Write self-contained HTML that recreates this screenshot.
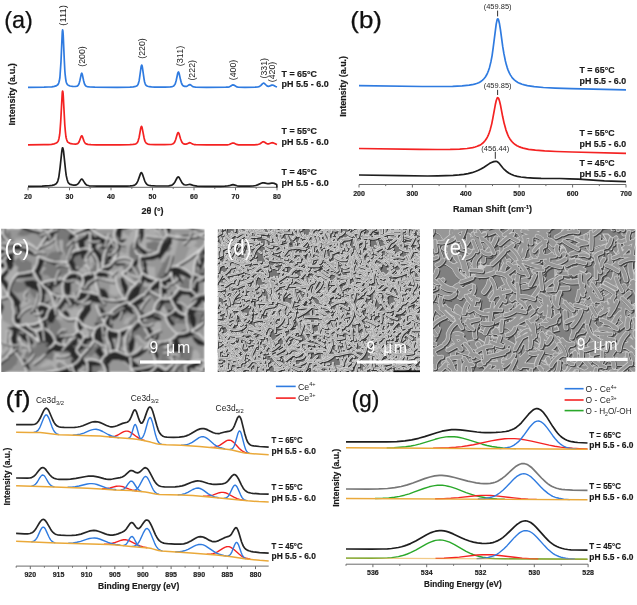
<!DOCTYPE html>
<html><head><meta charset="utf-8"><title>Figure</title>
<style>html,body{margin:0;padding:0;background:#fff;width:637px;height:605px;overflow:hidden}svg{display:block}</style>
</head><body>
<svg width="637" height="605" viewBox="0 0 637 605">
<rect width="637" height="605" fill="#fff"/>
<g stroke="#6a6a6a" stroke-width="1" fill="none">
<path d="M28,187.3H277"/>
<path d="M28,187.3v3M69.5,187.3v3M111,187.3v3M152.5,187.3v3M194,187.3v3M235.5,187.3v3M277,187.3v3M48.8,187.3v1.6M90.2,187.3v1.6M131.8,187.3v1.6M173.2,187.3v1.6M214.8,187.3v1.6M256.2,187.3v1.6"/></g>
<g fill="none" stroke-width="1.7" stroke-linejoin="round">
<path stroke="#2f7be0" d="M28,87.3 44.1,87.2 48.5,87 51.8,86.8 54.3,86.4 56,85.9 57.4,85.1 58.2,84.1 58.7,83.1 59.3,81.1 59.9,77.5 60.1,74.8 61,61.5 62.1,36.1 62.3,31.7 62.6,29.9 62.9,31 63.2,34.9 64.3,60.2 64.8,70.3 65.1,74 65.7,79.1 66.2,82 66.5,82.8 67.1,84 67.6,84.7 68.2,85.1 69,85.6 70.1,86 72.6,86.4 75.4,86.5 77,86.1 77.6,85.9 78.1,85.4 78.7,84.5 79.2,83.1 79.8,81 81.2,74.3 81.5,73.5 81.7,73.2 82,73.5 82.3,74.3 83.7,81 84.5,83.9 85.1,85.1 85.6,85.8 86.4,86.3 87.3,86.6 90,87 94.8,87.2 117.2,87.3 129.9,87.1 133.3,86.8 135.5,86.4 136.6,86 137.4,85.3 138,84.5 138.5,83.1 139.1,80.9 139.6,77.7 141,67.5 141.3,66 141.6,65.2 141.8,65.1 142.1,65.9 142.4,67.3 144.1,79.3 144.6,82 145.2,83.8 145.7,84.9 146.5,85.8 147.7,86.3 149.3,86.7 151.5,86.9 154.9,87.1 164.8,87.1 170.4,86.9 172,86.6 173.1,86.2 173.7,85.9 174.2,85.4 174.8,84.5 175.4,83.3 176.2,80.5 177.8,73 178.1,72.3 178.4,72 178.7,72.2 179.2,73.7 180.6,80.1 181.2,82.2 181.7,83.8 182.3,84.8 182.8,85.5 183.7,86.1 184.8,86.4 185.9,86.4 186.7,86.3 187.5,85.9 189.2,84.8 189.8,84.6 190.6,84.9 192.2,86.2 193.1,86.6 194.2,86.9 195.6,87.1 206.6,87.3 225.8,87.2 228,87.1 229.4,86.8 230.5,86.3 232.1,85.1 233,84.9 233.8,85.1 236.3,86.6 237.1,86.9 238.2,87.1 244.9,87.3 255.4,87.2 257.9,86.9 258.7,86.7 259.6,86.4 260.7,85.6 262.6,83.6 263.4,83.1 263.7,83.1 264.3,83.4 266.5,85.5 267.3,86.1 267.9,86.3 268.4,86.3 269.2,86.2 271.7,85.1 272.6,85 273.4,85.3 275.6,86.5 277,87"/>
<path stroke="#f42222" d="M28,144.9 43.8,144.7 48.2,144.6 51.5,144.3 54,143.9 55.7,143.3 57.1,142.5 57.9,141.5 58.5,140.3 59,138.4 59.6,135 59.9,132.6 60.7,121.6 62.1,95.6 62.3,92.3 62.6,91 62.9,91.8 63.2,94.7 64.8,125 65.4,131.9 65.9,136.5 66.2,138 66.8,140.1 67.6,141.8 68.2,142.4 69,142.9 70.9,143.7 73.1,144 75.4,144.1 76.7,143.9 77.9,143.4 78.7,142.5 79.2,141.5 80.9,137 81.5,135.9 81.7,135.8 82,135.9 82.3,136.3 83.9,140.9 84.5,142.1 85.1,143 85.6,143.6 86.2,143.9 87.8,144.4 90.9,144.7 96.4,144.8 119.7,144.9 129.9,144.7 133,144.4 134.9,144.1 136,143.7 136.9,143.1 137.7,142 138.2,140.6 139.1,137.5 140.7,128.3 141.3,126.5 141.6,126.4 141.8,126.8 142.1,127.6 144.1,138 144.6,140.1 145.2,141.6 146,142.9 146.8,143.6 147.9,144.1 149.6,144.4 155.1,144.7 164.5,144.7 169.8,144.5 171.5,144.3 172.6,144 173.7,143.3 174.2,142.7 174.8,141.7 175.6,139.7 177.3,134.1 177.8,132.8 178.1,132.5 178.4,132.6 179,133.5 180.6,139 181.7,141.8 182.3,142.7 183.1,143.5 183.9,143.9 184.8,144.1 185.9,144.1 186.7,143.9 188.9,142.9 189.8,142.7 190.6,142.9 192.2,143.9 193.4,144.3 194.5,144.6 195.8,144.7 206.6,144.9 225.2,144.9 227.4,144.8 229.1,144.5 230.2,144.1 232.1,143.2 233,143 233.8,143.1 236.6,144.4 238.5,144.8 244.3,144.9 254.3,144.8 257.1,144.7 258.7,144.3 260.1,143.7 262.6,141.9 263.4,141.7 264.3,142 266.5,143.5 267.6,143.9 269,143.8 271.7,142.8 272.6,142.7 273.4,142.9 275.9,144.1 277,144.5"/>
<path stroke="#1e1e1e" d="M28,186.3 42.1,186.1 49.6,185.7 52.1,185.3 54,184.9 55.4,184.3 56.5,183.3 57.4,182 57.9,180.6 58.5,178.6 59,175.8 60.1,167.4 61.8,151.4 62.3,148.3 62.6,147.8 62.9,148.1 63.5,150.9 65.7,171.5 66.2,175.4 67.1,179.4 67.9,181.8 68.4,182.8 69,183.4 69.5,183.9 70.4,184.4 72.3,184.9 73.7,185.1 75.1,185.1 76.2,184.9 77,184.5 77.9,183.9 78.7,183 80.9,179.6 81.5,179.1 81.7,179.1 82,179.1 82.6,179.6 84.8,183.1 85.9,184.4 86.4,184.9 87.3,185.3 89.2,185.8 92.3,186 97,186.2 115,186.2 126.9,186.1 130.2,185.9 132.7,185.6 133.8,185.4 134.9,184.9 135.7,184.3 136.6,183.4 137.4,181.9 138,180.6 140.5,173.6 141,172.7 141.3,172.6 141.6,172.7 141.8,173 142.4,174.1 144.6,180.6 145.2,181.8 146,183.3 146.8,184.3 147.9,185 149.3,185.5 151,185.7 156.2,186 163.7,186 168.7,185.8 171.2,185.4 172.6,184.7 173.4,184 174,183.4 175.1,181.7 177,178 177.6,177.2 178.1,176.9 178.7,177 179.2,177.6 181.7,182.2 182.8,183.7 183.9,184.6 184.5,184.8 185.3,185 186.4,185 188.9,184.5 189.8,184.4 190.9,184.6 194.2,185.7 197.2,186.1 205.3,186.3 220.5,186.3 224.9,186.2 227.4,186 229.1,185.7 231.9,184.9 233,184.7 234.1,184.9 237.1,185.8 239.1,186.1 242.7,186.2 249,186.1 252.9,186 255.7,185.5 257.6,184.9 261.2,183.3 262.6,182.9 264,182.9 266.5,183.4 267.9,183.6 269,183.6 271.5,183.1 272.6,183 274.2,183.4 276.7,184.5 277,187.6"/>
</g>
<g style="font-family:'Liberation Sans',Arial,sans-serif">
<text x="28" y="198.6" font-size="7" font-weight="bold" text-anchor="middle" fill="#222" stroke="#222" stroke-width="0.18">20</text>
<text x="69.5" y="198.6" font-size="7" font-weight="bold" text-anchor="middle" fill="#222" stroke="#222" stroke-width="0.18">30</text>
<text x="111" y="198.6" font-size="7" font-weight="bold" text-anchor="middle" fill="#222" stroke="#222" stroke-width="0.18">40</text>
<text x="152.5" y="198.6" font-size="7" font-weight="bold" text-anchor="middle" fill="#222" stroke="#222" stroke-width="0.18">50</text>
<text x="194" y="198.6" font-size="7" font-weight="bold" text-anchor="middle" fill="#222" stroke="#222" stroke-width="0.18">60</text>
<text x="235.5" y="198.6" font-size="7" font-weight="bold" text-anchor="middle" fill="#222" stroke="#222" stroke-width="0.18">70</text>
<text x="277" y="198.6" font-size="7" font-weight="bold" text-anchor="middle" fill="#222" stroke="#222" stroke-width="0.18">80</text>
<text x="152.6" y="214" font-size="9" font-weight="bold" text-anchor="middle" fill="#1a1a1a" stroke="#1a1a1a" stroke-width="0.18">2θ (°)</text>
<text x="15" y="94.3" font-size="9" font-weight="bold" text-anchor="middle" fill="#1a1a1a" transform="rotate(-90 15 94.3)" textLength="62.5" lengthAdjust="spacingAndGlyphs" stroke="#1a1a1a" stroke-width="0.18">Intensity (a.u.)</text>
<text x="66.5" y="15.4" font-size="8.9" text-anchor="middle" fill="#262626" transform="rotate(-90 66.5 15.4)" textLength="20.5" lengthAdjust="spacingAndGlyphs">(111)</text>
<text x="84.6" y="56.5" font-size="8.9" text-anchor="middle" fill="#262626" transform="rotate(-90 84.6 56.5)" textLength="20.5" lengthAdjust="spacingAndGlyphs">(200)</text>
<text x="144.7" y="48.5" font-size="8.9" text-anchor="middle" fill="#262626" transform="rotate(-90 144.7 48.5)" textLength="20.5" lengthAdjust="spacingAndGlyphs">(220)</text>
<text x="182.6" y="56" font-size="8.9" text-anchor="middle" fill="#262626" transform="rotate(-90 182.6 56)" textLength="20.5" lengthAdjust="spacingAndGlyphs">(311)</text>
<text x="195.1" y="70.3" font-size="8.9" text-anchor="middle" fill="#262626" transform="rotate(-90 195.1 70.3)" textLength="20.5" lengthAdjust="spacingAndGlyphs">(222)</text>
<text x="236.1" y="70" font-size="8.9" text-anchor="middle" fill="#262626" transform="rotate(-90 236.1 70)" textLength="20.5" lengthAdjust="spacingAndGlyphs">(400)</text>
<text x="266.7" y="68.2" font-size="8.9" text-anchor="middle" fill="#262626" transform="rotate(-90 266.7 68.2)" textLength="20.5" lengthAdjust="spacingAndGlyphs">(331)</text>
<text x="274.6" y="72" font-size="8.9" text-anchor="middle" fill="#262626" transform="rotate(-90 274.6 72)" textLength="20.5" lengthAdjust="spacingAndGlyphs">(420)</text>
<text x="281.5" y="76.6" font-size="8.8" font-weight="bold" fill="#1a1a1a" textLength="35.4" lengthAdjust="spacingAndGlyphs" stroke="#1a1a1a" stroke-width="0.18">T = 65°C</text>
<text x="281.5" y="87" font-size="8.8" font-weight="bold" fill="#1a1a1a" textLength="47.2" lengthAdjust="spacingAndGlyphs" stroke="#1a1a1a" stroke-width="0.18">pH 5.5 - 6.0</text>
<text x="281.5" y="133.8" font-size="8.8" font-weight="bold" fill="#1a1a1a" textLength="35.4" lengthAdjust="spacingAndGlyphs" stroke="#1a1a1a" stroke-width="0.18">T = 55°C</text>
<text x="281.5" y="145.2" font-size="8.8" font-weight="bold" fill="#1a1a1a" textLength="47.2" lengthAdjust="spacingAndGlyphs" stroke="#1a1a1a" stroke-width="0.18">pH 5.5 - 6.0</text>
<text x="281.5" y="174.8" font-size="8.8" font-weight="bold" fill="#1a1a1a" textLength="35.4" lengthAdjust="spacingAndGlyphs" stroke="#1a1a1a" stroke-width="0.18">T = 45°C</text>
<text x="281.5" y="186" font-size="8.8" font-weight="bold" fill="#1a1a1a" textLength="47.2" lengthAdjust="spacingAndGlyphs" stroke="#1a1a1a" stroke-width="0.18">pH 5.5 - 6.0</text>
<text x="4.2" y="27.8" font-size="23.4" fill="#111" textLength="28.6" lengthAdjust="spacingAndGlyphs" stroke="#111" stroke-width="0.25">(a)</text>
</g>
<g stroke="#6a6a6a" stroke-width="1" fill="none">
<path d="M359,184.5H626"/>
<path d="M359,184.5v3M412.4,184.5v3M465.8,184.5v3M519.2,184.5v3M572.6,184.5v3M626,184.5v3M385.7,184.5v1.6M439.1,184.5v1.6M492.5,184.5v1.6M545.9,184.5v1.6M599.3,184.5v1.6"/></g>
<g fill="none" stroke-width="1.7" stroke-linejoin="round">
<path stroke="#2f7be0" d="M359,85.7 422.3,86.5 440.1,86.5 452.6,86.3 462.1,85.9 469.2,85.2 472.2,84.7 474.5,84.1 476.6,83.5 478.7,82.7 480.5,81.7 482.3,80.4 483.7,79 485.2,77.2 486.4,75.3 487.6,72.8 488.5,70.6 489.4,67.9 490.9,61.9 492.1,55.6 493.2,47.6 496.2,24.1 497.1,19.8 497.4,19.1 497.7,18.8 498,18.9 498.3,19.3 498.6,20 499.5,23.8 500.4,29.4 502.7,46.4 503.9,53.7 505.4,61 506.3,64.6 507.2,67.6 508.1,70.1 509.3,72.9 510.5,75.1 511.7,76.9 512.8,78.4 514.3,79.9 516.1,81.3 517.9,82.4 520,83.4 522.1,84.2 524.4,84.9 527.4,85.6 534.2,86.6 543.4,87.5 555.3,88.1 571.4,88.7 626,89.8"/>
<path stroke="#f42222" d="M359,148.5 419.9,149.4 437.4,149.5 450.2,149.4 459.7,149.1 467.1,148.5 472.7,147.6 475.1,147 477.2,146.3 479.3,145.4 481.1,144.4 482.6,143.3 484,141.9 485.2,140.5 486.4,138.8 487.6,136.6 488.5,134.6 489.4,132.2 490.3,129.4 491.8,123.6 492.9,117.9 495.3,104.8 496.2,100.8 497.1,98.2 497.4,97.8 497.7,97.6 498,97.7 498.6,98.4 499.5,101 500.4,104.7 502.7,116.8 504.2,123.6 506,130.1 507.8,134.9 508.7,136.8 509.9,138.9 511.1,140.6 512.3,142 513.7,143.4 515.2,144.6 517,145.7 518.8,146.6 520.9,147.4 523.2,148.1 528.6,149.3 535.4,150.1 544.6,150.9 556.5,151.5 572.2,152 626,153.3"/>
<path stroke="#1e1e1e" d="M359,175 400.9,175.7 427.6,176 437.7,175.9 446,175.7 453.1,175.4 459.1,174.9 463.8,174.3 468,173.6 471.9,172.7 475.4,171.5 478.4,170.3 481.4,168.8 484,167.2 489.4,163.6 491.5,162.5 493.8,161.6 495.9,161.3 497.1,161.6 498.3,162.5 499.5,163.7 502.7,167.7 504.5,169.7 506.6,171.5 508.7,173 511.1,174.3 514,175.5 517.3,176.3 520.9,177 526.5,177.7 533.6,178.1 541.1,178.4 559.8,178.5 569.6,178.8 578.5,179.2 604.3,180.8 626,181.6"/>
</g>
<path stroke="#333" stroke-width="1" d="M497.6,10.6V16.4M497.6,89.8V95M495.3,151.8V158.8"/>
<g style="font-family:'Liberation Sans',Arial,sans-serif">
<text x="359" y="196.1" font-size="7" font-weight="bold" text-anchor="middle" fill="#222" stroke="#222" stroke-width="0.18">200</text>
<text x="412.4" y="196.1" font-size="7" font-weight="bold" text-anchor="middle" fill="#222" stroke="#222" stroke-width="0.18">300</text>
<text x="465.8" y="196.1" font-size="7" font-weight="bold" text-anchor="middle" fill="#222" stroke="#222" stroke-width="0.18">400</text>
<text x="519.2" y="196.1" font-size="7" font-weight="bold" text-anchor="middle" fill="#222" stroke="#222" stroke-width="0.18">500</text>
<text x="572.6" y="196.1" font-size="7" font-weight="bold" text-anchor="middle" fill="#222" stroke="#222" stroke-width="0.18">600</text>
<text x="626" y="196.1" font-size="7" font-weight="bold" text-anchor="middle" fill="#222" stroke="#222" stroke-width="0.18">700</text>
<text x="492.5" y="211.8" font-size="9" font-weight="bold" text-anchor="middle" fill="#1a1a1a" stroke="#1a1a1a" stroke-width="0.18">Raman Shift (cm<tspan dy="-3" font-size="5.5">-1</tspan><tspan dy="3">)</tspan></text>
<text x="346.5" y="86.3" font-size="9" font-weight="bold" text-anchor="middle" fill="#1a1a1a" transform="rotate(-90 346.5 86.3)" textLength="60.8" lengthAdjust="spacingAndGlyphs" stroke="#1a1a1a" stroke-width="0.18">Intensity (a.u.)</text>
<text x="497.6" y="9" font-size="7.5" text-anchor="middle" fill="#262626" textLength="27.9" lengthAdjust="spacingAndGlyphs">(459.85)</text>
<text x="497.6" y="88.3" font-size="7.5" text-anchor="middle" fill="#262626" textLength="27.9" lengthAdjust="spacingAndGlyphs">(459.85)</text>
<text x="495.3" y="150.6" font-size="7.5" text-anchor="middle" fill="#262626" textLength="27.9" lengthAdjust="spacingAndGlyphs">(456.44)</text>
<text x="579.5" y="73" font-size="8.6" font-weight="bold" fill="#1a1a1a" textLength="35" lengthAdjust="spacingAndGlyphs" stroke="#1a1a1a" stroke-width="0.18">T = 65°C</text>
<text x="579.5" y="84.4" font-size="8.6" font-weight="bold" fill="#1a1a1a" textLength="46.6" lengthAdjust="spacingAndGlyphs" stroke="#1a1a1a" stroke-width="0.18">pH 5.5 - 6.0</text>
<text x="579.5" y="135.8" font-size="8.6" font-weight="bold" fill="#1a1a1a" textLength="35" lengthAdjust="spacingAndGlyphs" stroke="#1a1a1a" stroke-width="0.18">T = 55°C</text>
<text x="579.5" y="147.2" font-size="8.6" font-weight="bold" fill="#1a1a1a" textLength="46.6" lengthAdjust="spacingAndGlyphs" stroke="#1a1a1a" stroke-width="0.18">pH 5.5 - 6.0</text>
<text x="579.5" y="165.6" font-size="8.6" font-weight="bold" fill="#1a1a1a" textLength="35" lengthAdjust="spacingAndGlyphs" stroke="#1a1a1a" stroke-width="0.18">T = 45°C</text>
<text x="579.5" y="177" font-size="8.6" font-weight="bold" fill="#1a1a1a" textLength="46.6" lengthAdjust="spacingAndGlyphs" stroke="#1a1a1a" stroke-width="0.18">pH 5.5 - 6.0</text>
<text x="350.3" y="27.8" font-size="23.4" fill="#111" textLength="31.6" lengthAdjust="spacingAndGlyphs" stroke="#111" stroke-width="0.25">(b)</text>
</g>
<filter id="sb" x="0" y="0" width="100%" height="100%"><feGaussianBlur stdDeviation="0.6"/></filter>
<filter id="sb2" x="0" y="0" width="100%" height="100%"><feGaussianBlur stdDeviation="0.8"/></filter>
<clipPath id="cc"><rect x="1.3" y="228.7" width="203.3" height="143.4"/></clipPath>
<g clip-path="url(#cc)"><g filter="url(#sb2)"><rect x="1.3" y="228.7" width="203.3" height="143.4" fill="#969696"/>
<path d="M132,365l-3,2 -10,-8 2,-8 5,-6 9,3 3,9zM208,260l-3,2 -4,0 -7,-3 4,-2 3,-1 5,2zM169,260l-2,-3 1,-9 0,-4 4,-1 1,6 -1,11zM74,377l-3,-1 4,-11 5,-8 6,2 -2,8 -7,14zM198,364l-5,1 -3,-2 -6,-8 7,-4 6,-1 3,5zM159,237l-5,2 -4,0 -3,-5 4,-10 4,3 6,0zM3,344l-4,1 -5,-8 4,-7 7,-5 8,8 -2,5zM56,382l-2,-13 -1,-8 2,-8 4,-3 1,15 0,9zM147,345l-5,-2 -7,-8 -6,-14 7,1 8,6 2,7zM129,324l-6,0 2,-4 1,-2 5,-1 3,1 -1,4zM45,313l-3,0 -5,-1 -1,-4 -1,-3 6,1 4,4zM9,281l-4,-2 1,-7 6,-1 2,3 5,6 -5,4zM161,347l1,-3 5,-4 10,-2 -2,4 -3,5 -8,1zM136,354l-3,-3 -3,-5 5,-4 2,0 3,6 -1,4zM182,279l-3,-5 5,-13 3,-2 2,3 1,2 -5,12zM27,273l2,-6 14,-6 8,0 -3,5 -7,7 -11,1zM158,295l-6,2 -5,-1 -8,-2 0,-6 8,0 8,1zM166,362l-1,-5 5,0 3,1 -1,5 -1,2 -5,-1zM142,295l1,-1 5,-3 5,-1 0,2 -1,3 -8,2zM107,283l-3,-10 -1,-11 4,0 4,-3 3,6 -3,16zM16,279l-11,5 -2,-6 1,-6 5,-7 5,3 6,5zM125,287l-16,-7 4,-7 7,-6 7,-2 9,11 -7,7zM151,262l-7,0 -14,0 -4,-3 -3,-6 14,2 9,2zM136,312l-6,0 -3,-2 -4,-5 3,-3 5,3 3,3zM115,296l-6,-2 1,-9 2,-9 5,-3 6,11 -2,9zM146,331l-5,5 -11,-4 -2,-10 3,-2 7,-3 6,7zM142,249l-8,-2 0,-11 5,-6 6,-3 6,11 -5,6zM148,352l-4,-7 -2,-6 9,1 4,3 2,6 -4,2zM97,343l-9,4 -5,-2 -4,-8 3,-5 7,1 6,4zM133,252l-1,0 -6,0 2,-5 2,-4 3,1 3,4zM162,263l-3,-6 7,-10 10,-14 4,1 -6,23 -11,10zM132,342l-1,-10 2,-6 6,-10 3,2 -1,6 -5,13zM179,274l0,-4 14,-12 5,3 8,2 -13,10 -12,7zM19,307l2,-4 5,-5 4,1 1,2 -4,4 -4,2zM140,289l1,-4 1,-2 4,-4 1,2 -2,3 -2,4zM42,346l-7,-2 -2,-12 12,-5 6,-2 3,11 0,6zM16,283l-4,-6 -4,-8 4,-11 4,-4 7,5 1,15zM165,314l-3,-2 -1,-7 1,-4 4,0 1,6 2,6zM185,244l-1,-2 3,-4 5,-1 3,6 -4,4 -1,1zM204,341l-1,0 -6,-6 1,-1 1,-3 3,4 3,4zM75,317l-4,2 -3,-4 3,-4 3,-3 6,1 1,5zM26,331l-2,-6 10,-2 0,4 4,5 -4,6 -8,-2zM140,334l2,-13 7,-10 9,8 3,5 0,11 -13,1zM98,286l-2,6 -7,-2 -2,-5 -1,-5 6,-2 4,2zM153,338l-7,2 -4,3 -5,-5 0,-3 5,-1 7,-1zM79,318l-12,2 -13,-1 -9,-3 2,-4 7,-1 16,-2zM92,263l-6,2 -6,0 3,-6 5,-7 7,-6 3,8zM66,255l-1,-7 -4,-10 8,-6 4,2 3,8 -3,12zM157,294l0,-2 3,-5 3,2 4,5 -1,6 -4,-1zM66,368l-6,1 -2,1 -6,-4 0,-8 6,-4 7,5zM117,264l-7,-6 4,-5 5,-3 5,4 5,10 -7,3zM135,273l-7,-9 3,-12 1,-20 4,4 4,16 -1,10zM8,272l-4,-9 5,-5 8,0 3,4 3,9 -3,1zM39,251l-2,6 -12,-6 -11,-6 1,-6 10,-1 11,9zM145,289l-2,-12 -2,-4 2,-8 9,2 3,0 0,13zM65,255l-6,-2 1,-15 6,-10 5,7 4,5 -6,16zM83,295l-6,-5 5,-9 5,-5 10,4 -3,9 -4,12zM125,246l-5,-5 -4,-4 5,-6 8,5 6,5 -3,3zM73,342l-7,4 -7,-4 -7,-2 -2,-5 9,1 10,3zM9,362l-1,-2 14,-10 4,-3 5,1 -2,7 -13,8zM115,340l-7,8 -7,-4 -3,-3 -1,-9 8,-4 9,5zM108,357l-10,-7 -6,-2 -6,-14 6,3 6,5 7,6zM100,252l-7,0 -3,-7 3,-3 7,-2 5,3 -1,8zM187,246l-4,-7 5,-2 4,-1 3,2 2,5 -5,4zM173,357l-5,-8 6,-5 4,0 3,4 3,8 -5,-2zM-4,367l1,-7 4,-8 6,-7 3,7 -2,7 -7,3zM184,261l3,-7 2,-5 5,-3 6,3 -3,9 -3,2zM86,341l-6,-3 -5,-5 -2,-8 7,-1 5,2 2,10zM128,375l2,-6 3,-6 3,-5 4,1 -2,6 -5,6zM131,252l-4,-4 3,-15 7,-6 3,8 3,4 -5,7zM142,291l-4,-4 2,-6 1,-5 5,2 1,3 -2,6zM134,362l-7,-5 -1,-4 7,-2 8,1 -1,5 0,5zM105,276l-12,0 -12,-4 -7,-6 3,-7 15,6 8,6zM12,334l-4,1 -6,-5 -7,-6 3,-6 11,6 5,5zM125,263l-1,-7 6,-6 11,-5 6,1 -5,10 -11,10zM201,266l-3,1 -3,-7 3,-5 5,-1 9,2 -4,5zM38,368l4,-4 5,-4 7,-2 0,3 -2,4 -7,2zM15,367l-4,3 -4,1 -6,-7 2,-4 7,0 5,0zM44,243l1,-5 5,2 3,1 1,4 -3,4 -5,0zM152,249l-5,-1 -3,-3 -1,-3 3,-5 6,4 1,4z" fill="#acacac"/>
<path d="M-12,251l5,-7 13,0 12,1 -4,4 -8,6 -13,-2zM21,265l-3,2 -3,-2 -1,-4 1,-1 4,-3 4,5zM60,240l-1,-7 2,-10 7,-3 5,9 0,4 -3,7zM85,377l1,-5 7,-12 6,-2 6,1 0,5 -11,12zM123,315l1,-3 4,-6 5,-3 2,1 0,4 -8,6zM36,348l0,-5 4,-5 5,-2 1,4 2,3 -8,8zM172,248l-3,4 -13,-1 -9,-2 -1,-6 9,-2 10,4zM193,318l-2,-3 0,-4 0,-8 5,4 2,3 -1,4zM15,365l-7,2 -7,-10 7,-7 7,-1 8,4 -4,6zM69,272l-10,5 -5,4 -11,-10 5,-4 8,-4 6,-1zM103,311l-4,-8 -2,-7 1,-7 7,-1 3,6 0,8zM107,342l-5,-7 -7,-9 4,-15 2,-2 5,11 6,18zM9,289l3,-4 9,-3 14,-3 -2,4 -10,9 -6,1zM65,353l3,-7 7,-3 10,0 -1,7 0,6 -8,1zM52,243l-10,-4 -2,-1 -7,-8 2,-3 5,3 9,9zM42,274l2,-4 7,-2 7,-2 -2,3 -5,5 -5,1zM184,383l-9,-6 -6,-6 -10,-13 5,-4 11,10 3,6zM87,355l3,-7 5,-2 9,-7 2,4 -7,6 -8,8zM100,256l-2,-7 6,-6 10,-5 3,4 -4,8 -3,3zM67,258l-4,-9 0,-10 4,-6 5,5 6,4 -6,10zM39,343l3,-8 13,-6 11,3 -2,6 -8,7 -9,-2zM157,303l-2,-1 -5,-7 3,-9 10,-1 3,5 -4,11zM143,323l6,-5 2,-3 10,-1 -2,5 -2,3 -11,4zM190,362l-7,-2 -4,-6 2,-8 7,-1 5,2 -1,10zM160,280l-3,-4 4,-8 5,-9 2,-2 1,9 -3,11zM88,260l-6,8 -7,-2 -2,-5 -1,-8 7,-3 9,3zM8,365l-1,-4 1,-7 4,-5 3,-3 -2,11 -2,5zM209,277l-6,2 -2,0 -5,-9 7,-1 5,-3 3,5zM12,251l-5,-2 -8,-9 -4,-8 6,-5 5,6 8,8zM32,271l-7,1 -4,4 -4,-6 3,-6 6,-5 6,4zM143,273l0,3 -17,-3 -3,-5 -1,-3 12,-1 10,6zM98,243l0,-3 5,-5 3,-1 1,2 -1,2 -5,6zM146,342l-3,-2 -4,-5 4,-3 5,-2 5,5 1,5zM68,309l0,-10 7,-6 15,-11 0,9 -8,8 -8,7zM122,347l-4,-3 -3,-6 -3,-8 3,1 4,1 5,12zM24,357l2,-5 6,-4 11,-3 -2,6 -3,3 -10,4zM67,345l-2,-3 0,-5 4,-4 2,2 0,4 -3,4zM182,379l-1,-6 -4,-5 4,-6 6,2 4,3 -2,7zM128,330l0,-6 11,2 7,0 -3,7 -4,2 -12,1zM24,286l-6,2 -7,-2 -2,-3 2,-2 0,-2 11,4zM51,234l-6,-8 3,-2 8,0 6,2 -2,9 -3,5zM66,375l-4,-1 -2,-3 -4,-6 2,-1 6,3 2,4zM172,268l-3,4 -5,-3 -2,-4 1,-3 7,1 2,3zM141,252l-2,7 -9,2 -1,-9 1,-6 3,-4 5,4zM34,358l-2,-4 4,-3 4,-1 1,3 1,3 -4,1zM17,235l4,-5 6,-3 7,1 2,3 -8,4 -5,1zM91,274l-1,-1 3,-7 6,-4 0,4 -1,3 -3,4zM165,355l-5,1 -2,-2 -1,-6 1,-3 5,2 6,4zM39,300l-6,-3 -4,-6 3,-6 5,-2 10,6 -4,6zM174,326l-5,-11 -5,-9 0,-7 6,3 4,0 3,16zM57,240l-9,0 -2,-9 8,-9 8,0 3,10 -2,7zM88,287l-4,0 -3,-7 1,-5 7,-4 6,6 -4,5zM-6,372l1,-8 5,-5 11,-1 7,4 -6,7 -15,8zM0,255l-2,1 6,-20 6,-5 1,5 -2,8 -4,9zM170,265l-2,-4 -1,-4 3,-2 4,0 0,3 0,3zM53,361l-8,-3 -6,-7 0,-7 5,-1 6,3 4,8zM82,359l-1,-7 1,-7 3,-8 6,-4 0,10 -2,12zM175,323l7,-7 15,-3 10,0 -7,7 0,4 -13,0zM43,267l3,-5 4,-4 11,-2 -2,7 -2,5 -10,0zM48,236l-4,-3 -3,-4 2,-3 4,-2 4,4 2,3zM71,245l-2,2 -4,-7 0,-3 -1,-4 5,4 4,6zM46,258l3,-4 3,-2 8,-1 4,2 -8,6 -5,1zM129,334l-1,-6 1,-6 8,-8 5,4 -2,6 -6,12zM120,292l11,-4 8,-4 11,5 -1,7 -8,0 -14,1zM191,294l-4,0 -10,-4 4,-6 5,-7 7,8 0,3zM50,336l-1,-4 0,-8 3,-3 2,0 0,5 -1,7zM97,335l-1,-6 6,-1 2,2 1,2 -2,4 -4,2zM169,249l-4,-2 0,-5 0,-5 2,1 2,2 1,4zM57,270l-3,-3 -1,-6 0,-4 4,2 2,1 0,6zM61,331l-9,-1 -12,-11 -9,-13 6,-5 14,10 10,14z" fill="#787878"/>
<path d="M175,212Q189,228 210,231M175,212Q172,222 161,224M161,224Q166,228 167,235M167,235Q189,242 209,231M154,216Q159,219 161,224M11,334Q9,337 10,341M116,228Q123,221 133,221M154,216Q145,217 139,223M139,223Q135,223 133,221M49,232Q43,241 37,250M49,232Q34,231 20,224M37,250Q30,242 19,243M126,300Q127,290 136,284M126,300Q126,299 124,299M116,277Q117,289 124,299M122,273Q127,281 136,284M210,259Q211,265 212,272M209,231Q210,238 206,244M206,244Q206,252 210,259M194,274Q193,259 203,247M193,276Q186,268 176,266M203,247Q191,258 176,266M206,244Q204,245 203,247M210,277Q212,275 212,272M210,277Q202,278 194,274M158,252Q160,242 167,235M171,267Q174,266 176,266M210,277Q208,286 208,296M214,300Q212,297 208,296M187,385Q193,381 199,378M215,374Q209,370 205,365M205,365Q200,370 199,378M214,300Q210,322 191,331M207,343Q201,334 191,331M205,365Q205,362 203,360M187,385Q186,384 185,383M185,383Q187,374 185,366M203,360Q193,360 185,366M40,321Q39,313 35,307M40,321Q34,326 26,324M26,324Q21,327 15,324M15,324Q13,321 13,317M13,317Q14,314 14,311M114,260Q124,255 133,260M114,260Q120,250 115,240M135,249Q136,254 140,256M116,228Q113,233 115,239M139,223Q136,236 135,249M158,252Q150,256 140,256M122,273Q131,269 133,260M142,273Q140,276 140,280M142,273Q138,265 140,256M136,284Q137,281 140,280M77,298Q78,295 80,291M80,291Q90,292 100,295M101,298Q100,297 100,295M64,296Q61,288 64,279M64,296Q71,296 77,298M82,276Q77,271 70,273M82,276Q85,284 80,291M64,279Q66,275 70,273M95,273Q95,285 100,295M95,273Q88,272 82,276M127,302Q111,307 104,322M104,322Q99,314 96,305M124,299Q112,302 101,298M79,250Q74,250 71,253M79,250Q75,243 77,236M77,236Q75,235 73,233M73,233Q65,226 55,223M90,250Q90,241 90,232M90,250Q85,247 79,250M90,232Q83,233 77,236M49,232Q52,229 55,224M38,256Q51,263 66,262M66,262Q71,259 71,253M91,224Q91,226 91,229M91,224Q83,230 73,233M17,206Q20,215 20,224M-15,368Q5,382 28,375M-15,368Q-17,368 -18,369M37,385Q30,382 28,375M35,402Q24,400 17,392M12,349Q3,365 -15,368M13,350Q23,361 28,375M10,341Q12,345 12,349M38,256Q38,264 33,271M66,262Q70,267 70,273M64,279Q52,279 41,283M41,283Q40,282 39,282M33,271Q36,276 39,282M35,307Q38,306 39,304M14,311Q12,308 13,304M39,304Q43,293 38,283M-8,279Q-6,279 -5,278M-8,279Q-18,284 -18,296M-5,278Q3,285 8,296M-18,296Q-13,294 -9,297M-9,297Q0,300 8,296M6,268Q1,274 -5,278M17,274Q8,283 8,296M-6,316Q-3,306 -9,297M13,304Q12,299 8,296M17,274Q25,273 33,271M63,297Q53,296 47,289M63,297Q60,302 57,307M47,289Q54,297 54,307M41,283Q43,287 47,289M39,304Q45,303 50,308M50,308Q52,307 54,307M91,251Q100,259 98,271M98,271Q99,270 100,271M112,240Q102,252 103,267M103,267Q101,268 100,271M91,229Q100,237 112,240M95,273Q97,273 98,271M116,277Q109,271 100,271M115,240Q113,240 112,240M114,260Q111,266 103,267M14,244Q6,241 3,234M7,251Q4,247 -1,248M-1,248Q-4,238 -13,231M3,234Q-2,231 -8,232M-8,232Q-11,232 -13,231M19,243Q17,245 14,244M17,206Q15,209 13,212M13,212Q2,220 3,234M6,268Q6,264 4,261M4,261Q7,256 7,251M13,212Q5,224 -8,232M131,326Q121,340 127,355M131,326Q125,329 119,331M127,355Q122,353 117,351M117,351Q120,341 119,331M83,308Q79,312 77,318M67,319Q72,320 77,318M67,319Q59,315 57,307M142,273Q149,278 157,280M157,280Q153,283 149,288M171,272Q169,279 161,280M157,280Q159,279 161,280M185,383Q174,386 162,389M173,364Q169,366 166,370M15,325Q28,332 39,342M26,324Q30,329 36,331M36,331Q38,337 39,342M42,379Q43,375 46,372M-23,267Q-9,268 3,261M104,322Q105,323 104,325M77,318Q84,328 95,329M104,325Q99,324 95,329M117,351Q114,350 110,352M110,352Q111,345 107,339M119,331Q113,332 108,328M108,328Q105,333 107,339M110,352Q108,352 107,354M107,354Q104,345 95,341M76,350Q78,354 81,356M76,350Q81,344 84,337M81,356Q88,349 94,341M84,337Q88,337 93,335M93,335Q93,338 94,341M68,345Q70,336 78,331M78,331Q82,332 84,337M78,331Q75,325 77,318M95,329Q94,332 93,335M104,325Q106,326 108,328M126,376Q115,379 106,375M161,280Q160,289 161,297M149,288Q150,289 150,291M150,291Q155,294 161,297M127,302Q129,302 129,304M150,291Q139,296 129,304M139,320Q137,326 131,326M139,320Q139,319 139,317M139,317Q138,308 129,304M179,288Q176,292 172,297M179,288Q185,291 191,290M191,290Q194,293 197,296M197,296Q196,303 190,306M193,276Q190,282 191,290M171,272Q171,282 179,288M139,320Q146,329 151,340M151,340Q149,343 148,347M127,355Q129,356 130,357M148,347Q138,350 130,357M55,340Q52,331 43,328M43,328Q40,325 40,321M40,321Q43,319 46,318M68,345Q61,346 55,342M55,342Q55,341 55,340M50,308Q47,312 46,318M55,342Q53,346 49,348M36,331Q40,330 43,328M-10,253Q-18,259 -26,266M-1,248Q-5,249 -10,250M3,261Q-6,261 -10,253M-23,267Q-25,267 -26,266M42,379Q56,382 70,379M91,398Q85,394 86,388M70,379Q77,385 86,388M81,356Q78,363 72,365M86,360Q90,371 84,381M84,381Q78,378 74,372M72,365Q72,369 74,372M107,354Q102,357 101,362M101,362Q94,358 86,360M46,372Q59,371 72,365M101,362Q106,368 106,375M172,297Q171,298 170,298M170,298Q166,300 161,298M139,317Q147,316 154,311M161,298Q154,303 154,311M157,365Q152,373 143,376M156,364Q144,369 131,369M143,376Q135,376 131,369M166,370Q161,367 157,365M159,395Q155,382 143,376M151,340Q160,344 170,340M170,340Q172,352 173,364M148,347Q155,354 156,364M130,357Q131,363 131,369M186,315Q180,314 176,309M186,315Q186,323 189,331M176,309Q171,314 165,316M165,316Q168,327 177,334M177,334Q183,334 189,331M190,306Q186,310 186,315M170,298Q173,304 176,309M154,311Q160,312 165,316M170,340Q174,338 177,334" fill="none" stroke="#383838" stroke-width="2.0" transform="translate(1.1,1.5)"/>
<path d="M196,227l-2,3 -15,-6 -1,-3 -2,-5 8,1 12,8zM161,230l2,-9 8,-7 7,-5 0,6 -3,6 -6,7zM170,232l-1,2 -3,-4 -1,-5 2,-1 2,1 2,5zM194,237l1,2 -9,2 -9,-2 3,-2 4,-2 10,0zM159,227l-1,3 -7,-6 -6,-9 1,-2 10,7 3,4zM14,352l-2,-6 0,-9 4,-8 2,-2 -1,11 -1,12zM134,223l-2,4 -6,2 -4,1 -4,-2 6,-5 6,-1zM136,229l3,-7 8,-3 5,0 5,0 -9,8 -6,1zM128,224l0,-2 10,4 3,2 2,2 -8,-2 -7,-2zM20,228l7,-1 9,2 7,3 -1,2 -9,-1 -6,-2zM17,248l5,0 6,1 10,7 -4,0 -5,-2 -7,-3zM141,286l-2,9 -3,4 -5,4 -3,0 1,-7 7,-10zM115,299l5,1 4,2 5,5 -3,0 -4,-2 -5,-3zM128,300l-3,-5 -4,-10 -1,-7 3,-1 5,9 0,6zM215,276l-3,-3 -4,-15 3,0 2,-5 3,8 2,7zM208,246l0,-6 2,-6 1,-4 2,2 -1,6 -2,6zM213,257l-3,-2 -1,-6 0,-4 1,-4 5,9 1,7zM204,256l1,3 -1,4 -3,7 -3,-3 -1,-3 4,-6zM170,267l11,3 7,3 6,4 -2,3 -6,-3 -10,-4zM200,258l4,-7 3,-4 4,-4 6,-3 -9,10 -2,4zM217,271l0,4 -2,4 -3,3 -2,1 2,-8 2,-1zM191,278l6,-3 6,-2 10,6 -5,2 -5,1 -8,0zM172,236l0,7 -4,6 -8,11 -2,-3 5,-13 6,-6zM181,269l1,4 -10,4 -8,-2 3,-4 6,-4 5,-1zM213,292l-1,-4 0,-7 1,-4 2,0 1,9 0,5zM203,297l4,-1 5,4 5,3 -4,2 -6,-2 -7,-4zM200,380l-1,4 -8,4 -3,0 -2,0 7,-6 3,-1zM202,366l5,2 6,4 3,6 -3,3 -4,-2 -6,-9zM205,378l-1,-2 -1,-5 4,-2 4,0 -2,5 -2,5zM200,324l1,-5 2,-6 4,0 2,1 -1,4 -2,4zM192,336l3,1 9,5 1,3 -1,1 -6,-1 -4,-4zM177,381l5,0 9,7 4,3 0,4 -11,-4 -5,-6zM188,360l2,6 0,10 0,5 -2,2 -3,-6 0,-14zM189,367l1,-2 6,-2 5,-1 -1,3 -3,2 -4,2zM37,304l5,4 2,4 2,9 -4,-1 -4,-6 -2,-8zM23,329l5,-3 10,-4 9,1 2,0 -11,4 -5,1zM7,328l9,-2 10,-1 3,2 6,2 -12,2 -8,1zM16,314l2,0 3,6 -1,4 -4,1 -2,-3 -2,-6zM127,264l-3,1 -7,1 -2,-1 -1,-2 4,0 5,0zM119,243l1,1 1,3 -2,5 -3,1 0,-6 0,-3zM146,256l-2,0 -4,-5 -5,-8 1,-2 8,8 5,7zM119,240l-2,-4 -1,-5 3,-4 2,1 1,2 -1,8zM140,244l0,-5 0,-7 1,-5 3,1 0,7 -1,4zM131,263l10,-6 9,-1 12,-3 1,3 -10,4 -10,1zM137,261l2,2 -7,7 -7,5 0,0 1,-5 7,-7zM138,292l2,-8 3,-11 2,-7 2,3 1,6 -5,9zM144,255l1,5 2,4 0,5 -2,1 -2,-4 0,-5zM84,287l4,6 -4,5 -6,8 -2,0 2,-9 2,-8zM104,302l-6,1 -10,-2 -8,-3 -3,-4 10,0 11,1zM100,288l5,2 3,4 1,6 -5,0 -3,-1 -1,-7zM66,280l5,1 0,9 -2,8 -2,0 -2,-7 0,-5zM77,303l-4,2 -4,-1 -5,-2 -1,-3 6,0 4,1zM66,274l6,0 5,1 0,2 2,2 -4,0 -8,-2zM84,288l-2,1 1,-8 2,-4 1,0 1,6 -1,3zM81,267l-5,6 -6,10 -5,2 -2,0 4,-6 7,-8zM78,280l-1,-3 15,-3 6,-1 0,4 -7,3 -6,2zM112,320l-2,-2 8,-6 8,-5 4,-1 -5,7 -12,8zM99,306l4,3 4,5 0,6 -1,1 -2,-3 -3,-6zM107,301l5,-1 4,0 8,1 -2,2 -4,0 -7,-1zM67,259l1,-4 10,-5 11,-2 -3,2 -7,5 -5,2zM81,236l2,-1 2,9 -1,15 -2,0 -4,-13 1,-4zM70,234l3,1 2,1 6,6 -3,0 -4,1 -6,-4zM93,235l4,4 0,5 -2,7 -4,-2 -1,-5 -1,-9zM80,253l-2,-3 8,1 5,2 1,2 -6,0 -3,0zM78,241l-2,-6 7,-1 7,1 0,3 -1,3 -8,0zM62,221l1,2 -6,9 -9,9 -4,-1 6,-8 12,-15zM67,266l-7,0 -6,-1 -6,-3 0,-2 7,0 5,2zM75,253l0,3 -2,5 -2,2 -3,-1 2,-4 2,-3zM70,239l3,-4 11,-7 13,-5 0,4 -10,9 -7,1zM24,225l-3,-6 0,-6 -1,-8 3,-2 1,8 2,9zM23,379l-7,1 -6,-1 -4,-2 -1,-2 6,0 7,1zM-23,375l4,-3 5,-3 4,-1 2,1 -6,4 -5,2zM19,373l8,5 7,6 1,4 0,5 -8,-6 -4,-7zM13,395l5,0 8,5 6,4 -1,3 -6,-3 -6,-3zM31,371l-4,-3 -2,-3 -2,-6 1,-1 4,5 1,3zM17,352l-4,1 -2,-9 1,-7 1,-9 4,12 1,10zM35,275l-2,-2 2,-8 5,-10 4,4 0,4 -6,14zM76,276l-4,-7 -4,-7 1,-3 0,-5 6,9 1,6zM49,285l2,-2 6,-1 7,-1 -4,3 -4,3 -8,0zM24,281l8,-1 10,2 13,7 -5,1 -13,1 -11,-5zM42,282l-5,-5 -2,-2 -1,-6 1,-3 3,5 4,6zM51,300l-5,6 -4,5 -9,3 -3,0 5,-7 7,-3zM16,299l2,-1 2,10 1,9 -2,-1 -2,-4 -1,-9zM42,279l2,11 1,6 -2,14 -2,3 -3,-16 1,-8zM6,280l-6,7 -10,-2 -6,-2 -3,-3 9,-4 11,1zM-14,295l-1,-4 4,-6 3,-1 1,2 1,3 -3,5zM10,289l-1,3 -6,-6 -1,-5 0,-3 5,3 2,5zM-3,303l-4,1 -9,-1 -2,-2 0,-1 5,0 8,1zM-5,285l0,-4 5,-5 8,-6 1,2 -5,7 -5,4zM-4,299l4,0 4,8 -3,8 -4,-4 -5,-5 2,-5zM4,286l6,3 11,13 -1,3 -2,3 -5,-4 -8,-12zM33,275l0,2 -12,1 -6,1 1,-2 3,-1 12,-2zM48,292l6,1 5,1 2,4 -2,1 -3,1 -4,-4zM61,308l-1,-1 3,-6 2,-2 2,-1 -2,6 -2,3zM54,301l-2,-2 -2,-5 -2,-7 3,0 2,6 4,8zM47,294l-2,0 -7,-6 0,-1 -1,-4 5,3 2,3zM55,312l-2,5 -10,-3 -8,-5 2,-3 6,-1 10,3zM62,308l-3,5 -9,3 -8,1 -3,-4 13,-7 4,0zM98,264l-2,-1 -4,-8 -3,-6 6,-2 7,8 0,6zM108,275l-1,1 -7,1 -14,1 7,-3 7,-3 5,1zM107,264l-1,-4 2,-5 2,-4 2,0 0,8 -3,2zM100,276l1,-3 4,-3 4,-3 2,1 -2,3 -4,3zM111,244l-5,1 -7,-2 -4,-5 3,-3 6,2 4,3zM110,263l-1,4 -7,10 -16,12 3,-7 8,-10 9,-10zM99,273l4,0 5,1 0,2 1,2 -5,-1 -2,-1zM99,248l8,-3 11,-5 9,-1 -3,3 -5,3 -13,5zM103,271l1,-5 4,-3 6,-2 0,3 -2,5 -3,1zM-5,235l5,2 7,5 1,3 1,2 -6,-4 -5,-5zM-3,250l3,0 6,0 2,2 0,3 -2,0 -7,-3zM-9,228l0,-2 7,10 4,7 -5,-2 -7,-2 -1,-7zM-13,235l3,-1 9,1 3,2 -2,1 -2,1 -7,-3zM-20,234l1,-3 14,1 9,3 -8,2 -4,1 -12,0zM13,248l0,-2 4,-2 3,1 2,1 -3,4 -5,0zM12,220l-1,-3 4,-7 6,-7 4,0 -5,10 -4,5zM11,228l-1,-3 2,-4 3,-5 2,-1 -1,8 -2,4zM4,252l2,1 8,12 -2,4 -2,2 -4,-6 -2,-4zM11,253l3,2 0,7 -4,5 -7,-2 2,-6 3,-5zM-2,231l-2,-2 11,-10 3,-2 3,3 -4,3 -5,5zM130,355l-2,-6 0,-5 3,-5 3,-4 1,7 -1,7zM116,337l1,-2 12,-6 7,-1 1,2 -8,4 -11,4zM115,353l4,-3 8,3 2,4 1,5 -8,-1 -9,-3zM78,321l-3,-2 7,-10 5,-4 4,-1 0,6 -9,13zM64,311l2,-1 3,3 1,4 -3,0 -3,-2 -2,-4zM158,283l-6,0 -5,0 -3,-5 0,-3 5,2 5,2zM149,291l-2,-2 7,-8 11,-5 2,1 -4,7 -10,7zM164,283l-1,-4 6,-5 5,-2 2,2 -4,8 -5,3zM167,285l-3,3 -9,1 -4,-5 0,-3 6,-2 6,3zM172,392l0,-5 7,-2 5,1 2,4 -6,2 -7,1zM165,375l1,-4 7,-4 5,-3 0,2 -2,5 -6,3zM34,343l-3,2 -9,-6 -5,-7 6,2 2,-1 8,8zM37,337l-5,-3 -6,-3 -7,-6 4,2 2,-1 7,5zM43,343l-3,-3 -2,-5 0,-3 4,-2 3,5 1,7zM51,372l0,5 -2,5 -3,2 -2,-3 -1,-5 3,-5zM-2,267l-4,3 -7,2 -3,-1 0,-2 3,-2 6,0zM108,333l-2,-6 0,-4 1,-6 3,-2 0,9 1,6zM94,333l1,-2 7,-5 7,-1 2,1 -8,6 -4,1zM99,358l8,-3 11,-2 10,0 0,3 -14,4 -8,0zM108,333l4,4 3,13 0,6 -2,-1 -5,-6 0,-7zM107,332l4,0 3,0 7,2 -4,2 -2,3 -7,-3zM110,346l-1,-9 0,-3 2,-9 2,-2 -1,10 -1,12zM105,362l0,-4 7,-5 5,-1 3,1 -7,7 -4,1zM97,348l4,-1 1,3 4,7 -2,2 -5,-2 -4,-5zM87,366l-9,-2 -6,-6 -7,-15 5,2 9,5 3,6zM87,339l2,1 -4,7 -3,3 -3,0 3,-8 2,-1zM96,340l-4,1 -6,1 -5,0 0,-2 7,-2 2,0zM100,348l-3,-6 -3,-8 0,-6 3,2 4,2 2,9zM78,337l1,2 -3,7 -2,0 -4,1 2,-5 3,-4zM84,342l-2,-1 -6,-5 -3,-3 4,-2 4,3 3,4zM80,315l3,1 1,10 -1,2 -4,5 -1,-5 1,-12zM94,342l-1,-4 2,-5 3,-5 3,-3 -2,9 -3,5zM111,336l-5,1 -4,-5 -8,-9 5,0 8,3 6,4zM105,377l5,-1 8,-1 6,3 -1,2 -9,3 -5,-2zM163,294l-2,-2 0,-4 2,-3 2,-2 2,3 0,8zM135,314l-4,0 -9,-8 -8,-9 6,3 4,2 7,6zM132,306l-1,-2 4,-4 8,-1 2,2 -6,4 -3,0zM132,331l-2,-2 8,-6 3,0 5,-1 -6,5 -8,6zM143,312l1,0 -1,10 -1,3 -2,1 1,-5 0,-9zM131,301l4,2 4,4 2,5 -2,2 -4,-4 -4,-5zM174,301l1,-4 5,-6 4,-3 -1,3 -1,4 -5,5zM197,295l-7,0 -7,0 -1,-1 -2,-4 7,0 6,1zM198,302l-5,-2 -2,-2 -4,-5 1,-1 6,3 1,1zM189,312l2,-6 3,-5 8,-8 0,6 0,3 -8,9zM194,297l-1,-6 -1,-9 4,-8 3,1 0,7 0,9zM183,284l-4,-3 -3,-5 -4,-9 3,2 4,5 3,6zM154,339l-5,-3 -2,-4 -1,-5 1,-3 5,6 1,3zM149,354l0,-6 4,-6 4,-7 3,-1 -4,10 -3,6zM138,369l-3,1 -14,-12 -7,-7 2,-1 11,6 12,9zM130,360l2,-2 6,-4 7,-4 2,1 -8,6 -3,1zM41,331l5,0 5,4 7,11 -2,3 -9,-6 -5,-7zM41,314l2,2 4,8 1,7 -2,-2 -3,-4 -3,-8zM45,345l6,-1 9,0 12,5 -3,2 -12,1 -5,-2zM59,331l2,6 1,7 -2,5 -3,1 -1,-7 1,-7zM49,323l-3,-7 5,-8 3,-3 4,1 -1,8 -4,9zM47,355l-1,-2 11,-13 7,-6 1,3 -8,11 -3,2zM48,328l-2,5 -5,2 -9,4 1,-3 4,-4 7,-3zM-16,262l-1,-3 1,-2 7,-2 0,4 -2,3 -3,0zM-14,256l3,-4 6,-4 7,1 3,4 -9,4 -4,1zM-11,258l4,-4 11,5 3,6 -2,3 -9,-1 -7,-6zM-40,265l8,2 13,2 6,5 0,3 -14,-4 -8,-4zM64,383l-7,3 -4,1 -9,0 1,-6 5,-1 9,-1zM87,383l5,1 5,8 1,5 -4,2 -5,-3 -3,-8zM72,370l-3,-1 7,-8 6,-2 2,2 -2,6 -7,5zM89,382l-2,-5 -1,-8 2,-7 3,0 1,3 0,12zM69,375l5,1 3,2 1,3 -1,3 -3,-2 -4,-3zM77,373l-3,-1 -2,-4 -1,-9 4,2 3,4 0,6zM103,367l2,-5 2,-4 5,-5 3,0 -2,6 -4,5zM81,362l6,-1 9,1 7,2 -4,2 -7,0 -3,0zM74,369l-1,5 -19,5 -8,-1 4,-4 5,-4 13,-2zM110,378l-3,-6 -4,-9 1,-1 1,-1 4,5 0,5zM169,303l-2,-1 5,-4 4,-2 2,1 -4,4 -3,2zM159,301l2,-1 6,-2 6,2 -1,2 -5,1 -10,0zM155,314l-3,4 -4,1 -2,0 -3,-2 3,-2 7,-2zM156,316l1,-6 3,-6 2,-3 4,0 -4,6 -3,5zM139,385l3,-6 10,-10 6,-3 1,3 -1,2 -14,12zM134,372l3,-5 16,-3 5,2 4,3 -9,3 -14,0zM130,373l3,-1 7,0 8,8 -4,1 -8,-2 -2,-1zM151,366l5,1 5,2 5,4 -2,2 -6,-3 -3,-2zM142,379l4,1 7,4 1,7 -1,6 -5,-4 -6,-8zM172,342l-6,3 -6,1 -4,-2 -7,-2 13,-1 6,0zM176,356l-3,-1 -2,-10 2,-2 4,-5 5,9 0,8zM158,359l-5,-2 -3,-7 -2,-3 4,-3 3,3 4,9zM167,310l8,0 4,4 7,3 -4,3 -5,-2 -7,-3zM194,329l-3,-4 -2,-7 0,-7 4,0 3,8 0,6zM174,326l-3,-1 -4,-6 0,-2 0,-4 4,6 4,5zM198,330l-4,5 -7,3 -12,1 2,-4 7,-5 6,1zM190,316l-4,-3 4,-5 2,-4 4,0 2,5 -6,8zM182,313l-4,-4 -6,-9 -1,-8 1,0 5,6 6,10zM162,320l-3,1 -5,-2 -2,-2 2,-1 2,0 5,2zM179,338l0,2 -2,3 -5,1 -2,0 3,-4 4,-4z" fill="#2a2a2a"/>
<path d="M175,212Q189,228 210,231M175,212Q172,222 161,224M161,224Q166,228 167,235M167,235Q189,242 209,231M154,216Q159,219 161,224M11,334Q9,337 10,341M116,228Q123,221 133,221M154,216Q145,217 139,223M139,223Q135,223 133,221M49,232Q43,241 37,250M49,232Q34,231 20,224M37,250Q30,242 19,243M126,300Q127,290 136,284M126,300Q126,299 124,299M116,277Q117,289 124,299M122,273Q127,281 136,284M210,259Q211,265 212,272M209,231Q210,238 206,244M206,244Q206,252 210,259M194,274Q193,259 203,247M193,276Q186,268 176,266M203,247Q191,258 176,266M206,244Q204,245 203,247M210,277Q212,275 212,272M210,277Q202,278 194,274M158,252Q160,242 167,235M171,267Q174,266 176,266M210,277Q208,286 208,296M214,300Q212,297 208,296M187,385Q193,381 199,378M215,374Q209,370 205,365M205,365Q200,370 199,378M214,300Q210,322 191,331M207,343Q201,334 191,331M205,365Q205,362 203,360M187,385Q186,384 185,383M185,383Q187,374 185,366M203,360Q193,360 185,366M40,321Q39,313 35,307M40,321Q34,326 26,324M26,324Q21,327 15,324M15,324Q13,321 13,317M13,317Q14,314 14,311M114,260Q124,255 133,260M114,260Q120,250 115,240M135,249Q136,254 140,256M116,228Q113,233 115,239M139,223Q136,236 135,249M158,252Q150,256 140,256M122,273Q131,269 133,260M142,273Q140,276 140,280M142,273Q138,265 140,256M136,284Q137,281 140,280M77,298Q78,295 80,291M80,291Q90,292 100,295M101,298Q100,297 100,295M64,296Q61,288 64,279M64,296Q71,296 77,298M82,276Q77,271 70,273M82,276Q85,284 80,291M64,279Q66,275 70,273M95,273Q95,285 100,295M95,273Q88,272 82,276M127,302Q111,307 104,322M104,322Q99,314 96,305M124,299Q112,302 101,298M79,250Q74,250 71,253M79,250Q75,243 77,236M77,236Q75,235 73,233M73,233Q65,226 55,223M90,250Q90,241 90,232M90,250Q85,247 79,250M90,232Q83,233 77,236M49,232Q52,229 55,224M38,256Q51,263 66,262M66,262Q71,259 71,253M91,224Q91,226 91,229M91,224Q83,230 73,233M17,206Q20,215 20,224M-15,368Q5,382 28,375M-15,368Q-17,368 -18,369M37,385Q30,382 28,375M35,402Q24,400 17,392M12,349Q3,365 -15,368M13,350Q23,361 28,375M10,341Q12,345 12,349M38,256Q38,264 33,271M66,262Q70,267 70,273M64,279Q52,279 41,283M41,283Q40,282 39,282M33,271Q36,276 39,282M35,307Q38,306 39,304M14,311Q12,308 13,304M39,304Q43,293 38,283M-8,279Q-6,279 -5,278M-8,279Q-18,284 -18,296M-5,278Q3,285 8,296M-18,296Q-13,294 -9,297M-9,297Q0,300 8,296M6,268Q1,274 -5,278M17,274Q8,283 8,296M-6,316Q-3,306 -9,297M13,304Q12,299 8,296M17,274Q25,273 33,271M63,297Q53,296 47,289M63,297Q60,302 57,307M47,289Q54,297 54,307M41,283Q43,287 47,289M39,304Q45,303 50,308M50,308Q52,307 54,307M91,251Q100,259 98,271M98,271Q99,270 100,271M112,240Q102,252 103,267M103,267Q101,268 100,271M91,229Q100,237 112,240M95,273Q97,273 98,271M116,277Q109,271 100,271M115,240Q113,240 112,240M114,260Q111,266 103,267M14,244Q6,241 3,234M7,251Q4,247 -1,248M-1,248Q-4,238 -13,231M3,234Q-2,231 -8,232M-8,232Q-11,232 -13,231M19,243Q17,245 14,244M17,206Q15,209 13,212M13,212Q2,220 3,234M6,268Q6,264 4,261M4,261Q7,256 7,251M13,212Q5,224 -8,232M131,326Q121,340 127,355M131,326Q125,329 119,331M127,355Q122,353 117,351M117,351Q120,341 119,331M83,308Q79,312 77,318M67,319Q72,320 77,318M67,319Q59,315 57,307M142,273Q149,278 157,280M157,280Q153,283 149,288M171,272Q169,279 161,280M157,280Q159,279 161,280M185,383Q174,386 162,389M173,364Q169,366 166,370M15,325Q28,332 39,342M26,324Q30,329 36,331M36,331Q38,337 39,342M42,379Q43,375 46,372M-23,267Q-9,268 3,261M104,322Q105,323 104,325M77,318Q84,328 95,329M104,325Q99,324 95,329M117,351Q114,350 110,352M110,352Q111,345 107,339M119,331Q113,332 108,328M108,328Q105,333 107,339M110,352Q108,352 107,354M107,354Q104,345 95,341M76,350Q78,354 81,356M76,350Q81,344 84,337M81,356Q88,349 94,341M84,337Q88,337 93,335M93,335Q93,338 94,341M68,345Q70,336 78,331M78,331Q82,332 84,337M78,331Q75,325 77,318M95,329Q94,332 93,335M104,325Q106,326 108,328M126,376Q115,379 106,375M161,280Q160,289 161,297M149,288Q150,289 150,291M150,291Q155,294 161,297M127,302Q129,302 129,304M150,291Q139,296 129,304M139,320Q137,326 131,326M139,320Q139,319 139,317M139,317Q138,308 129,304M179,288Q176,292 172,297M179,288Q185,291 191,290M191,290Q194,293 197,296M197,296Q196,303 190,306M193,276Q190,282 191,290M171,272Q171,282 179,288M139,320Q146,329 151,340M151,340Q149,343 148,347M127,355Q129,356 130,357M148,347Q138,350 130,357M55,340Q52,331 43,328M43,328Q40,325 40,321M40,321Q43,319 46,318M68,345Q61,346 55,342M55,342Q55,341 55,340M50,308Q47,312 46,318M55,342Q53,346 49,348M36,331Q40,330 43,328M-10,253Q-18,259 -26,266M-1,248Q-5,249 -10,250M3,261Q-6,261 -10,253M-23,267Q-25,267 -26,266M42,379Q56,382 70,379M91,398Q85,394 86,388M70,379Q77,385 86,388M81,356Q78,363 72,365M86,360Q90,371 84,381M84,381Q78,378 74,372M72,365Q72,369 74,372M107,354Q102,357 101,362M101,362Q94,358 86,360M46,372Q59,371 72,365M101,362Q106,368 106,375M172,297Q171,298 170,298M170,298Q166,300 161,298M139,317Q147,316 154,311M161,298Q154,303 154,311M157,365Q152,373 143,376M156,364Q144,369 131,369M143,376Q135,376 131,369M166,370Q161,367 157,365M159,395Q155,382 143,376M151,340Q160,344 170,340M170,340Q172,352 173,364M148,347Q155,354 156,364M130,357Q131,363 131,369M186,315Q180,314 176,309M186,315Q186,323 189,331M176,309Q171,314 165,316M165,316Q168,327 177,334M177,334Q183,334 189,331M190,306Q186,310 186,315M170,298Q173,304 176,309M154,311Q160,312 165,316M170,340Q174,338 177,334" fill="none" stroke="#dcdcdc" stroke-width="1.7"/>
<path d="M33,306q-11,3 -15,12M117,247q-2,7 -9,8M132,266q6,8 9,17M58,296q-4,9 -2,19M109,233q-3,7 -4,14M56,266q6,-3 12,1M65,295q-6,8 -11,15M149,289q-4,2 -5,7M142,346q-5,8 -15,9M207,306q0,8 -5,14M70,354q-7,4 -15,2M122,311q-1,4 -3,8M93,249q-7,4 -8,13M178,361q-4,9 -12,16M107,235q4,6 8,12M145,236q9,1 18,2M41,229q8,2 9,10M172,255q-2,10 -6,18M17,348q-4,3 -7,6M87,240q6,3 13,1M139,244q5,6 12,7M45,253q-6,-3 -11,1M78,339q3,7 10,7M-1,340q8,6 19,5M155,230q5,4 9,10M76,282q4,2 5,6M137,321q-7,6 -7,15M117,270q-3,3 -6,6M38,293q-1,10 -6,18M161,284q3,5 8,2M19,337q3,4 2,8M76,237q-5,4 -9,9M27,335q3,9 3,18M-1,237q4,7 12,4M126,270q4,7 13,8M103,324q-2,5 1,10M86,234q-6,4 -12,7M191,308q9,2 18,2M96,277q9,3 18,5M57,361q9,2 14,10M15,251q-10,1 -18,7M89,294q-3,8 -12,8M43,311q-4,5 -10,2M198,254q0,5 2,10M209,294q-10,-1 -18,6M73,293q3,3 3,8M21,346q7,-1 10,5M7,330q0,7 -1,14M201,277q-7,3 -8,11M181,354q-6,-2 -10,2M75,337q-8,5 -13,14M163,353q9,-1 17,4M27,291q-5,4 -1,9M194,231q6,7 15,7M2,243q6,2 12,0M42,322q1,10 2,19M210,266q-2,10 -12,15M66,330q-6,-2 -8,4M162,341q-6,5 -13,9M81,324q6,4 8,11M97,278q-9,3 -13,11M178,278q-4,6 -11,6M149,297q-6,6 -9,13M58,229q-9,3 -18,6M138,235q-4,6 -4,13M55,238q-7,7 -17,9M173,342q-3,4 -8,6M72,245q-3,7 -5,14M18,338q3,5 8,9M45,354q-5,6 -12,10M87,259q-1,6 3,11M101,345q7,1 6,7M191,232q-1,8 -8,12M196,367q4,4 10,5M114,314q-8,-2 -15,2M72,335q-7,1 -13,1M8,357q-5,2 -10,6M161,330q-9,3 -16,9M65,295q3,5 6,10M84,265q6,3 7,10M115,239q4,5 9,6M56,234q-1,9 3,18M59,277q6,6 14,3M34,354q-4,8 -12,11M177,302q7,1 11,7M181,363q-6,4 -8,10M98,291q1,8 7,13M91,301q-5,5 -10,1M153,323q-6,5 -12,1M59,270q-4,7 -4,15" fill="none" stroke="#3a3a3a" stroke-width="1.5" transform="translate(1.1,1.5)"/>
<path d="M33,306q-11,3 -15,12M117,247q-2,7 -9,8M132,266q6,8 9,17M58,296q-4,9 -2,19M109,233q-3,7 -4,14M56,266q6,-3 12,1M65,295q-6,8 -11,15M149,289q-4,2 -5,7M142,346q-5,8 -15,9M207,306q0,8 -5,14M70,354q-7,4 -15,2M122,311q-1,4 -3,8M93,249q-7,4 -8,13M178,361q-4,9 -12,16M107,235q4,6 8,12M145,236q9,1 18,2M41,229q8,2 9,10M172,255q-2,10 -6,18M17,348q-4,3 -7,6M87,240q6,3 13,1M139,244q5,6 12,7M45,253q-6,-3 -11,1M78,339q3,7 10,7M-1,340q8,6 19,5M155,230q5,4 9,10M76,282q4,2 5,6M137,321q-7,6 -7,15M117,270q-3,3 -6,6M38,293q-1,10 -6,18M161,284q3,5 8,2M19,337q3,4 2,8M76,237q-5,4 -9,9M27,335q3,9 3,18M-1,237q4,7 12,4M126,270q4,7 13,8M103,324q-2,5 1,10M86,234q-6,4 -12,7M191,308q9,2 18,2M96,277q9,3 18,5M57,361q9,2 14,10M15,251q-10,1 -18,7M89,294q-3,8 -12,8M43,311q-4,5 -10,2M198,254q0,5 2,10M209,294q-10,-1 -18,6M73,293q3,3 3,8M21,346q7,-1 10,5M7,330q0,7 -1,14M201,277q-7,3 -8,11M181,354q-6,-2 -10,2M75,337q-8,5 -13,14M163,353q9,-1 17,4M27,291q-5,4 -1,9M194,231q6,7 15,7M2,243q6,2 12,0M42,322q1,10 2,19M210,266q-2,10 -12,15M66,330q-6,-2 -8,4M162,341q-6,5 -13,9M81,324q6,4 8,11M97,278q-9,3 -13,11M178,278q-4,6 -11,6M149,297q-6,6 -9,13M58,229q-9,3 -18,6M138,235q-4,6 -4,13M55,238q-7,7 -17,9M173,342q-3,4 -8,6M72,245q-3,7 -5,14M18,338q3,5 8,9M45,354q-5,6 -12,10M87,259q-1,6 3,11M101,345q7,1 6,7M191,232q-1,8 -8,12M196,367q4,4 10,5M114,314q-8,-2 -15,2M72,335q-7,1 -13,1M8,357q-5,2 -10,6M161,330q-9,3 -16,9M65,295q3,5 6,10M84,265q6,3 7,10M115,239q4,5 9,6M56,234q-1,9 3,18M59,277q6,6 14,3M34,354q-4,8 -12,11M177,302q7,1 11,7M181,363q-6,4 -8,10M98,291q1,8 7,13M91,301q-5,5 -10,1M153,323q-6,5 -12,1M59,270q-4,7 -4,15" fill="none" stroke="#c8c8c8" stroke-width="1.5"/>
</g></g>
<clipPath id="cd"><rect x="217.7" y="228.9" width="202.3" height="143.2"/></clipPath>
<g clip-path="url(#cd)"><g filter="url(#sb)"><rect x="217.7" y="228.9" width="202.3" height="143.2" fill="#747474"/>
<defs><path id="s1" d="M396,219q1,5 3,10M323,274q2,2 3,5M281,276q1,6 6,10M293,289q-5,1 -9,3M415,218q4,6 11,8M222,353q-2,5 -6,9M296,243q0,4 -3,7M213,246q3,2 6,4M403,312q5,3 11,4M400,374q-5,5 -4,11M242,343q-3,5 -8,9M224,239q1,6 6,9M233,347q4,3 6,8M284,277q1,5 6,5M299,315q1,6 6,10M272,249q4,1 4,5M350,312q-3,-1 -6,1M325,369q3,4 9,5M414,227q2,5 8,7M232,346q-3,3 -3,7M371,227q5,0 9,4M246,238q0,7 -3,13M317,226q-3,3 -3,7M350,374q-6,4 -12,7M370,256q3,7 9,9M217,345q-4,3 -8,5M397,333q-5,3 -11,2M415,299q-2,5 -6,10M329,374q-4,4 -10,3M331,329q4,3 9,2M377,280q-4,0 -6,3M393,348q-1,4 -3,7M301,286q-6,0 -11,0M288,316q1,6 3,11M355,337q-1,3 -3,7M407,316q-4,5 -10,7M230,341q-3,-1 -6,1M304,324q-4,2 -3,6M208,366q-1,5 3,8M377,281q7,2 14,1M319,360q2,3 3,5M232,322q-5,4 -12,4M322,375q-1,3 -4,5M402,317q6,2 13,2M305,235q-4,3 -6,7M338,260q-2,5 2,10M398,287q3,4 6,8M234,375q5,-1 9,0M421,270q-5,-1 -9,1M287,243q0,5 4,8M334,365q-6,3 -13,6M300,305q-6,1 -10,5M281,335q-2,5 -7,6M392,329q3,2 5,5M324,359q0,7 -4,13M425,371q-3,2 -3,6M352,334q3,2 3,5M348,234q5,0 7,4M309,250q3,4 8,6M229,341q5,2 10,5M287,293q6,-2 11,1M360,230q5,5 5,12M384,258q-7,-1 -14,3M402,230q1,3 2,6M304,312q-6,2 -10,8M354,360q3,0 7,1M399,281q4,0 6,3M405,273q-7,0 -13,2M409,259q5,1 5,5M409,249q3,4 7,9M302,333q4,2 5,6M274,353q7,2 14,1M373,232q-3,3 -7,3M408,300q2,7 0,14M345,290q-4,0 -6,4M416,320q3,5 9,6M375,325q-5,4 -10,6M232,376q2,2 4,5M221,264q-3,6 -5,12M212,286q2,3 2,7M302,265q-2,6 1,12M289,242q-4,3 -8,3M386,329q5,0 7,5M312,331q-4,3 -8,1M375,246q6,5 13,4M295,265q3,1 5,4M415,372q2,4 -1,7M237,317q-6,-1 -10,3M249,318q-5,4 -9,8M322,307q-3,4 -2,9M290,289q-4,3 -9,4M310,339q-4,2 -8,4M231,276q1,3 1,7M289,348q-6,3 -9,9M408,366q-3,3 -7,2M273,346q-4,-2 -7,1M211,316q-1,7 -2,13M341,304q-5,3 -6,9M225,258q3,-1 6,1M404,267q1,6 6,9M248,281q5,1 7,6M298,252q-3,2 -6,2M215,315q-2,5 -6,8M245,321q-4,3 -9,3M255,248q3,3 6,5M295,375q-4,2 -7,1M321,373q-6,1 -12,2M273,328q6,-2 11,1M411,332q4,6 10,7M273,239q4,3 4,8M395,356q-3,3 -1,7M292,298q2,4 1,8M393,245q-2,3 -6,2M334,333q-4,2 -8,2M248,227q4,6 10,8M312,368q-4,-1 -6,3M371,238q-5,5 -11,8M418,234q3,1 7,0M302,233q-4,4 -9,4M347,243q4,4 5,9M215,309q-1,5 -5,8M426,221q0,4 -3,7M272,298q-5,3 -11,5M357,219q-5,4 -7,11M250,299q6,3 12,1M367,344q-3,2 -6,5M240,236q3,6 4,12M287,328q3,3 6,3M401,323q5,5 9,11M294,276q-2,4 -6,5M297,290q3,7 7,12M277,348q5,0 9,1M279,263q4,1 8,0M327,317q2,5 4,10M310,365q5,0 8,4M287,308q-4,3 -7,8M224,281q4,2 8,3M374,226q4,3 10,4M328,228q5,2 7,7M362,284q-7,0 -13,3M302,363q-2,3 -5,4M394,224q5,0 10,2M333,237q1,6 0,12M329,289q-3,2 -4,5M410,367q-3,4 -4,8M220,332q0,4 2,8M314,264q6,2 12,4M254,363q-6,4 -8,11M383,323q-5,3 -12,3M367,245q2,5 5,8M343,363q7,-1 12,3M224,334q-4,2 -9,1M421,336q-4,5 -4,11M263,353q-3,6 -4,12M257,295q5,3 6,9M417,345q-1,4 -1,9M424,306q-3,5 -10,7M343,367q-6,3 -12,3M385,261q-5,5 -10,8M337,289q1,7 -2,13M326,220q0,4 0,7M222,272q3,3 5,7M220,223q-5,1 -5,6M380,230q-6,2 -11,7M368,258q4,4 2,10M331,257q-5,5 -7,12M216,328q2,6 1,12M313,304q2,5 5,8M398,263q6,2 13,2M281,303q5,-1 9,2M426,280q-3,7 -1,14M303,375q5,2 7,7M223,233q0,6 5,10M250,367q3,2 5,6M261,286q6,0 12,3M221,341q-2,3 0,7M283,239q-4,3 -8,2M401,238q-3,2 -6,5M283,331q-4,1 -7,3M421,314q-5,2 -10,5M230,315q-4,3 -4,8M338,353q5,-3 9,0M212,252q1,4 4,7M379,341q-6,1 -11,5M307,287q3,2 7,0M238,358q4,3 9,2M371,379q-5,1 -10,2M272,283q-6,0 -11,4M413,302q-3,5 -1,10M292,226q-4,3 -4,8M421,327q-6,2 -10,7M334,371q7,-2 13,0M430,326q-3,3 -7,2M324,280q5,1 6,6M289,232q2,6 6,9M419,358q-3,6 -9,8M425,308q-1,5 -5,9M312,234q2,7 0,13M426,310q-6,3 -10,7M308,263q1,4 -2,6M296,359q-5,5 -11,7M420,238q-7,3 -9,9M429,303q-4,2 -8,2M282,308q3,3 1,7M315,364q-7,0 -13,2M367,286q7,1 12,5M237,283q0,4 -4,5M364,306q-5,4 -7,9M314,308q2,4 0,8M415,369q3,-1 7,0M326,293q-1,4 -3,8M293,225q5,3 10,3M319,275q-5,4 -11,4M295,370q3,6 4,12M389,231q-1,3 -2,7M332,337q3,6 4,12M399,255q-6,4 -8,10M349,232q2,6 0,12M229,261q2,3 6,3M418,374q2,6 -2,10M237,338q-3,5 -2,10M388,331q-2,3 -1,6M389,367q2,5 -1,10M328,308q-5,5 -12,5M235,279q4,4 11,6M338,356q4,3 3,8M323,339q-3,5 -1,10M381,266q-3,6 -9,10M257,324q1,5 -3,10M374,354q0,5 5,8M421,236q2,5 2,10M320,324q1,5 5,7M352,266q-1,4 3,7M386,254q5,3 11,0M413,252q4,2 5,7M357,279q2,3 5,4M365,219q-3,4 -4,9M356,343q-4,2 -8,4M225,321q-1,4 -4,8M315,305q3,5 7,9M257,346q4,-2 8,2M337,268q3,4 6,9M403,367q-3,0 -6,1M370,365q-1,4 3,7M329,364q-6,-1 -13,0M221,363q4,1 7,4M260,242q-5,3 -11,3M291,319q-2,4 0,8M238,304q-2,4 -6,5M384,279q3,6 6,12M237,263q-5,1 -9,3M385,354q0,4 4,6M375,306q3,5 0,9M235,275q1,4 5,5M382,336q-5,3 -10,3M342,282q5,5 6,12M382,346q-3,5 -9,7M340,300q4,6 4,13M281,297q-5,5 -8,11M311,277q3,6 2,13M382,249q-3,4 -3,9M213,321q-2,3 -3,6M328,288q-5,2 -10,1M308,244q4,3 9,1M287,367q-2,3 -3,6M356,345q0,4 -5,5M281,355q-6,-1 -10,2M298,265q4,2 8,1M390,226q-5,2 -9,5M298,368q3,4 5,8M281,282q5,2 10,2M333,334q4,2 8,1M288,312q3,3 4,7M315,321q2,3 4,7M362,276q0,3 0,6M429,310q1,4 -3,6M286,224q3,5 9,6M252,368q0,7 -1,13M293,337q4,2 3,7M302,245q3,6 2,13M266,249q3,2 7,1M239,353q-6,4 -13,4M379,311q4,6 8,11M348,247q-5,3 -7,8M393,220q2,6 6,10M245,277q-3,3 -5,8M390,219q-2,4 -6,6M388,269q5,3 11,2M232,283q2,4 5,7M330,343q-6,3 -11,8M250,254q2,3 6,2M218,262q4,1 8,4M261,286q4,3 7,1M376,343q-4,-1 -8,2M293,267q6,1 12,1M398,360q4,6 3,13M289,260q-6,2 -7,8M282,277q-3,2 -6,3M265,298q-3,4 -8,5M317,290q4,0 6,3M310,308q-5,4 -11,3M419,281q2,6 6,11M353,223q6,1 13,2M258,312q-3,3 -3,7M342,350q-2,4 -5,8M403,236q6,2 13,1M231,330q-2,3 -5,4M230,357q-6,1 -9,5M235,234q-4,4 -10,5M406,220q-2,6 -5,11M293,265q2,5 0,10M209,304q4,0 7,2M243,355q1,5 -4,7M358,369q-4,4 -9,8M314,360q-1,4 0,8M285,293q0,4 -3,5M264,251q-1,7 4,11M380,364q5,3 9,8M293,250q-4,3 -8,6M245,331q3,7 1,14M371,301q-4,5 -4,12M217,321q-3,5 -8,7M332,262q6,0 12,3M414,335q3,3 4,7M255,239q4,5 11,8M363,335q3,3 6,5M427,279q2,4 0,8M285,334q0,4 1,8M251,241q-7,1 -13,6M332,299q4,1 5,5M322,289q3,2 7,2M244,221q-4,1 -6,5M318,257q5,-1 10,0M313,230q4,5 2,10M235,297q6,2 13,2M274,277q-1,7 -5,12M307,371q1,6 3,13M305,240q6,3 10,9M237,365q-3,6 -6,12M338,273q-3,6 -2,13M366,325q-6,2 -9,7M356,270q2,4 7,5M321,219q-6,0 -10,4M415,355q-1,4 0,7M353,277q-4,-1 -6,2M402,280q-4,1 -7,4M358,224q-4,1 -5,5M288,356q0,4 -2,7M326,248q0,5 1,9M258,317q-4,2 -8,1M233,259q0,5 2,10M239,286q-5,-2 -10,1M336,266q-2,3 -3,6M317,332q-3,4 -7,6M286,365q-5,3 -11,1M413,224q1,6 -3,12M276,292q3,5 0,10M433,276q-6,-1 -11,3M252,358q-1,5 -5,9M239,307q-1,7 3,13M357,222q7,1 13,5M330,368q4,1 4,6M229,284q3,5 0,11M300,286q3,6 7,12M322,345q-5,-1 -11,0M282,282q0,7 5,12M309,369q-3,3 -6,5M257,313q1,4 5,4M321,273q4,0 6,3M309,220q-1,4 2,7M395,368q3,3 7,3M367,259q-5,-1 -9,2M415,296q2,4 -1,7M232,233q4,1 7,4M364,327q-4,0 -6,3M417,250q-2,6 -2,12M413,231q-6,2 -11,5M300,304q-3,2 -5,5M332,333q4,-2 7,1M226,345q0,4 3,7M264,360q2,6 4,13M380,371q4,5 2,11M347,321q1,6 5,10M335,281q4,2 8,1M276,353q1,4 5,7M298,377q-5,3 -10,2M219,217q-1,7 1,13M324,369q2,6 1,12M296,280q-4,2 -6,7M393,249q-3,2 -4,6M377,364q4,0 8,2M281,233q-1,6 0,11M405,309q-6,3 -11,7M348,292q-3,3 -6,7M286,323q4,3 10,4M312,366q7,1 12,5M365,247q-6,4 -7,11M289,326q-5,3 -6,9M281,255q5,3 11,6M406,355q6,3 12,1M306,266q4,-1 6,3M335,279q-2,4 -7,5M306,344q-4,5 -8,10M249,280q-5,3 -9,8M412,309q-6,4 -12,4M241,374q1,4 1,8M394,218q3,5 1,10M305,358q2,3 5,5M324,340q4,1 8,3M395,287q-4,3 -7,6M233,281q6,2 13,1M279,337q-4,2 -3,6M221,373q3,2 7,0M322,221q-3,6 0,11M427,358q-5,2 -9,5M268,336q3,3 2,8M245,297q-4,5 -10,8M327,266q1,4 3,7M415,233q-3,3 -6,6M297,348q-3,2 -6,1M397,348q-3,6 -5,12M217,285q3,5 7,8M327,322q3,6 6,11M224,343q-4,5 -7,10M326,270q5,3 11,5M235,335q0,5 -4,9M304,322q-1,5 -6,7M286,232q1,6 4,11M379,224q-6,1 -9,6M232,232q-2,5 -7,7M429,332q-2,2 -4,4M250,321q-1,6 -4,11M248,227q2,3 3,7M221,354q4,-1 7,2M303,319q4,-1 6,3M302,377q-7,1 -11,5M256,320q1,5 4,8M336,319q-4,0 -8,2M341,338q6,2 11,7M419,323q1,7 7,11M304,342q0,7 -1,13M322,241q-3,0 -6,1M232,313q-3,3 -7,4M218,322q-7,3 -9,10M231,261q3,6 1,12M289,263q-5,3 -9,8M351,335q6,4 9,10M429,358q-5,3 -9,7M273,310q4,0 8,2M384,241q1,3 5,4M402,258q-1,7 1,14M362,290q-6,2 -12,4M273,365q4,4 5,11M300,287q-4,5 -7,10M402,313q7,-1 13,3M394,336q5,-1 8,3M277,359q1,4 5,5M255,256q-7,0 -11,5M217,269q1,5 5,9M256,315q2,3 6,3M349,307q-5,2 -5,8M295,226q-2,3 -6,5M372,248q2,5 4,10M295,311q-3,5 -7,10M217,349q0,4 3,6M427,336q-3,3 -7,1M221,332q-5,5 -6,12M355,231q-4,4 -8,7M368,294q-2,3 -6,3M253,237q3,4 3,8M245,290q2,3 0,6M244,236q-7,1 -11,7M387,297q-2,4 -2,9M432,273q-7,-2 -13,2M344,312q0,7 4,13M231,255q-2,5 -7,7M385,312q4,0 7,1M385,372q3,6 9,8M241,279q4,4 6,10M300,364q5,0 9,3M338,300q-2,7 0,14M373,290q3,4 1,9M225,238q4,0 7,2M238,377q5,1 9,0M364,368q1,4 4,7M353,320q-7,3 -13,0M293,368q0,3 3,5M227,308q2,7 -1,13M236,283q0,3 -3,5M289,342q-4,5 -10,7M289,319q-4,3 -8,6M413,253q-6,1 -9,7M295,357q-1,6 -5,10M403,225q-2,7 -3,14M251,327q-4,1 -6,4M243,342q3,5 7,9M366,297q-6,2 -9,7M397,237q-6,1 -13,2M407,253q3,3 1,6M239,285q-3,7 -1,14M318,294q2,3 6,2M363,305q-2,6 -6,12M402,335q-2,2 -6,3M388,350q6,4 12,5M281,356q-4,-1 -6,3M328,307q-4,4 -10,3M400,275q-3,4 -9,4M237,325q4,5 9,8M284,223q4,2 7,4M306,276q4,6 5,12M415,316q0,7 2,13M285,373q-4,2 -8,2M372,320q3,6 10,7M313,231q5,2 11,3M363,252q3,2 6,3M369,366q4,2 8,3M389,333q2,5 7,7M401,252q-6,2 -9,8M289,282q2,3 6,3M273,363q-3,3 -7,5M372,288q4,1 6,5M241,355q-4,6 -11,8M405,342q-1,7 -5,12M271,283q3,3 7,1M298,316q-4,0 -6,3M213,252q6,-2 12,2M240,240q-5,4 -9,8M271,345q6,-1 11,2M362,306q1,5 -1,9M344,239q-6,4 -12,7M426,324q-3,4 -5,10M422,345q3,3 8,1M376,313q-4,3 -10,2M248,266q-5,5 -8,11M282,245q4,0 6,3M328,277q-7,1 -13,3M247,269q-1,3 -3,5M410,265q1,6 4,12M284,348q5,0 7,4M297,335q-5,2 -9,5M327,297q1,4 -2,6M229,234q0,4 -3,7M269,282q6,4 9,10M268,269q-5,0 -7,4M295,356q-2,4 0,7M229,375q-3,5 0,9M414,251q-3,4 -6,7M417,246q-3,6 -5,13M355,260q3,4 7,6M279,238q1,7 6,12M307,318q-3,6 -1,12M382,361q5,0 9,4M243,299q-1,7 -2,13M234,277q1,4 1,7M407,283q7,0 13,2M366,289q1,3 3,6M421,256q-3,2 -5,5M288,279q-4,3 -4,8M275,361q2,5 0,9M228,249q1,4 2,8M390,274q4,4 8,9M228,359q-2,4 -4,8M316,253q3,6 1,13M228,297q5,3 7,8M394,328q-1,4 -6,4M397,354q-4,-2 -7,0M244,323q5,1 9,4M260,327q-5,2 -11,1M316,276q-3,4 -2,9M361,235q-3,3 -3,8M394,278q5,1 10,1M271,302q6,1 9,6M365,329q3,7 0,14M221,372q5,3 10,6M258,343q-6,0 -12,3M301,363q-2,4 -6,7M274,315q-4,2 -8,4M413,311q2,5 0,11M290,360q-4,4 -9,8M257,344q-2,5 -7,6M281,320q4,6 11,8M360,252q-3,0 -6,1M367,283q-1,3 0,7M264,373q6,-1 12,1M401,336q4,5 10,7M349,281q2,6 8,8M225,258q-1,6 3,11M389,325q2,4 2,9M280,220q-3,3 -5,7M278,272q4,-1 7,2M343,364q2,5 5,10M240,231q-1,3 -1,6M244,367q-1,4 0,7M219,260q-4,4 -5,9M357,231q-2,3 -6,3M292,353q-3,1 -6,3M299,256q-3,4 -9,5M262,294q2,6 3,12M423,301q-3,5 -6,11M299,322q6,2 11,6M255,346q1,4 1,8M422,220q-3,2 -7,3M286,371q3,3 7,0M392,304q-2,4 -6,5M298,248q5,0 9,0M309,373q2,5 -1,9M265,255q6,3 13,5M386,368q4,5 10,6M316,305q6,2 13,1M379,327q-3,3 -7,2M276,349q5,5 9,10M394,303q1,4 3,7M371,268q-2,3 -6,5M260,265q4,1 7,3M249,321q-1,4 3,6M313,360q-2,4 -6,5M413,371q4,5 9,7M381,321q3,6 9,9M255,299q4,2 7,6M403,226q3,5 1,10M225,287q4,2 6,6M256,317q4,5 8,11M364,267q-1,4 -3,6M204,272q6,3 13,2M347,349q-5,3 -6,8M247,233q0,5 1,11M290,372q1,6 -4,10M264,263q6,3 13,6M367,314q4,5 5,11M258,304q-1,6 3,10M299,249q-3,5 -3,10M328,219q5,1 8,5M373,370q5,4 10,9M396,352q2,3 4,5M253,220q-2,4 -1,8M371,306q-2,5 -1,11M346,327q7,0 12,5M322,286q3,6 8,11M361,256q2,2 2,6M252,291q-1,4 -1,7M313,307q-3,3 -2,7M398,235q-3,3 -5,7M295,347q0,7 -3,13M416,296q3,4 8,3M364,231q-3,3 -7,2M360,307q-2,5 -6,8M347,355q-1,5 -1,11M252,268q1,6 -2,11M396,285q2,4 7,4M373,268q-2,4 -7,3M327,322q-2,7 -7,11M319,365q5,-1 8,2M389,366q3,4 6,8M249,285q2,5 -1,10M427,318q-3,5 -9,5M343,279q-5,4 -11,2M252,274q-5,1 -9,5M329,247q3,4 2,10M406,351q4,4 8,8M281,321q-1,3 -2,6M407,308q4,4 9,8M275,373q4,5 10,10M219,305q6,4 13,6M326,377q-4,2 -8,5M382,352q2,5 5,10M381,346q3,5 2,11M237,320q-3,4 -5,8M293,249q4,5 8,10M232,371q-2,4 0,7M265,323q-4,3 -9,1M253,302q0,6 -3,11M314,226q1,6 6,10M295,226q3,2 3,5M414,342q5,1 6,7M239,337q-2,3 -5,4M361,317q-4,1 -5,5M236,370q-3,6 -4,12M226,254q-5,4 -12,6M332,273q-4,2 -6,5M222,326q3,0 6,2M213,300q3,5 8,8M220,235q5,2 10,1M406,216q-4,5 -3,12M390,362q-6,1 -11,6M411,229q-3,6 -7,11M308,236q-3,3 -5,7M415,259q-5,1 -5,6M287,281q1,4 5,4M418,295q4,5 10,8M413,273q-2,5 -8,8M263,313q5,0 7,4M383,289q-1,5 -4,10M353,289q0,3 0,7M361,371q-2,3 -2,6M315,284q0,6 -2,12M351,314q-1,4 3,6M239,302q6,0 10,4M283,314q-3,2 -5,5M390,257q-5,3 -9,4M337,281q-4,5 -5,11M418,341q4,4 7,8M418,375q1,4 -4,6M235,277q-2,3 -3,6M291,353q4,2 6,6M213,331q0,6 3,11M279,253q3,1 5,3M279,291q3,1 6,1M298,340q3,6 5,12M374,236q4,5 5,11M317,321q-4,6 -11,7M245,272q1,3 1,6M325,273q1,5 -2,8M215,338q4,0 7,4M338,254q-2,5 -5,10M409,339q4,1 5,5M360,250q4,4 9,3M370,321q4,4 5,11M207,286q7,-1 13,1M328,230q-2,4 -6,6M279,264q-5,0 -6,4M341,258q-3,3 -4,7M386,239q2,3 4,7M383,233q3,3 8,3M365,345q-3,4 -1,9M213,342q0,6 2,12M382,248q-6,3 -14,3M422,304q-5,1 -8,7M265,234q1,6 2,13M317,356q-4,3 -6,8M205,308q6,0 10,3M220,283q3,6 9,9M228,275q-4,3 -8,1M395,299q3,3 2,8M346,324q-5,2 -8,6M353,338q4,2 8,4M310,239q0,6 2,11M255,257q-4,0 -6,2M280,226q-5,1 -7,6M242,368q4,-2 8,1M213,253q-1,6 1,12M228,337q0,4 4,6M367,332q2,5 5,10M309,345q-6,0 -11,4M392,233q-1,4 2,6M345,307q0,7 -5,12M307,358q6,4 12,2M328,266q-5,-1 -9,2M290,320q-1,4 -5,4M363,270q2,4 6,3M258,292q-2,4 0,7M260,333q3,3 8,3M289,317q-4,6 -9,10M348,340q-4,2 -8,1M214,303q4,2 9,5M269,345q2,5 -1,10M420,258q-4,3 -8,7M274,321q6,1 11,5M255,225q-5,1 -11,0M408,280q7,1 13,4M398,360q-2,6 -7,10"/></defs>
<use href="#s1" fill="none" stroke="#333333" stroke-width="2.4" stroke-linecap="round" transform="translate(0.8,1.0)"/>
<use href="#s1" fill="none" stroke="#d2d2d2" stroke-width="2.4" stroke-linecap="round"/>
<use href="#s1" fill="none" stroke="#a0a0a0" stroke-width="0.8999999999999999" stroke-linecap="round"/>
<defs><path id="s2" d="M423,306q-1,7 4,12M345,331q3,3 2,7M283,311q4,0 8,0M373,276q2,6 4,11M276,229q-2,6 -1,12M378,341q4,3 5,7M318,317q-6,-1 -13,0M330,263q2,6 7,8M256,284q2,4 6,5M257,271q-4,-1 -6,2M289,365q3,3 5,6M251,363q6,2 13,5M295,377q6,4 14,3M355,294q-3,4 -9,4M300,234q-5,1 -7,5M236,258q6,1 10,6M401,218q-1,6 -4,12M277,277q0,7 -3,13M327,267q6,3 12,6M217,257q-4,5 -4,11M246,292q0,4 -4,6M409,294q3,4 4,9M404,339q-3,3 -8,5M226,253q3,4 2,9M364,253q-1,6 -1,11M408,330q-3,5 -6,9M423,349q3,1 6,3M415,244q-4,-1 -8,0M327,245q3,2 3,5M404,299q-2,5 -3,9M267,336q-6,2 -11,3M236,373q2,3 5,3M395,367q6,2 7,8M373,321q-4,1 -5,5M252,313q0,5 -3,9M402,264q5,2 8,7M425,259q-6,3 -12,6M336,221q-4,5 -7,10M390,293q-3,3 -6,7M339,243q2,4 6,4M431,373q-3,5 -8,7M278,368q4,2 7,4M379,375q-3,2 -3,6M393,365q-5,3 -10,5M338,304q0,5 2,9M238,350q5,3 9,7M391,282q-1,7 4,12M294,373q3,4 2,9M381,227q-2,6 0,12M341,368q2,5 8,7M401,351q6,2 7,8M387,321q-2,5 0,10M264,224q-3,2 -7,0M424,220q0,6 -1,11M214,309q-6,1 -9,5M387,224q-3,6 -1,13M408,229q-1,5 0,9M414,221q2,5 0,11M356,336q3,1 7,2M417,348q-1,6 4,11M308,241q5,4 10,3M325,334q-6,3 -10,8M379,280q2,3 4,4M281,375q-1,5 -5,7M303,347q6,3 13,3M414,224q6,2 12,2M420,232q5,3 11,4M280,306q6,2 10,7M232,286q3,2 7,1M366,221q-2,5 -6,10M269,255q5,2 10,4M294,299q5,3 9,8M310,270q4,5 10,5M413,237q3,4 5,9M249,302q3,5 9,8M375,315q-4,6 -4,12M415,353q3,5 6,8M370,332q-3,4 -6,7M236,367q1,7 3,13M215,368q1,5 -3,8M246,314q-6,-1 -11,1M341,313q1,4 3,8M236,269q4,0 7,1M287,309q4,3 9,2M221,222q-2,3 -5,4M419,268q-5,2 -5,8M403,280q6,2 11,2M347,260q2,6 6,9M228,298q-5,5 -5,13M421,338q-4,5 -8,9M376,346q7,-3 13,0M309,331q4,3 3,9M338,369q3,4 8,8M293,277q0,4 -4,5M390,216q4,5 6,11M319,247q-4,1 -5,6M244,259q-6,4 -8,12M298,339q-4,4 -8,8M270,278q4,0 7,2M401,271q-3,5 -9,6M296,278q-5,5 -11,3M327,217q3,4 3,8M296,275q4,3 7,7M252,287q6,4 12,1M238,346q4,3 8,2M337,261q-5,1 -8,4M266,257q5,0 10,4M385,333q1,3 1,6M374,287q-3,3 -7,4M346,263q4,5 9,6M290,323q0,6 1,12M240,305q-5,2 -10,3M237,285q6,-3 12,0M427,303q2,6 1,12M352,256q2,5 8,6M297,328q0,4 -3,7M237,268q-1,3 -2,6M401,225q-5,1 -9,0M225,346q-2,3 -4,5M397,298q2,6 8,8M255,348q1,6 1,11M232,346q-5,-1 -7,3M260,263q-2,6 -9,8M395,349q-6,-1 -10,4M256,365q0,7 -4,12M417,335q0,5 5,8M263,348q-4,3 -6,8M230,259q3,3 2,7M405,343q5,2 9,6M346,364q-6,3 -13,3M365,299q-2,5 -6,9M272,285q-3,2 -7,3M219,315q0,7 -2,14M406,316q-1,6 1,11M359,305q-5,1 -7,5M233,224q-3,1 -6,3M295,370q2,6 3,13M332,313q-5,4 -12,5M395,230q3,3 2,7M289,220q-2,6 -7,11M320,278q5,4 8,10M374,340q6,-2 11,2M413,372q0,4 0,8M276,233q-4,1 -8,1M260,230q-4,4 -10,5M376,221q1,4 -3,6M314,296q-3,0 -5,3M385,321q-3,3 -5,7M350,340q-4,1 -8,2M283,299q-2,7 -8,11M271,321q-1,7 -2,14M205,241q4,4 9,9M361,310q-2,6 -5,11M341,331q-3,0 -7,1M420,357q2,3 6,2M269,361q-6,4 -10,9M300,364q5,3 11,3M286,241q-5,1 -8,4M290,347q5,3 5,9M355,257q3,4 7,7M227,263q-5,1 -10,5M278,283q-5,3 -10,2M376,237q6,2 12,4M294,325q-5,0 -7,5M369,222q-2,2 -6,4M322,350q1,6 -1,12M226,236q-2,4 2,6M239,302q-6,-2 -11,2M352,308q0,6 2,11M390,251q5,3 6,9M300,312q1,5 4,9M324,222q-4,4 -9,7M351,254q0,6 2,12M360,289q-4,-1 -7,1M298,277q-4,5 -9,9M383,273q5,5 12,4M288,364q3,3 3,7M341,256q-4,4 -6,10M308,285q0,4 0,8M269,306q2,3 2,7M326,341q3,3 1,6M291,334q-5,3 -7,9M282,277q1,4 4,6M351,333q5,2 10,2M393,357q1,3 2,6M349,347q-3,1 -6,2M425,346q-4,1 -9,1M237,249q-3,4 -7,7M418,256q-4,6 -6,12M294,301q-2,4 0,9M374,348q2,4 6,7M421,331q-5,1 -6,5M372,331q-1,6 -2,11M370,287q-4,-1 -7,2M234,344q4,4 6,9M244,289q-4,2 -4,7M270,260q6,0 10,4M252,350q-5,2 -8,6M278,246q-2,2 -4,5M395,322q1,4 0,7M239,238q-2,5 -6,10M240,258q-3,4 -6,7M378,275q-3,4 -8,8M314,227q0,4 -4,6M257,298q-7,-2 -13,0M284,248q5,0 9,2M361,314q4,5 7,11M374,261q-4,1 -8,1M407,282q-5,4 -11,7M218,323q1,4 4,8M305,261q-6,2 -10,8M278,372q5,3 6,8M380,331q7,-1 13,4M400,259q4,2 8,3M249,228q7,2 12,6M259,351q-6,2 -12,3M376,347q6,3 11,6M355,264q-4,5 -5,11M370,288q3,2 5,5M413,249q4,5 9,9M404,289q1,4 4,6M359,318q-4,1 -6,5M315,261q-4,4 -9,7M326,338q6,3 13,3M219,261q4,4 10,6M383,323q-2,6 -4,12M425,271q0,4 0,7M285,370q3,3 7,5M257,317q1,4 3,8M359,223q0,5 -2,10M295,313q-6,2 -9,8M321,259q7,0 10,6M239,225q-1,5 3,9M391,349q6,1 10,6M388,339q2,3 2,6M332,288q-3,4 -4,9M408,296q-3,5 -8,4M382,229q-4,2 -8,2M219,234q3,6 4,13M404,355q3,4 7,3M292,291q-1,4 2,7M403,249q5,2 10,5M377,259q5,2 9,6M347,271q1,4 4,7M302,313q1,5 -3,7M217,252q6,3 10,6M424,255q2,3 5,5M400,226q5,3 10,1M309,325q-2,4 1,8M239,253q-5,0 -7,4M376,257q-3,3 -6,6M289,377q-2,4 -6,5M413,261q-6,4 -8,11M353,237q-4,3 -9,1M323,300q4,3 6,7M256,260q-4,1 -4,4M254,229q4,1 9,3M271,310q-6,1 -11,5M386,377q5,0 8,4M306,328q5,3 11,6M223,306q2,6 6,11M348,323q3,4 0,7M297,223q5,5 6,12M411,288q-5,2 -9,4M292,336q3,3 7,4M323,378q-4,4 -10,3M214,270q0,6 1,13M286,273q5,2 5,7M359,264q0,7 -4,13M270,246q4,5 8,9M305,273q1,7 0,13M249,265q-3,3 -4,7M341,328q0,6 -3,12M345,222q4,3 9,5M359,269q-3,4 -7,8M259,237q7,0 12,4M379,226q3,2 3,7M222,343q-3,4 -7,2M269,308q0,3 0,7M345,367q-4,3 -9,3M353,283q-3,6 -1,12M246,258q-1,5 -4,9M392,280q-6,4 -13,3M352,356q-3,2 -4,5M318,261q6,2 9,8M282,377q4,1 8,4M382,317q-4,4 -10,6M286,353q-2,4 0,9M348,363q-1,3 -2,6M303,266q-4,3 -8,5M256,325q4,5 4,12M366,331q6,-2 12,1M417,308q4,0 8,1M276,243q3,5 9,6M258,359q1,4 5,7M321,237q-1,6 -2,13M287,351q5,3 11,3M330,264q3,-2 6,1M269,303q-3,2 -6,5M304,285q1,4 -1,8M277,297q2,5 6,9M289,363q0,4 -2,7M305,237q3,3 7,5M377,340q2,7 5,12M421,296q0,6 -5,9M390,285q6,2 11,5M336,339q-4,4 -4,10M268,286q0,7 2,13M324,372q-2,6 -9,7M299,338q-4,0 -6,5M372,334q3,4 8,3M307,363q-5,4 -11,2M380,336q5,1 9,5M419,282q-6,2 -12,1M228,224q-5,1 -8,5M335,220q4,0 7,4M236,222q3,4 5,9M266,345q4,1 7,4M261,273q3,4 7,6M243,359q-1,7 0,13M256,261q-1,7 1,13M385,328q4,3 4,9M401,330q-2,3 -6,3M398,243q-4,-1 -6,3M314,365q2,4 6,3M418,328q0,5 -5,7M283,355q4,1 7,3M363,269q-6,3 -12,4M297,350q-3,4 -7,7M394,352q-5,3 -11,5M323,344q2,6 -1,12M263,291q-7,-1 -11,4M290,372q2,5 8,5M235,291q-4,5 -5,11M327,288q-2,4 -3,8M324,325q-3,4 -6,8M376,250q1,5 5,7M342,370q-5,0 -10,2M401,263q3,7 8,11M342,277q4,-2 7,1M327,310q4,-2 7,1M336,334q-1,7 1,13M259,224q3,4 6,9M239,326q-3,6 -9,9M267,246q4,6 5,13M386,252q4,2 3,6M311,286q-2,4 -1,8M283,259q3,5 3,11M413,251q1,5 6,7M358,364q-4,1 -7,4M233,255q3,6 3,12M233,265q6,0 10,5M401,260q-6,2 -10,6M344,287q1,6 5,11M364,236q-1,3 -3,5M338,325q4,2 9,4M276,300q-3,2 -6,1M427,343q1,5 -2,9M210,298q4,0 6,3M325,322q4,6 10,9M343,223q-5,-1 -9,1M357,326q1,7 -2,14M224,311q-4,-2 -7,1M336,316q-3,2 -6,4M369,287q5,5 12,5M356,273q4,3 7,6M405,293q1,4 1,9M306,299q-2,6 -7,9M415,272q-3,5 0,10M219,350q0,6 -1,11M331,331q-5,1 -9,2M313,365q-3,1 -6,2M240,328q0,4 1,8M424,325q-3,4 -4,9M239,281q4,0 7,3M219,247q0,4 -1,7M237,374q-4,5 -7,10M367,247q4,5 5,11M278,351q-5,-1 -9,4M417,293q1,6 -3,10M373,346q1,4 4,7M412,277q6,2 13,3M272,357q4,0 7,2M378,335q-1,5 -6,7M305,358q3,2 5,5M258,301q1,5 -3,9M389,281q1,4 -2,6M260,341q-3,2 -6,1M349,239q-7,0 -14,2M265,275q3,4 7,8M412,244q-4,-2 -8,1M222,234q-6,0 -10,6M243,294q-4,2 -9,4M214,231q5,2 9,4M333,301q5,1 11,1M217,297q-1,4 2,7M394,356q-2,6 -1,11M229,221q-4,5 -8,10M263,373q1,5 5,6M382,355q-7,2 -13,2M261,306q2,4 4,8M401,306q2,4 7,5M343,254q7,-1 12,3M277,342q-5,3 -6,8M426,350q2,5 -1,9M227,286q3,5 -1,9M418,294q-2,3 -3,7M359,378q5,-2 10,0M301,257q-2,4 -4,9M223,222q-1,3 -3,5M336,284q-6,-1 -12,0M257,333q-3,3 -4,6M211,247q-1,4 3,7M360,297q5,-1 9,1M406,280q-4,2 -8,2M382,278q3,3 4,8M266,261q4,4 2,10M290,349q6,1 11,5M345,318q2,3 4,5M364,309q-6,0 -10,4M250,359q4,2 8,0M402,236q5,4 12,3M307,293q4,6 8,11M236,247q-4,3 -9,4M206,257q5,-1 10,2M255,353q4,2 9,4M336,313q1,6 -2,12M335,315q5,1 9,4M349,341q-2,2 -5,4M349,343q-3,2 -4,5M313,257q-1,5 -3,10M331,337q-7,-2 -12,2M221,365q-7,-2 -13,0M413,376q3,2 7,3M414,303q-5,2 -9,4M390,312q-2,5 0,10M238,272q-1,3 -3,6M401,270q2,7 7,11M401,266q5,2 10,2M358,289q-2,5 0,9M251,348q-1,6 4,11M335,298q2,5 5,9M232,314q-3,4 -4,8M424,337q3,1 6,2M333,296q-5,4 -12,2M351,266q-4,3 -9,1M260,300q-6,-2 -12,2M409,341q1,5 6,7M379,332q-6,1 -12,3M267,219q-1,4 -4,7M253,239q-2,3 -1,6M415,343q1,4 6,4M276,301q0,7 -5,11M308,304q4,4 10,4M315,324q6,2 9,9M350,363q-5,4 -12,5M406,231q-2,4 -7,4M386,345q-7,2 -12,6M244,237q3,2 4,6M426,354q-1,4 1,7M302,302q-6,4 -13,3M387,290q0,4 4,5M248,241q-1,7 3,13M267,225q1,7 7,11M359,350q-4,2 -5,7M359,362q-4,6 -3,13M363,363q4,2 4,6M218,319q-5,5 -5,13M385,317q2,5 7,5M418,361q-3,3 -6,6M387,309q3,1 4,5M282,273q-3,3 0,6M351,252q-7,0 -13,5M239,330q-3,3 -7,5M266,369q-3,6 -6,11M332,321q3,4 3,9M343,263q1,5 6,7M326,243q-4,0 -5,5M258,307q0,5 2,10M386,348q1,4 -2,7M250,271q3,5 0,11M320,246q-4,1 -7,3M270,341q-5,5 -12,6M350,284q5,1 8,5M422,290q1,4 1,7M247,335q-5,3 -7,8M407,380q-6,-3 -12,1M252,278q3,5 1,10M298,342q-4,4 -5,9M350,220q-3,4 -6,6M426,373q-5,2 -10,1M315,365q0,3 0,7M300,289q-5,4 -11,3M245,326q-5,3 -7,8M390,268q1,5 -3,7M344,317q-3,5 -9,4M208,369q6,2 13,1M339,239q-2,4 -3,9M251,221q3,1 5,4M254,272q2,3 2,6M280,278q-4,6 -10,8M234,309q-2,3 -6,4M419,278q5,-1 10,2M252,364q-4,6 -6,13M371,287q3,6 10,9M218,311q-3,5 -8,8M282,364q2,3 5,6M422,272q2,4 7,3M265,336q0,3 1,6M366,320q4,2 8,5M314,270q-3,3 -7,3M295,292q-2,4 -6,5M392,222q0,3 0,6M315,364q-6,2 -10,6M394,345q-3,6 -9,9M322,328q1,5 0,10M243,364q5,0 9,1M422,220q7,2 12,8M422,257q5,4 9,10M429,259q-5,4 -11,6M235,346q3,3 3,7M409,261q-1,5 -5,9M332,328q2,7 3,14M285,306q0,4 2,8M365,334q5,3 10,5M253,351q2,7 9,10M351,332q-1,6 -6,10M337,370q-2,7 2,12M402,287q6,3 9,9M316,345q3,5 7,10M372,334q5,4 12,6M355,259q-1,7 0,14M428,301q-3,5 -3,11M360,243q-4,0 -6,2M239,354q-3,5 -4,11M414,266q-1,3 -3,5M372,327q-4,5 -9,6M249,300q1,4 0,7M431,352q-5,4 -11,5M323,317q1,4 5,5M266,360q2,5 0,10M392,284q4,0 7,4M377,274q0,6 5,10M328,291q-7,1 -11,7M381,254q-3,4 -8,6M308,237q1,5 -2,9M343,240q-4,3 -6,8M305,241q-1,7 -2,14M222,337q-4,5 -8,9M313,345q-3,6 -4,13M395,272q-3,2 -5,5M278,354q6,1 12,1M359,361q6,2 9,8M419,353q0,5 3,9M355,262q-5,1 -10,1M216,234q-1,4 -3,6M354,260q-3,6 0,12M373,291q4,6 7,12M283,225q5,-1 8,2M237,275q-2,5 -2,10M254,266q-3,3 -7,2M350,298q-3,2 -6,3M331,336q3,3 3,8M407,279q-5,3 -11,6M337,255q1,6 5,8M353,361q5,0 6,5M337,264q0,4 1,8M374,358q-2,4 0,8M283,306q-4,2 -7,7M302,262q-5,2 -11,2M312,259q7,0 13,2M224,289q5,3 10,4M272,253q-5,-1 -8,2M275,223q3,3 1,7M356,314q3,5 8,4M295,255q-5,5 -10,10M292,348q-6,-1 -11,4M331,349q5,5 11,8M394,342q-1,6 2,12M321,265q-3,5 -8,5M210,229q4,1 5,5M217,260q-4,4 -7,8M406,227q6,2 13,2M259,332q-4,4 -10,7M243,336q1,6 2,11M320,370q-3,3 -2,7M227,335q5,4 9,9M310,377q-6,2 -13,3M405,295q-4,4 -5,9M286,279q-3,2 -6,3M425,263q-6,-1 -11,0M401,367q4,3 9,6M350,269q0,4 3,7M283,345q-4,2 -7,5M414,251q3,6 2,12M251,258q-5,4 -10,5M279,239q5,1 10,3M411,300q-1,5 -6,6M367,346q5,2 8,6M401,331q6,4 11,8M376,312q3,4 9,4M260,332q-5,2 -8,7M313,304q-1,3 -5,5M232,226q5,0 8,3M294,274q3,3 7,4M330,281q-1,4 -6,5M294,248q-3,6 -1,12M352,323q3,1 7,0M387,355q-7,2 -13,5M367,277q-7,-1 -14,1M265,307q-5,2 -10,6M379,342q5,3 10,4M312,345q1,3 0,7M321,375q-6,0 -11,4M228,332q-3,5 -9,8M291,320q0,4 0,8M226,229q-2,4 1,8M381,266q-7,1 -10,7M357,318q5,2 11,3M217,317q4,5 4,11M325,242q0,5 -5,7M418,360q-5,1 -8,5M361,285q2,4 7,5M351,375q5,-2 11,0M220,262q-1,5 -2,10M286,363q4,3 7,6M294,244q2,6 -1,11M271,237q5,0 8,4M293,225q-1,4 -4,5M381,284q-3,5 -9,5M212,271q3,6 6,12M345,216q-5,4 -5,9M350,324q2,3 1,7M272,231q5,1 8,4M215,372q1,5 5,8M374,325q0,4 -1,8M373,277q3,6 4,13M406,231q-7,0 -14,0M282,235q-2,5 -6,7M364,267q-4,3 -8,6M358,273q-6,1 -9,6M414,266q4,-2 7,1M360,250q6,3 12,2M302,242q-2,6 -8,8M298,229q2,7 3,13M338,345q2,6 4,13M397,335q-6,1 -9,7M225,311q-3,4 -8,2M295,293q2,3 3,6M231,339q-1,5 1,9M405,257q1,6 7,10M414,298q-4,1 -6,3M380,297q2,7 6,12M227,366q4,1 8,4M234,309q6,2 8,8M400,328q-5,3 -11,1M331,226q-5,4 -11,6M342,334q-2,5 -6,9M369,335q0,5 -1,10M345,364q-3,1 -5,4M308,251q-3,5 -8,7M336,337q-4,2 -7,4M229,352q-3,1 -5,3M213,242q-3,2 -3,6M294,321q-4,4 -9,5M233,281q3,6 9,9M233,355q-4,3 -8,5M321,331q4,0 7,1M235,256q3,3 7,3M339,277q6,3 13,0M381,290q5,5 6,12M229,334q1,4 6,6M400,278q0,4 0,9M398,305q4,3 8,0M282,365q3,6 3,13M364,236q3,1 6,1M374,322q6,3 13,3M358,334q5,1 9,4M269,372q-6,1 -12,3M224,336q-2,4 -4,8M330,241q2,7 7,11M407,308q1,3 2,7M275,226q-2,6 -4,13M226,301q4,5 10,7M249,239q4,5 10,7M262,234q6,-2 11,1M342,337q-3,4 -9,5M379,290q6,3 12,5M231,244q-1,4 -1,9M256,269q7,0 14,1M390,327q5,1 9,5M431,310q-4,-1 -8,2M379,256q-3,3 -8,4M424,284q-2,5 -7,7M342,315q5,-1 6,4M290,320q2,3 0,7M390,229q-1,3 -3,5M408,277q0,6 1,12M297,330q-3,1 -5,3M370,232q-2,6 -1,12M326,357q-4,5 -3,12M318,272q4,5 11,7M328,375q0,4 4,5M336,249q0,6 0,12M251,220q-6,4 -7,12M319,261q-2,3 -1,6M409,278q1,5 6,6M362,301q-5,5 -9,10M375,322q2,6 6,10M249,225q-3,5 -7,7M409,293q-6,1 -10,5M353,262q-1,3 -2,7M344,283q-4,0 -7,2M361,220q2,5 -1,10M262,244q-5,1 -10,4M285,353q-5,2 -9,6M242,286q4,2 4,7M381,307q-3,3 -5,7M227,343q-2,6 -2,12M334,264q0,3 -3,6M376,269q-4,4 -9,3M272,329q-3,4 -9,4M211,345q4,2 5,6M308,361q-2,5 -6,8M324,253q3,3 4,6M370,237q-4,1 -8,1M213,357q0,3 2,6M417,356q-5,6 -4,13M263,267q-4,4 -4,10M231,279q5,2 11,3M405,220q-4,5 -8,10M259,341q0,5 -3,8M383,367q-7,3 -13,1M390,258q-4,0 -5,4M229,252q-4,2 -9,4M214,334q5,5 12,7M421,282q-5,5 -5,12M353,262q4,5 6,10M212,230q-2,3 -4,6M294,314q2,4 4,7M378,338q-5,-3 -10,1M407,266q5,5 11,4M336,229q-3,3 -3,6M295,288q-6,3 -10,8M287,275q5,3 11,3M358,340q3,3 4,7M310,321q-5,1 -9,4M378,370q5,3 10,8M218,281q3,4 5,8M250,351q5,0 9,1M288,244q0,6 3,11M339,373q5,-1 9,1M370,250q4,4 10,4M298,262q-4,5 -8,11M410,349q-2,3 -6,2M368,265q4,3 2,8M389,261q6,0 10,5M217,295q-3,4 -6,7M319,308q0,4 3,7M429,297q-4,2 -8,4"/></defs>
<use href="#s2" fill="none" stroke="#333333" stroke-width="2.4" stroke-linecap="round" transform="translate(0.8,1.0)"/>
<use href="#s2" fill="none" stroke="#d2d2d2" stroke-width="2.4" stroke-linecap="round"/>
<use href="#s2" fill="none" stroke="#a0a0a0" stroke-width="0.8999999999999999" stroke-linecap="round"/>
<defs><path id="s3" d="M214,244q5,2 10,4M425,301q-4,3 -8,6M387,220q6,2 11,6M337,328q-3,2 -6,4M374,273q-1,4 -1,9M374,270q3,5 8,8M292,367q6,2 12,3M295,269q-4,2 -5,6M310,298q-5,0 -7,5M306,290q3,3 5,6M296,247q5,0 9,2M355,362q-1,4 -5,6M420,260q-3,1 -6,1M253,287q2,6 4,12M356,219q-5,5 -8,10M284,375q3,1 7,0M356,239q2,6 3,13M365,282q3,3 2,7M277,311q1,3 1,7M218,251q-1,3 0,6M204,310q6,1 13,2M276,238q2,7 7,11M413,259q-5,5 -12,4M403,319q-2,3 -1,6M391,361q5,1 10,3M275,316q0,4 -1,8M305,322q6,1 12,2M284,317q-2,6 -7,9M244,355q0,5 -5,7M335,257q5,4 11,3M364,317q-4,3 -8,6M349,281q-1,3 1,6M347,233q2,2 5,3M270,260q6,2 13,0M286,345q2,4 0,8M265,321q4,4 10,6M425,314q-3,3 -4,7M348,351q7,2 12,6M244,375q-5,4 -10,10M243,266q4,2 3,6M210,228q5,0 8,5M380,339q-7,2 -11,8M350,301q5,3 5,8M371,271q-6,-1 -12,2M316,305q4,5 10,9M339,313q1,4 1,8M385,373q-3,2 -5,4M349,301q2,6 4,12M329,371q1,5 2,9M429,241q-4,4 -4,10M284,315q4,3 3,8M270,279q2,4 2,8M267,270q-5,4 -4,11M237,347q4,0 5,4M320,220q-2,3 -3,6M235,318q-4,1 -9,4M324,375q-1,4 1,8M366,225q0,4 4,5M218,221q7,2 12,6M397,281q-1,3 2,6M240,263q4,1 9,0M233,252q-2,5 -7,7M418,300q3,2 6,4M236,244q-7,2 -13,5M369,238q4,1 8,0M204,236q6,5 13,4M326,295q2,3 2,7M357,377q4,3 9,1M318,281q-3,5 -5,11M242,344q0,4 -3,8M266,320q-6,-1 -12,1M353,315q-4,1 -8,2M218,295q3,3 8,4M392,363q-6,2 -13,1M338,281q-1,6 -7,10M268,253q2,2 4,5M271,244q6,0 12,3M354,284q5,4 11,3M300,350q-3,5 -8,5M273,377q-3,2 -6,3M319,266q-4,0 -9,0M241,338q-2,4 -1,8M315,235q-6,0 -12,3M411,292q0,4 4,7M419,259q-3,6 -9,9M390,284q1,4 -1,7M328,369q-1,4 -1,7M251,317q-4,-1 -8,2M323,258q3,2 5,5M337,237q-3,6 1,12M294,289q0,6 3,12M334,238q-6,4 -13,4M281,308q4,2 2,7M331,294q-5,5 -11,8M359,370q2,4 -1,7M265,297q1,3 0,6M220,303q2,4 6,4M308,307q-3,0 -7,1M274,321q1,6 1,11M227,341q3,1 6,1M404,362q-2,4 -6,4M252,289q-3,5 -1,11M314,276q3,4 8,5M250,295q-2,3 -4,5M386,246q-5,1 -9,4M260,236q-5,1 -11,1M361,323q4,6 4,13M232,362q-2,4 -2,7M410,287q-4,0 -8,2M426,339q3,5 1,11M391,275q-4,0 -4,5M368,245q3,3 4,8M357,332q2,4 3,8M270,321q-6,3 -8,10M413,369q1,6 5,11M417,264q4,3 9,1M381,237q4,3 6,8M306,367q-2,4 -2,8M368,225q-3,4 -8,5M308,343q-3,4 0,8M228,266q3,2 6,1M328,316q-1,5 -5,6M250,225q5,5 7,12M298,253q6,3 8,10M392,333q3,3 3,7M404,364q3,2 5,4M351,352q-7,1 -13,3M371,357q-1,6 1,12M349,264q0,4 -5,4M385,343q-4,1 -7,3M415,367q1,3 5,4M322,240q3,4 5,9M232,312q3,6 4,12M413,318q-5,5 -12,7M364,242q1,5 -3,7M263,372q-4,2 -5,6M324,353q3,3 7,3M288,249q-3,4 -6,8M392,275q-6,1 -12,3M354,309q2,4 6,6M246,284q-4,1 -8,3M266,288q1,3 4,5M259,264q4,5 9,10M430,232q-5,1 -8,5M342,333q4,-2 7,1M400,248q5,4 11,3M381,349q-5,5 -6,12M430,233q-3,2 -4,5M260,324q5,4 5,10M428,305q-4,0 -5,4M293,345q-4,1 -4,5M375,260q-2,4 -5,8M429,342q-1,5 -6,8M279,225q4,2 7,5M281,227q0,4 2,7M266,278q2,6 4,13M318,365q-1,4 1,7M322,271q3,3 7,5M396,335q-3,1 -5,4M286,263q5,4 12,6M274,306q-6,0 -11,3M220,358q7,0 14,2M405,303q-4,0 -5,4M244,354q1,6 -4,10M425,378q-2,3 -6,4M218,298q1,7 -3,12M397,284q-1,6 3,10M330,345q-4,6 -4,13M259,246q-5,4 -6,10M292,248q-4,1 -9,3M273,299q5,3 11,4M310,356q-3,6 -9,8M323,227q4,2 8,5M261,267q-6,3 -9,8M366,277q3,1 6,1M425,300q-4,3 -9,4M259,369q2,3 -1,6M265,365q1,6 -2,11M412,287q2,4 -1,7M393,283q4,2 6,6M252,313q-3,3 -1,7M369,303q4,3 4,8M298,374q4,3 6,8M307,289q-2,4 -1,9M367,334q-3,5 -9,5M342,353q-6,3 -12,2M350,343q3,3 6,7M394,252q-5,4 -9,9M319,371q3,1 7,1M232,261q-3,1 -7,1M265,269q3,3 3,7M396,308q-3,2 -6,3M217,336q0,6 0,11M374,374q-5,1 -9,3M256,332q6,1 11,5M235,222q0,4 0,9M322,352q-4,-1 -7,1M222,227q-2,3 -2,6M269,326q-4,2 -7,5M256,231q5,2 11,3M354,239q1,6 4,12M323,330q0,5 -1,10M243,318q-1,3 2,6M403,355q-6,-2 -12,1M299,325q-1,4 -3,7M402,239q-2,3 -3,7M346,312q-1,3 -2,6M255,347q-2,5 -6,11M244,214q1,6 1,13M273,282q-1,6 2,11M246,237q6,3 10,7M368,221q0,6 5,9M329,300q-4,4 -9,7M211,312q3,4 8,6M365,372q5,4 10,9M376,218q-2,6 -6,11M405,293q-5,0 -7,4M244,368q-2,3 -4,6M399,375q-2,4 1,7M293,248q5,-1 10,1M390,353q6,2 12,2M306,324q1,5 5,7M357,317q3,4 6,8M407,354q-3,1 -5,4M354,265q-3,6 -3,13M227,297q2,4 2,8M329,238q2,5 5,8M268,275q-4,3 -8,2M254,357q-1,5 -6,6M238,314q3,2 5,5M345,244q0,3 2,6M390,310q-4,2 -8,2M378,337q1,6 -1,11M334,216q0,7 -1,14M421,356q-5,-2 -8,2M247,285q-2,4 -2,9M298,321q3,5 0,11M265,276q4,5 5,11M219,329q-3,4 -1,9M355,256q-3,3 -3,8M246,286q3,2 7,3M291,286q6,-1 13,1M219,220q2,5 5,9M246,241q6,1 12,2M215,368q6,4 13,2M330,332q1,6 2,13M284,316q-3,2 -3,5M363,316q-2,4 -5,7M352,257q0,5 -4,7M388,348q4,3 7,8M236,337q7,0 13,5M301,373q3,2 6,5M278,261q6,-1 10,4M314,369q4,1 6,5M225,233q2,4 5,7M250,363q-3,5 -9,6M392,284q-4,2 -8,3M270,281q4,4 8,7M284,240q-4,0 -5,3M270,338q3,4 4,8M285,276q-3,2 -6,4M255,283q-2,5 -7,7M313,340q6,2 11,6M359,271q5,3 8,8M222,322q4,0 8,2M256,279q-7,0 -13,3M384,361q-2,4 0,7M413,315q3,2 3,6M372,349q5,3 9,0M408,369q-6,2 -12,0M233,349q4,5 8,9M236,242q-6,4 -13,5M352,329q-1,5 0,10M215,369q2,5 1,11M272,316q0,5 -4,6M296,263q-4,1 -3,5M289,257q5,4 11,4M320,325q-1,4 -1,8M344,342q1,5 2,9M222,274q-3,6 -7,11M386,261q3,3 6,7M240,309q-1,4 1,7M402,323q4,2 7,5M264,324q6,2 11,5M376,329q-3,3 -2,7M403,258q-6,-2 -13,1M402,236q-4,3 -5,8M394,283q-2,4 -5,7M305,355q-2,4 -7,4M224,275q3,6 9,7M344,232q-3,4 -7,3M213,258q3,2 5,4M386,292q5,1 10,4M350,291q-1,7 3,13M262,328q-6,3 -12,1M350,369q-5,-2 -10,1M278,296q-2,5 -7,5M362,220q-1,3 -5,4M333,363q0,4 2,7M344,317q-2,4 -1,8M322,317q2,5 5,11M291,264q-3,2 -6,2M369,250q-5,3 -7,8M316,376q-1,4 -5,5M322,221q-4,0 -6,2M221,233q-3,2 -6,3M386,314q5,4 11,5M272,319q0,4 4,6M223,243q2,4 7,5M403,349q-2,4 -4,9M353,313q-1,7 -6,12M371,304q5,4 6,11M321,252q-2,5 -1,11M215,343q1,3 1,7M419,343q4,5 9,10M401,352q1,5 0,11M330,356q-5,3 -10,6M235,249q-4,2 -9,3M418,292q-1,7 -7,10M310,308q-5,5 -12,8M272,295q1,4 4,8M217,289q3,2 7,0M217,324q7,-1 12,3M212,358q3,5 9,4M345,358q-2,3 -2,7M304,298q3,1 5,4M307,220q-4,2 -2,6M270,302q-4,3 -8,7M321,224q3,3 1,6M276,240q3,5 7,10M335,330q2,4 7,4M313,335q5,-2 10,1M248,225q-6,1 -12,1M423,235q-2,4 -3,8M212,358q5,5 8,11M352,285q-5,1 -9,4M242,272q-6,2 -13,3M224,343q3,2 6,5M225,323q2,6 6,11M235,277q4,0 7,2M292,220q-1,6 -5,10M308,264q-4,-2 -7,1M315,351q-5,0 -10,1M399,305q-4,4 -4,10M242,335q-6,1 -12,0M355,280q5,2 11,0M255,298q-4,-1 -7,1M401,336q-1,7 -6,12M228,337q-2,3 -5,6M399,273q-2,3 -6,3M300,344q-3,4 -8,2M371,354q6,1 9,6M384,337q-6,0 -12,1M421,374q-3,5 -8,7M430,296q-5,3 -6,8M268,335q2,6 4,12M408,272q-6,3 -12,4M282,249q-3,3 -7,3M266,321q1,5 5,6M423,337q3,5 5,11M386,301q1,4 4,7M290,350q4,-2 8,0M236,245q-3,6 -6,12M237,346q4,4 8,8M397,367q-2,7 -4,13M305,220q-3,3 -7,4M350,372q5,4 7,10M414,249q-3,5 -5,11M276,370q4,5 3,12M296,225q4,1 5,5M323,243q3,3 7,1M227,367q-3,7 0,13M216,336q-5,4 -4,10M240,267q3,5 10,6M251,281q-6,1 -11,5M389,281q1,5 -1,9M323,307q5,0 8,4M282,303q7,2 11,8M273,291q0,6 5,9M261,262q-4,1 -8,1M290,226q-5,1 -7,5M415,251q4,-1 5,3M395,262q6,4 8,10M272,312q-5,6 -6,13M328,368q-7,-2 -13,0M366,348q-1,7 -7,11M304,369q0,6 4,11M291,279q-3,4 -5,9M285,307q-3,4 -4,8M236,315q0,7 -5,13M326,245q3,4 8,5M375,310q4,3 8,3M257,362q4,6 11,6M418,229q2,4 6,8M392,260q3,2 3,6M359,266q6,1 10,4M379,348q1,6 -2,10M341,311q-1,4 -5,6M324,230q-1,7 4,12M303,343q5,0 10,2M338,344q-2,3 0,7M260,273q-2,4 -6,6M413,353q-5,1 -10,1M219,328q-6,3 -12,2M214,312q3,4 7,6M330,316q-5,5 -12,6M221,322q1,4 5,4M290,335q5,3 11,4M368,221q7,2 13,4M309,292q5,5 12,7M399,242q4,0 4,4M222,350q4,1 4,5M247,305q-5,5 -12,5M388,357q4,2 6,5M378,374q2,5 3,10M309,254q-1,6 -3,11M362,342q1,4 3,7M375,229q-4,1 -5,4M256,277q-2,6 0,11M258,286q-3,3 -8,4M370,287q0,4 -3,7M232,352q4,5 6,12M338,315q2,5 7,8M271,355q4,6 9,10M362,250q1,7 2,14M290,283q-4,-2 -7,1M380,374q0,7 -5,12M419,340q-1,5 0,10M364,307q4,0 9,2M236,278q-5,4 -11,8M366,287q-6,-1 -10,4M270,339q1,4 1,9M247,251q0,7 -3,13M426,339q-1,6 -2,12M244,245q-2,5 -6,10M384,256q3,3 7,1M320,311q4,4 10,4M427,257q-4,2 -7,4M250,370q2,6 5,12M367,273q0,6 4,10M260,290q2,4 -2,6M282,337q3,5 5,9M229,258q5,4 12,6M366,320q6,2 11,5M282,253q0,5 5,6M297,343q-4,4 -8,9M318,244q1,7 5,12M404,310q-3,4 -8,3M370,263q3,5 9,7M310,234q5,4 6,11M391,232q3,2 6,4M418,227q5,5 9,11M384,354q-2,3 -4,6M231,376q-4,3 -5,8M267,265q-5,0 -9,3M351,272q2,4 4,8M314,282q-5,1 -6,6M396,243q3,5 9,6M324,218q-1,7 -6,11M404,231q-7,0 -13,0M345,281q-5,1 -8,5M303,351q-3,4 -7,5M387,260q6,1 9,5M298,230q0,4 3,7M289,223q3,4 2,9M285,292q-4,4 -3,10M412,330q4,0 9,0M271,316q0,4 -2,7M242,228q5,0 9,4M266,245q2,2 6,2M304,323q-2,5 -4,11M390,234q4,0 9,0M401,298q0,7 -4,12M223,324q5,5 12,6M364,241q-5,0 -7,4M366,371q-6,2 -12,3M303,269q4,2 4,6M410,317q6,4 12,6M308,363q-1,3 -2,6M219,293q5,2 5,7M384,249q5,5 12,6M415,293q6,3 9,9M372,305q-4,6 -2,13M308,286q-6,1 -12,0M260,349q3,2 7,4M272,233q4,4 4,10M279,284q0,4 -4,6M296,268q7,0 12,5M285,372q-3,4 -9,4M376,331q7,2 12,8M427,368q-5,0 -10,3M338,292q-3,2 -3,5M334,338q2,5 7,7M229,260q-1,4 -3,7M329,293q5,1 10,4M325,317q4,2 9,2M321,371q0,5 -5,7M362,227q-3,4 -4,10M317,296q1,4 5,5M415,270q4,3 6,8M388,352q-4,5 -10,4M405,236q3,0 6,2M326,224q-2,7 3,13M368,260q-3,2 -6,4M231,260q-3,3 -2,7M296,222q-4,6 -12,7M264,281q7,4 14,1M348,281q-1,5 -5,8M279,345q-3,3 -7,5M358,216q-1,5 2,10M346,324q-4,0 -7,3M320,322q2,3 5,6M310,236q-3,6 -8,10M418,310q-3,4 -9,4M229,373q-2,4 1,7M282,367q-2,4 -7,3M323,365q-3,5 -7,10M381,332q-4,2 -5,6M353,256q4,2 7,6M293,346q4,5 10,6M358,272q6,0 10,4M265,341q2,3 5,6M305,254q-5,0 -10,0M398,351q0,4 0,7M393,331q-4,4 -10,4M238,293q-5,4 -6,10M251,234q-2,4 -5,7M369,304q-1,4 -2,8M391,346q2,4 6,5M391,357q4,2 8,3M412,314q6,0 11,1M246,231q2,3 5,6M340,305q4,2 8,4M412,362q-6,2 -13,4M324,250q-1,6 -3,12M223,244q-2,6 -1,11M228,328q6,3 13,1M220,333q4,4 6,9M221,341q-3,-2 -6,1M397,238q-4,4 -9,6M301,344q-1,4 2,6M379,365q4,6 10,8M267,304q-3,4 -5,9M262,357q0,5 -5,5M406,357q-1,4 -1,8M412,264q2,3 2,6M263,343q5,0 8,4M399,291q3,4 1,8M319,258q-4,1 -9,2M369,269q3,3 3,7M323,325q-2,3 -5,7M387,336q-2,7 -7,11M291,281q-5,4 -12,5M409,282q-3,5 -6,10M337,293q-5,3 -10,6M402,298q0,3 -2,6M366,263q4,4 9,6M341,328q-1,3 1,6M310,262q-3,5 -6,10M397,323q-6,5 -7,12M373,290q-2,3 -4,4M399,355q-2,6 -2,13M354,292q-4,3 -9,1M402,239q-1,4 -5,5M355,253q0,7 -3,13M331,337q6,3 13,1M390,253q-1,5 -1,11M264,362q-4,5 -2,11M293,301q-1,6 -4,10M337,284q3,5 5,11M343,249q-5,1 -10,4M317,236q2,5 3,10M362,373q4,4 8,6M306,351q1,6 5,11M324,331q0,4 4,5M220,327q-5,5 -12,6M239,278q-2,3 -2,6M354,352q4,-2 9,0M391,242q-2,2 -4,6M416,348q-5,5 -12,4M420,262q-3,2 -6,2M238,306q1,6 7,11M419,303q4,2 5,6M305,280q3,4 2,8M393,365q5,1 9,3M353,376q6,0 12,2M224,306q2,4 2,9M225,345q5,-1 9,2M224,359q-4,-2 -7,1M239,344q-5,1 -5,6M313,250q0,6 -4,11M326,298q-1,5 4,9M356,281q-4,4 -4,10M310,348q-3,2 -5,5M216,322q-3,1 -6,2M238,337q4,1 8,2M388,330q-3,5 -8,10M251,274q6,-2 13,1M415,221q-5,2 -10,3M374,220q-3,5 -4,11M275,315q-4,5 -11,6M407,330q-5,3 -7,8M335,354q-4,5 -11,7M290,365q4,4 9,5M254,373q-5,2 -11,2M405,267q-4,0 -5,5M414,238q-2,5 -5,9M370,275q-1,6 -3,13M322,283q-2,5 -6,8M219,327q-3,5 -9,4M374,264q5,4 7,11M352,249q-3,6 -2,12M352,292q6,-1 11,2M258,303q7,-1 13,0M231,345q1,7 -2,13M394,270q-4,4 -9,7M250,231q6,3 13,2M416,284q0,4 -4,6M309,269q-5,4 -8,8M318,337q4,1 6,4M255,292q-3,3 -7,2M414,342q-2,5 -1,10M285,348q-4,3 -8,5M419,315q2,6 8,7M228,225q-4,2 -9,1M230,268q-3,6 -10,7M297,288q4,1 7,3M295,312q-2,5 -4,11M250,236q-1,4 -5,5M316,257q-4,2 -6,6M331,317q-3,6 -9,7M272,342q-6,5 -8,11M245,222q6,4 10,9M344,299q6,3 9,9M230,342q-2,6 -6,10M249,332q5,4 8,10M380,346q1,4 5,5M367,276q-3,5 -7,10M314,253q4,2 9,3M219,220q7,2 12,6M402,229q-1,5 0,11M355,294q-1,7 -6,12M340,228q-3,4 -8,2M278,231q6,2 13,2M307,361q3,2 6,0M246,285q5,5 7,11M396,344q-6,4 -11,8M254,336q1,5 3,10M248,369q-5,-1 -9,2M349,261q0,6 5,11M291,356q-3,2 -5,4M343,313q-5,5 -5,13M369,288q-6,4 -10,9M411,248q0,4 -2,7M246,262q-2,4 -5,3M212,307q4,2 7,4M296,280q5,3 10,6M408,273q4,5 5,11M293,229q1,5 5,7M391,342q5,2 10,2M315,349q5,1 10,1M236,360q3,3 1,6M335,223q-5,5 -6,12M288,275q5,2 9,1M323,318q4,2 8,1M389,281q4,2 6,7M375,300q-1,7 -5,13M270,325q-3,3 -5,7M381,312q1,5 0,10M254,348q-3,5 -3,11M231,310q-4,6 -3,12M240,369q-5,2 -5,7M327,261q4,6 10,10M344,302q-7,-1 -12,3M379,349q1,3 2,6M313,363q-2,7 1,13M291,347q-4,0 -7,0M420,259q4,2 5,6M229,341q1,5 0,10M313,292q3,1 4,5M272,283q0,7 5,13M377,377q-6,3 -12,2M377,275q5,0 9,3M355,251q2,5 5,10M351,250q-4,5 -8,10M346,320q0,5 -3,8M430,328q-6,3 -8,9M311,258q2,3 0,6M308,225q4,5 5,11M387,280q0,6 -5,9M272,377q4,5 11,5M412,322q1,3 2,6M251,314q-1,4 -4,7M411,263q-2,3 -5,3M222,368q-1,5 -5,7M383,352q4,1 6,6M335,281q3,6 5,12M295,260q0,3 -2,6M413,323q-4,4 -10,5M401,348q5,0 6,5M303,235q5,4 8,10M410,266q-1,4 -2,9M277,316q-1,4 -4,7M262,273q-4,1 -7,5M228,362q6,2 12,4M327,301q-3,1 -6,2M365,303q3,6 8,11M275,368q4,0 8,1M368,282q-3,5 -8,9M303,377q-4,2 -9,4M254,361q5,1 10,0M331,347q-2,7 -8,11M236,354q-5,3 -10,6M340,228q0,5 -2,9M227,358q-1,4 0,7M321,361q-4,-1 -7,3M328,281q-3,7 0,13M245,235q-3,2 -6,4M311,324q0,4 1,8M214,285q3,5 3,10M225,366q-2,6 -2,12M214,376q3,4 1,9M279,235q1,4 2,8M232,357q7,1 12,5M378,271q4,2 5,6M411,327q-4,1 -8,0M378,334q-1,5 -5,8M368,250q0,4 3,7M366,262q-2,3 -1,6M214,241q4,2 8,6M255,332q-6,4 -12,2M243,356q-1,6 -6,10M424,270q4,-1 6,2M348,285q4,1 7,4M389,279q-3,-3 -6,0M292,321q2,4 -2,7M261,367q-1,3 -1,7M254,373q4,3 10,2M314,244q-1,4 -2,9M305,218q-2,4 2,7M245,255q1,5 5,8M373,328q0,4 3,7M338,242q-7,0 -12,3M339,243q0,4 2,9M332,241q-3,4 -9,6M230,282q-4,2 -9,2M382,351q-4,1 -7,2M402,344q-4,3 -9,5M276,313q2,4 7,6M393,233q-6,0 -11,3M246,233q-5,-1 -9,3M218,359q-1,6 -5,10M352,369q-5,0 -10,3M259,274q2,4 5,7M313,363q4,-1 7,3M266,331q-4,2 -3,7M352,251q-5,3 -11,6M295,314q0,4 -3,6M353,269q-4,2 -9,2M376,236q6,1 11,3"/></defs>
<use href="#s3" fill="none" stroke="#333333" stroke-width="2.3" stroke-linecap="round" transform="translate(0.8,1.0)"/>
<use href="#s3" fill="none" stroke="#d2d2d2" stroke-width="2.3" stroke-linecap="round"/>
<use href="#s3" fill="none" stroke="#a0a0a0" stroke-width="0.7999999999999998" stroke-linecap="round"/>
</g></g>
<clipPath id="ce"><rect x="433" y="229" width="202.3" height="142.8"/></clipPath>
<g clip-path="url(#ce)"><g filter="url(#sb)"><rect x="433" y="229" width="202.3" height="142.8" fill="#808080"/>
<path d="M619,279l-4,-8 -3,-10 2,-5 3,0 1,3 2,10zM563,248l-8,1 -10,-2 -12,-5 1,-2 9,-1 11,3zM578,250l2,-8 13,-5 3,5 6,3 -10,9 -10,-1zM463,283l-1,-2 10,-10 2,-2 8,-3 -5,9 -10,8zM571,279l-6,-10 -6,-14 3,-10 3,3 5,12 2,8zM616,333l-1,-4 5,-10 7,-4 3,5 -3,4 -6,6zM540,387l-5,-6 4,-8 10,-15 5,5 -3,12 -5,7zM543,362l7,-7 12,-4 11,-2 4,0 -10,7 -15,5zM627,311l1,-3 9,-6 5,0 1,3 -4,5 -6,1zM523,345l-1,-6 3,-4 3,-4 3,4 0,4 -2,3zM657,375l-8,1 -17,-5 -11,-4 2,-5 10,1 20,8zM574,310l-1,-4 6,-6 7,-2 0,4 -2,6 -6,0zM493,350l-3,-4 1,-9 3,-3 6,1 3,4 -3,8zM605,373l-8,2 -10,-3 -10,-4 2,-3 14,0 4,3zM595,295l1,-3 8,-5 8,-1 1,3 -10,6 -4,2zM470,370l-5,-2 -8,-5 -5,-6 3,-1 4,3 11,7zM528,332l6,-5 12,-5 10,0 3,8 -10,3 -11,1zM461,273l-1,-4 8,-5 13,-2 -1,5 -6,8 -10,1zM455,249l-2,-3 5,-10 4,-2 2,3 1,5 -8,7zM510,322l-2,-9 3,-6 4,-5 9,4 -4,5 -2,7zM636,374l-4,0 0,-9 2,-3 6,-1 1,4 0,5zM466,346l2,-5 11,-2 8,5 -3,3 -7,4 -6,-2zM593,260l-2,2 -13,1 -6,-4 -1,-3 7,-3 9,2zM468,275l-2,-3 15,-7 5,-1 -1,3 -7,5 -7,3zM539,266l-3,-10 -1,-9 3,-12 5,-1 2,11 -2,17zM478,331l6,-4 5,-2 10,3 1,2 -7,5 -9,-1zM555,327l-1,-4 0,-12 1,-7 3,1 2,10 -1,8zM539,349l0,-5 5,-10 5,-3 1,1 0,5 -6,8zM417,242l8,-7 6,-3 13,2 2,3 -5,4 -11,1zM554,378l-5,-1 -7,-4 0,-6 1,-1 8,2 2,5zM475,274l2,-3 7,-5 10,-1 2,5 -3,2 -15,6zM624,258l-8,-4 -7,-9 -6,-11 5,0 11,11 1,4zM528,372l-4,4 -14,-4 -2,-5 -1,-5 11,2 7,3zM478,243l2,-4 8,-3 2,1 0,6 -4,2 -7,-1zM541,366l-2,-4 3,-7 7,-2 5,2 -6,9 -5,3zM493,333l3,-4 5,-4 9,-1 0,8 -5,5 -12,1zM447,348l-3,-6 5,-4 5,-4 5,-1 -2,12 -6,5zM630,282l2,-4 3,-7 10,-2 1,3 -3,9 -6,1zM553,302l-3,1 -11,0 -3,-3 1,-1 6,-1 6,2zM451,300l-8,-1 -10,-8 -10,-15 4,0 7,1 11,15zM605,367l-3,-3 -4,-15 0,-5 5,-2 4,6 2,16zM555,276l0,-7 2,-6 2,-5 4,-3 0,9 -3,8zM534,365l-4,1 -10,-12 1,-9 4,0 4,0 8,11zM597,304l-5,0 -9,-5 0,-3 1,-5 5,2 7,6zM606,253l-4,-4 -6,-9 -3,-6 3,1 6,4 7,13z" fill="#404040" transform="translate(1.35,1.6500000000000001)"/>
<path d="M619,279l-4,-8 -3,-10 2,-5 3,0 1,3 2,10zM563,248l-8,1 -10,-2 -12,-5 1,-2 9,-1 11,3zM578,250l2,-8 13,-5 3,5 6,3 -10,9 -10,-1zM463,283l-1,-2 10,-10 2,-2 8,-3 -5,9 -10,8zM571,279l-6,-10 -6,-14 3,-10 3,3 5,12 2,8zM616,333l-1,-4 5,-10 7,-4 3,5 -3,4 -6,6zM540,387l-5,-6 4,-8 10,-15 5,5 -3,12 -5,7zM543,362l7,-7 12,-4 11,-2 4,0 -10,7 -15,5zM627,311l1,-3 9,-6 5,0 1,3 -4,5 -6,1zM523,345l-1,-6 3,-4 3,-4 3,4 0,4 -2,3zM657,375l-8,1 -17,-5 -11,-4 2,-5 10,1 20,8zM574,310l-1,-4 6,-6 7,-2 0,4 -2,6 -6,0zM493,350l-3,-4 1,-9 3,-3 6,1 3,4 -3,8zM605,373l-8,2 -10,-3 -10,-4 2,-3 14,0 4,3zM595,295l1,-3 8,-5 8,-1 1,3 -10,6 -4,2zM470,370l-5,-2 -8,-5 -5,-6 3,-1 4,3 11,7zM528,332l6,-5 12,-5 10,0 3,8 -10,3 -11,1zM461,273l-1,-4 8,-5 13,-2 -1,5 -6,8 -10,1zM455,249l-2,-3 5,-10 4,-2 2,3 1,5 -8,7zM510,322l-2,-9 3,-6 4,-5 9,4 -4,5 -2,7zM636,374l-4,0 0,-9 2,-3 6,-1 1,4 0,5zM466,346l2,-5 11,-2 8,5 -3,3 -7,4 -6,-2zM593,260l-2,2 -13,1 -6,-4 -1,-3 7,-3 9,2zM468,275l-2,-3 15,-7 5,-1 -1,3 -7,5 -7,3zM539,266l-3,-10 -1,-9 3,-12 5,-1 2,11 -2,17zM478,331l6,-4 5,-2 10,3 1,2 -7,5 -9,-1zM555,327l-1,-4 0,-12 1,-7 3,1 2,10 -1,8zM539,349l0,-5 5,-10 5,-3 1,1 0,5 -6,8zM417,242l8,-7 6,-3 13,2 2,3 -5,4 -11,1zM554,378l-5,-1 -7,-4 0,-6 1,-1 8,2 2,5zM475,274l2,-3 7,-5 10,-1 2,5 -3,2 -15,6zM624,258l-8,-4 -7,-9 -6,-11 5,0 11,11 1,4zM528,372l-4,4 -14,-4 -2,-5 -1,-5 11,2 7,3zM478,243l2,-4 8,-3 2,1 0,6 -4,2 -7,-1zM541,366l-2,-4 3,-7 7,-2 5,2 -6,9 -5,3zM493,333l3,-4 5,-4 9,-1 0,8 -5,5 -12,1zM447,348l-3,-6 5,-4 5,-4 5,-1 -2,12 -6,5zM630,282l2,-4 3,-7 10,-2 1,3 -3,9 -6,1zM553,302l-3,1 -11,0 -3,-3 1,-1 6,-1 6,2zM451,300l-8,-1 -10,-8 -10,-15 4,0 7,1 11,15zM605,367l-3,-3 -4,-15 0,-5 5,-2 4,6 2,16zM555,276l0,-7 2,-6 2,-5 4,-3 0,9 -3,8zM534,365l-4,1 -10,-12 1,-9 4,0 4,0 8,11zM597,304l-5,0 -9,-5 0,-3 1,-5 5,2 7,6zM606,253l-4,-4 -6,-9 -3,-6 3,1 6,4 7,13z" fill="#909090" stroke="#cccccc" stroke-width="1.2"/>
<defs><path id="s4" d="M615,262q4,3 9,1M595,236q8,4 14,10M547,370q-6,1 -6,8M519,365q7,0 14,1M527,316q5,-3 10,1M453,247q0,9 7,15M626,363q-10,0 -20,0M507,287q2,7 9,5M588,356q-8,6 -18,10M426,286q10,4 20,8M452,347q9,5 19,7M640,264q3,7 3,15M533,245q-3,8 3,15M518,363q-10,-2 -18,5M608,292q5,8 15,9M615,288q0,11 -8,18M500,226q-6,7 -16,8M458,231q-8,-4 -16,1M559,273q10,1 20,1M559,378q-7,1 -13,1M634,308q-2,6 -2,13M512,238q-5,4 -1,9M443,260q7,4 13,9M625,288q-10,-2 -19,4M514,331q-6,3 -11,9M580,261q-7,-1 -13,3M496,330q4,4 6,8M547,325q4,4 2,10M633,224q7,2 9,10M486,244q-3,8 -3,17M648,273q-8,7 -11,17M578,219q-8,8 -7,20M628,222q-3,7 1,12M456,310q4,5 4,11M461,359q-8,5 -17,4M558,304q10,3 17,11M513,373q2,6 0,12M431,347q-1,8 6,13M570,368q-2,6 -8,7M588,283q2,11 9,19M495,228q5,8 13,11M600,278q-7,0 -9,6M635,341q-5,3 -11,5M543,261q-9,2 -19,2M462,294q5,2 10,5M534,223q-11,-3 -21,1M500,316q-11,2 -17,12M581,268q1,8 9,9M502,314q10,-1 19,2M624,286q0,7 -6,12M582,320q10,3 17,12M587,308q-11,-2 -21,4M438,329q-3,10 -10,17M516,289q1,6 -4,10M480,321q-3,8 -12,7M631,325q-2,7 4,13M631,259q-2,9 1,18M585,287q4,5 10,4M531,346q-4,10 -13,15M631,287q11,3 22,1M626,354q-9,3 -17,0M525,248q-5,9 -4,19M446,226q-5,2 -9,4M431,225q7,6 16,10M472,360q-4,6 -10,9M422,238q3,10 9,17M472,286q-9,2 -12,11M508,263q-5,4 -7,10M480,251q4,4 10,4M600,287q-2,9 -2,19M623,294q-8,-5 -16,0M558,295q3,4 1,9M514,251q7,9 16,15M427,276q8,9 8,20M575,353q2,6 -3,9M608,316q-10,-1 -19,3M606,288q-6,3 -13,3M618,290q-4,4 -3,9M430,371q-2,7 2,13M542,292q9,6 20,9M426,334q3,9 5,18M548,359q2,5 4,10M498,253q3,7 8,13M521,343q-5,9 -3,20M543,274q-8,3 -15,7M602,268q-3,8 -4,17M518,240q6,-3 9,2M526,280q-8,2 -17,2M488,318q7,4 16,3M510,306q-8,4 -17,4M534,351q-10,6 -14,16M434,307q-3,6 -4,12M503,356q9,6 19,4M585,350q0,7 4,12M611,259q3,8 6,17M541,277q-7,9 -18,10M435,230q6,1 9,7M490,274q1,10 -6,18M576,311q-3,4 -8,4M530,301q6,-1 9,4M619,356q8,7 15,14M544,224q4,5 1,11M529,302q-3,4 -7,6M520,320q10,2 18,10M563,356q5,5 1,12M432,361q-2,10 -11,15M583,331q-8,0 -11,8M483,221q-7,3 -7,11M624,345q8,4 13,10M475,310q-5,2 -8,6M594,326q1,10 10,15M586,239q5,3 11,4M516,255q7,8 17,6M636,228q-1,9 -6,17M503,371q-5,2 -10,3M537,296q9,3 16,11M454,292q-5,1 -9,1M494,362q10,3 16,13M578,269q6,8 7,18M520,225q4,4 10,5M490,340q3,11 0,21M432,370q0,7 -7,8M628,302q-1,9 -6,16M453,346q2,9 -3,16M624,331q7,1 14,2M642,339q-6,1 -7,7M478,344q7,9 5,21M502,359q5,6 9,12M604,313q5,3 6,9M587,302q5,-1 10,1M547,306q4,6 4,13M454,266q2,9 11,14M541,243q8,1 13,8M455,247q-5,5 -11,1M521,320q3,4 5,8M529,321q2,8 -1,16M437,318q-1,8 -1,16M623,337q8,2 12,9M558,339q-4,9 -13,12M435,305q5,10 15,11M536,230q-8,-5 -17,0M633,282q2,11 10,18M537,277q0,5 3,9M460,289q6,2 11,6M457,307q8,6 9,15M500,239q-6,7 -16,7M527,298q-5,4 -10,0M454,225q-4,6 -7,12M510,253q7,7 14,14M572,219q3,5 1,11M464,371q5,2 5,8M473,363q-3,6 -4,13M627,362q0,8 -6,12M573,256q-7,-1 -7,6M573,336q1,11 10,19M529,299q4,3 6,8M555,253q-9,8 -20,9M453,225q-3,6 -9,8M553,300q5,10 5,21M543,279q-4,3 -10,4M423,347q1,10 7,19M527,315q5,7 14,6M422,221q4,7 12,9M616,265q0,5 -1,10M649,281q-9,-3 -17,2M461,284q-8,3 -11,11M630,310q-7,7 -18,8M636,271q2,4 6,7M503,307q8,6 10,16M597,229q-8,7 -18,10M545,337q-10,1 -21,1M509,223q9,6 15,16M622,333q-7,5 -7,14M539,229q-11,-3 -22,2M469,264q-5,4 -2,9M547,235q-2,6 -8,7M591,308q-2,7 2,14M639,237q-1,10 -7,18M476,247q-3,11 -14,16M516,333q3,5 2,11M526,234q8,3 17,6M458,313q2,5 7,7M450,246q2,9 -5,16M542,363q6,3 4,10M564,231q4,6 12,8M457,265q8,3 17,4M450,247q11,0 21,5M494,332q6,0 11,5M548,375q8,-1 17,1M534,344q9,7 20,9"/></defs>
<use href="#s4" fill="none" stroke="#404040" stroke-width="5.6" stroke-linecap="round" transform="translate(0.9,1.1)"/>
<use href="#s4" fill="none" stroke="#cccccc" stroke-width="5.6" stroke-linecap="round"/>
<use href="#s4" fill="none" stroke="#979797" stroke-width="4.1" stroke-linecap="round"/>
<defs><path id="s5" d="M583,317q-2,7 -7,13M443,260q-2,4 -6,5M625,303q-4,8 -1,16M599,237q-8,2 -14,8M600,329q7,-1 13,3M589,263q-10,1 -14,10M615,375q4,5 10,3M504,362q-8,3 -17,1M489,326q-3,3 -4,7M523,231q8,3 17,3M594,255q8,5 14,12M608,355q-4,10 -14,13M605,350q8,6 9,17M608,263q-5,5 -12,4M495,272q-8,5 -18,3M488,338q-1,5 -3,10M610,256q2,8 -4,14M438,249q1,4 3,8M536,317q-7,4 -9,12M431,227q3,5 -1,8M531,259q0,7 3,13M431,295q0,6 -2,11M436,288q-7,3 -13,6M491,224q-5,0 -10,2M628,237q-3,6 -9,4M533,319q0,8 -7,13M544,297q2,9 1,17M525,239q1,9 -2,17M584,270q-7,-4 -14,1M531,262q-9,-3 -17,2M549,333q9,6 12,16M585,361q5,5 9,12M417,335q9,5 18,9M528,317q-9,4 -17,10M437,270q-1,7 -8,9M469,239q8,-1 16,0M504,360q-3,4 -6,6M502,226q-7,-2 -13,1M463,235q-7,5 -6,13M631,354q4,4 2,9M565,259q-5,4 -12,4M620,313q-4,4 -6,9M513,346q-4,8 -5,16M604,304q1,8 1,17M501,272q3,8 8,16M503,315q5,-1 9,1M490,353q-8,4 -16,7M562,340q4,6 11,4M633,229q-5,1 -9,5M593,295q2,6 9,6M548,298q-2,8 -8,13M446,364q-3,4 -7,7M503,362q-5,7 -13,11M589,275q-6,7 -16,7M604,273q-5,2 -5,7M478,321q-5,7 -3,16M576,307q10,2 20,2M572,320q4,9 0,17M570,227q-3,10 -11,14M571,254q9,-4 17,2M502,288q7,-5 13,0M535,324q-7,7 -15,12M529,332q-1,6 -4,11M584,275q1,5 1,9M552,265q-6,2 -9,7M425,298q9,1 17,3M469,301q-4,5 -5,12M443,280q-4,5 -9,1M468,235q2,5 -2,9M577,369q7,6 10,15M462,335q-5,-3 -9,0M579,370q4,2 7,3M563,236q7,0 14,3M463,341q-7,5 -15,9M454,338q8,-2 12,5M487,312q7,5 4,13M547,376q-1,6 -8,6M594,281q-2,8 -7,15M616,287q-4,10 -15,13M593,305q-4,9 -6,18M564,254q-5,6 -13,5M502,340q9,3 16,10M582,339q7,-2 10,4M624,369q3,3 3,8M520,300q-2,7 -3,13M538,361q3,6 9,6M534,227q-4,8 -3,16M487,359q-3,5 -8,6M619,346q-8,5 -10,14M597,332q-2,6 3,8M438,245q-9,1 -17,7M570,305q4,4 5,10M527,316q-7,-3 -14,0M545,240q6,-1 10,4M511,244q-5,0 -10,0M461,357q-7,0 -13,2M568,346q-4,4 -1,9M425,326q7,2 11,9M631,362q9,4 18,5M530,229q7,6 16,6M459,361q1,8 1,17M555,225q-9,3 -14,12M629,319q-5,6 -11,10M620,251q-4,7 -2,15M621,267q4,6 5,13M622,319q6,7 15,9M602,252q-2,5 -2,11M497,356q6,8 4,17M479,255q-7,6 -4,15M554,280q-7,3 -11,9M618,278q-3,8 -12,9M537,326q-9,5 -18,1M627,226q9,-2 17,4M498,352q6,0 12,0M513,236q-2,4 -6,6M496,290q-4,3 -6,7M471,314q3,6 5,12M609,222q4,2 4,7M522,332q2,7 6,12M590,369q-6,6 -15,4M600,242q-6,-4 -11,1M497,347q8,0 12,7M509,261q-7,5 -6,14M520,333q8,6 7,15M555,355q7,0 11,7M496,377q-9,5 -18,4M501,326q6,-2 10,3M533,311q-5,4 -9,8M502,248q-1,9 5,16M634,319q-1,9 4,17M496,238q-3,8 -9,14M578,363q-4,4 -8,9M493,374q8,3 16,2M609,296q-3,4 -7,6M607,280q-3,7 -9,10M625,256q-6,7 -14,12M585,309q2,7 -2,12M435,370q-5,7 -12,11M424,222q4,4 8,8M482,360q4,5 6,11M473,234q5,6 8,14M627,333q-7,7 -8,17M585,285q6,7 9,16M549,308q2,9 -5,15M599,334q8,6 12,15M599,241q-6,2 -12,1M542,283q-4,8 -9,14M582,304q3,6 5,12M521,220q2,4 7,5M637,218q-4,4 -1,8M616,238q-6,4 -6,10M616,268q0,9 -5,15M586,236q0,9 5,15M605,242q-7,1 -14,5M522,246q-4,5 -1,10M610,351q-8,0 -15,2M549,367q-7,6 -15,10M541,231q5,8 12,14M430,272q1,5 4,9M534,229q7,0 14,1M600,307q-3,5 -6,11M514,276q-5,7 -7,15M446,366q7,7 16,9M507,344q-4,6 -6,13M565,312q0,8 1,16M450,319q6,4 12,2M579,280q-8,4 -16,0M583,376q5,2 7,6M630,217q8,3 10,10M425,279q0,7 5,11M518,275q-2,7 0,14M568,288q-10,0 -20,2M613,244q-9,3 -18,7M479,300q-1,8 -2,17M519,317q-6,7 -15,9M615,321q-4,5 -11,5M450,333q5,8 11,16M509,316q-9,2 -17,7M570,273q7,-2 13,2M463,319q8,-2 15,2M580,348q4,9 -2,16M526,376q2,6 7,7M591,350q6,3 13,1M620,305q7,1 11,5M539,339q5,4 1,9M540,295q7,2 10,10M625,370q-7,2 -14,2M506,275q3,4 4,8M583,265q-5,4 -9,9M557,283q1,5 3,10M608,280q4,5 9,1M563,344q1,9 -3,17M538,234q-7,2 -14,3M540,261q-9,2 -17,6M513,240q8,2 13,8M502,254q-6,6 -6,15M595,344q-5,4 -3,11M552,255q2,8 7,15M606,299q-1,7 1,13M629,293q-7,5 -9,13"/></defs>
<use href="#s5" fill="none" stroke="#404040" stroke-width="5.0" stroke-linecap="round" transform="translate(0.9,1.1)"/>
<use href="#s5" fill="none" stroke="#cccccc" stroke-width="5.0" stroke-linecap="round"/>
<use href="#s5" fill="none" stroke="#979797" stroke-width="3.5" stroke-linecap="round"/>
<defs><path id="s6" d="M442,309q4,-2 8,1M642,309q-3,7 -4,15M502,321q-1,5 -1,10M537,236q7,2 8,10M591,232q1,9 0,17M436,217q-3,7 -8,12M606,265q6,2 12,6M583,285q-3,5 0,10M545,261q7,5 16,6M519,301q5,2 7,7M542,333q2,3 4,6M637,295q2,7 -1,13M546,241q-7,3 -12,10M474,286q1,4 -2,8M606,303q0,5 -2,9M568,359q0,5 5,5M445,306q5,8 14,11M476,310q6,5 14,4M612,224q-6,3 -12,3M518,271q3,2 7,2M490,366q-6,6 -11,13M600,222q-9,0 -17,1M551,337q-1,3 -4,6M428,282q-1,9 -5,17M539,352q-4,3 -9,1M457,217q-4,7 -6,16M508,235q4,3 10,6M565,302q3,5 8,8M465,363q-3,6 -1,12M448,359q6,7 6,16M604,222q-3,8 -10,12M424,232q-2,8 3,14M449,366q8,5 10,15M601,320q8,1 13,8M489,357q-2,4 -6,4M493,303q-2,8 -3,17M587,326q2,9 9,14M635,332q-1,4 3,7M469,295q4,3 9,5M508,350q-3,2 -8,3M580,255q4,-1 8,1M479,319q-7,1 -13,4M548,259q1,4 -3,7M642,325q4,3 1,7M417,280q6,7 16,7M518,262q7,6 10,14M631,362q-6,5 -12,10M605,283q5,3 11,6M577,261q4,1 8,2M442,287q6,4 13,3M453,239q-6,4 -14,3M579,291q0,5 -2,9M514,355q-3,7 -11,7M625,256q7,-1 12,3M529,332q3,8 1,15M561,277q-5,1 -6,6M468,223q-4,7 -12,9M515,328q-2,6 -8,7M540,255q7,2 15,1M528,330q-4,1 -7,4M431,355q3,4 3,8M597,340q-2,4 -7,4M576,239q5,3 11,4M520,306q-6,7 -15,9M514,310q5,0 11,2M482,251q3,4 8,3M531,333q-7,3 -14,7M611,239q-1,5 -4,8M472,278q-5,2 -11,4M627,249q-6,7 -14,9M600,345q-7,3 -15,5M538,260q-6,0 -12,3M602,352q1,7 -2,14M548,319q4,4 8,0M442,346q-6,3 -12,7M552,254q-6,4 -13,4M634,259q-7,-1 -14,4M501,310q-8,-1 -16,1M622,298q5,4 10,10M511,372q-8,2 -17,3M634,319q3,4 1,9M539,367q5,4 4,11M527,321q6,7 8,15M629,232q-3,6 0,11M563,354q-8,4 -12,12M465,344q6,5 8,13M483,348q4,7 1,15M625,221q-4,1 -9,3M504,296q-4,6 -8,12M435,241q0,5 1,10M602,252q-4,1 -7,4M511,230q-4,3 -7,5M434,296q-2,6 -9,8M515,360q-3,7 -7,13M478,231q3,4 4,9M602,286q7,3 12,7M624,248q5,-3 8,2M456,231q0,5 2,9M607,310q-4,1 -7,4M611,341q-5,-2 -9,1M491,342q5,3 11,4M635,322q7,5 14,10M487,370q4,1 9,1M511,248q7,6 10,14M577,371q-2,7 -8,8M609,300q5,7 1,14M513,245q-3,3 -8,5M605,335q4,7 1,15M609,224q-6,0 -11,4M559,315q-7,5 -13,11M513,234q-7,4 -13,10M621,222q-5,3 -3,8M629,319q-2,4 -1,8M596,369q-2,8 -1,16M500,289q-1,7 5,12M492,323q-5,1 -10,0M559,362q1,8 -4,14M517,284q2,7 1,15M540,273q1,8 2,16M575,305q6,1 11,3M606,372q7,6 15,5M533,324q2,7 0,14M497,273q8,0 14,7M605,323q7,0 12,6M564,241q7,5 14,8M471,270q5,0 11,1M614,296q-4,4 -1,9M519,296q8,0 15,3M516,266q-5,5 -10,8M592,284q5,7 9,14M573,214q3,8 3,16M456,233q-6,3 -10,7M619,374q3,7 10,7M478,308q-5,0 -9,3M542,352q-4,6 -6,13M616,278q2,7 6,13M541,334q3,6 0,13M442,357q-6,1 -12,1M448,334q1,6 -4,10M619,245q1,5 3,11M627,354q0,6 4,10M504,252q-6,7 -12,12M466,296q3,5 7,9M460,257q3,6 4,13M578,232q-8,-2 -15,2M613,227q6,-1 10,3M466,222q-1,9 -5,16M480,218q-1,3 -3,7M498,291q-4,4 -7,9M523,219q-5,4 -12,5M500,337q-2,4 -2,8M591,358q6,6 14,9M557,283q-1,4 -2,7M580,311q0,5 -5,7M459,321q-8,4 -11,13M453,231q5,3 8,9M464,261q2,7 4,14M455,315q3,7 7,13M476,234q4,3 9,0M636,239q-4,7 -4,16M554,297q-1,6 4,10M483,239q8,5 11,14M492,346q-8,0 -15,5M647,272q-5,-2 -9,2M543,270q-5,-1 -9,1M557,246q-2,5 2,9M604,259q-3,3 -3,7M628,318q-2,5 -1,10M464,365q4,-2 9,0M591,307q2,4 5,9M595,372q5,6 13,6M595,333q8,2 16,1M531,370q-2,9 2,17M588,335q-1,7 -7,8M427,257q5,3 10,0M605,342q-7,4 -16,3M535,275q-2,5 -5,10M633,241q-3,3 -8,3M510,291q-8,1 -14,4M470,355q6,-2 10,3M602,303q4,5 9,2M594,337q5,3 9,7M573,319q-4,1 -7,3M555,322q-6,3 -13,2M581,311q-3,9 -9,15M510,361q-3,3 -6,5M431,348q2,4 5,8M504,353q-9,2 -17,4M596,266q0,6 0,12M464,358q5,6 6,13M455,294q-4,5 -10,3M468,320q-1,6 5,9M473,241q2,5 4,10M587,243q-5,0 -9,2M441,309q6,6 12,11M596,258q1,7 4,14M567,228q-4,6 -11,9M441,298q-2,7 2,12M445,317q-8,3 -13,9M474,251q-2,6 -9,7M439,358q-5,4 -4,10M439,280q5,7 14,9M580,275q-1,8 4,16M637,310q7,2 12,9M508,263q4,4 10,6M544,246q-5,3 -2,8M640,377q-5,5 -11,3M422,238q3,1 7,3M601,337q6,2 13,3M559,344q5,5 6,11M524,262q8,4 17,5M508,280q2,6 7,11M560,292q-3,5 -3,12M461,239q1,4 3,8M522,337q-4,6 -7,12M635,220q-1,7 5,11M491,279q5,7 4,15M474,297q1,6 -3,11M640,269q-5,4 -4,10M617,301q-3,8 -8,14"/></defs>
<use href="#s6" fill="none" stroke="#404040" stroke-width="4.4" stroke-linecap="round" transform="translate(0.9,1.1)"/>
<use href="#s6" fill="none" stroke="#cccccc" stroke-width="4.4" stroke-linecap="round"/>
<use href="#s6" fill="none" stroke="#979797" stroke-width="2.9000000000000004" stroke-linecap="round"/>
</g></g>
<rect x="393.4" y="370.4" width="26.6" height="1.7" fill="#111"/>
<g fill="#fff" style="font-family:'Liberation Sans',Arial,sans-serif">
<text x="4.6" y="254.8" font-size="22.8" textLength="25.2" lengthAdjust="spacingAndGlyphs">(c)</text>
<text x="226.4" y="254.8" font-size="22.8" textLength="25.2" lengthAdjust="spacingAndGlyphs">(d)</text>
<text x="442.9" y="254.8" font-size="22.8" textLength="25.2" lengthAdjust="spacingAndGlyphs">(e)</text>
<rect x="140" y="360.4" width="60.6" height="3.2"/>
<text x="149.6" y="353" font-size="15.6" textLength="40.6" lengthAdjust="spacing">9 μm</text>
<rect x="356.9" y="360.4" width="60.3" height="3.2"/>
<text x="366.5" y="353" font-size="15.6" textLength="40.6" lengthAdjust="spacing">9 μm</text>
<rect x="566.7" y="357.79999999999995" width="61.0" height="3.2"/>
<text x="576.8" y="350.4" font-size="15.6" textLength="40.6" lengthAdjust="spacing">9 μm</text>
</g>
<g fill="none" stroke-linejoin="round">
<path stroke="#f42222" stroke-width="1.4" d="M109,436.7 112.2,436.7 113.8,436.5 115.1,436.2 116.3,435.7 117.9,435 122.3,432.4 123.9,431.6 125.8,431.1 127.4,431.1 129,431.5 130.5,432.3 132.1,433.4 136.6,436.7 139.1,438.3 141.9,439.7 145.1,440.7"/>
<path stroke="#f42222" stroke-width="1.4" d="M210.5,447.4 212.4,447.4 214.3,447.2 215.9,446.9 217.2,446.5 218.4,446 220,445.1 224.8,441.8 226.3,440.8 227.3,440.4 228.2,440.2 229.8,440.2 231.4,440.7 233,441.8 234.6,443.3 239.3,448.5 240.9,449.9 242.1,450.8 243.4,451.6 245,452.3 246.9,452.9 248.8,453.2"/>
<path stroke="#2f7be0" stroke-width="1.4" d="M33.8,432.3 35.1,432.1 36.3,431.6 37.6,430.7 38.5,429.6 39.5,428.1 40.4,426.2 43.3,419.1 44.2,417 44.9,415.9 45.5,415.2 46.1,414.9 46.4,414.9 46.8,415 47.4,415.6 48.3,417.1 49.3,419.3 52.1,427.1 53.1,429.3 54,431 55,432.3 56.3,433.5 57.5,434.2 59.1,434.6"/>
<path stroke="#2f7be0" stroke-width="1.4" d="M72.7,435.1 76.8,434.8 80.3,434.2 83.8,433.1 89.4,430.7 91.7,429.9 93.9,429.4 96.1,429.3 98.3,429.7 100.5,430.5 102.7,431.5 108.1,434.5 111.6,436 115.1,437 119.2,437.7"/>
<path stroke="#2f7be0" stroke-width="1.4" d="M128,438.2 129,438 129.6,437.5 130.2,436.9 130.9,435.8 131.8,433.3 134,426 134.7,424.8 135,424.6 135.3,424.5 135.6,424.8 135.9,425.2 136.6,426.8 138.8,434.7 139.7,437.3 140.3,438.4 141,439.2 141.6,439.7 142.2,440"/>
<path stroke="#2f7be0" stroke-width="1.4" d="M138.4,439.3 140,439.2 141.3,438.7 142.2,437.8 143.2,436.4 143.8,435 144.8,432.5 148.2,420.3 149.2,418.2 149.8,417.6 150.1,417.5 150.5,417.7 151.1,418.5 152,420.9 153,424.4 155.5,434.8 156.5,437.9 157.1,439.6 158,441.5 159,442.8 160.3,443.8 161.8,444.4"/>
<path stroke="#2f7be0" stroke-width="1.4" d="M181.1,445.2 183.7,445 185.6,444.8 187.5,444.4 189,443.9 190.6,443.2 192.2,442.3 197.3,438.8 199.1,437.6 201,436.9 202,436.7 202.9,436.7 203.9,436.8 204.8,437.1 206.7,438.1 208.6,439.5 214,444.2 215.6,445.4 217.2,446.3 218.7,447.1 220.6,447.8 222.5,448.3 225.1,448.9"/>
<path stroke="#2f7be0" stroke-width="1.4" d="M229.8,449.5 231.1,449.3 232,448.9 233,448 233.6,447 234.2,445.7 235.2,443 238,433.2 238.7,431.8 239,431.3 239.3,431 239.6,431 239.9,431.1 240.2,431.4 240.6,431.9 241.2,433.5 242.1,436.8 244.4,445.6 245.6,449.3 246.6,451.1 247.5,452.2 248.5,452.9 249.7,453.3"/>
<path stroke="#eaa93a" stroke-width="1.5" d="M16.1,432.3 30,432.4 40.1,432.6 44.6,433 54.7,434.3 59.1,434.7 67.9,435.1 90.1,435.7 100.2,436.1 104.6,436.4 115.4,437.5 131.8,438.7 136.6,439.2 141,440 150.5,442.1 156.5,443.8 159.3,444.3 166.3,444.8 181.4,445.3 188.4,445.7 199.5,446.6 215.3,448 224.1,448.9 230.8,449.8 233.9,450.5 241.2,452.3 244.7,453 252.9,453.7 268.7,454.7"/>
<path stroke="#262626" stroke-width="1.7" d="M16.1,424.7 31.6,424.7 33.8,424.5 34.8,424.2 35.7,423.8 36.6,423.2 37.3,422.6 38.5,421 40.1,418.3 43,412.1 43.9,410.3 44.6,409.4 45.2,408.7 45.8,408.3 46.1,408.2 46.8,408.3 47.4,408.8 48,409.5 48.7,410.5 49.6,412.5 52.8,420 54,422.4 55,423.9 55.9,425 57.2,426 58.8,426.7 60.4,427.1 64.2,427.4 70.5,427.5 74.6,427.4 77.7,427 80.3,426.5 82.8,425.8 89.4,423 91.3,422.3 93.2,421.8 95.1,421.6 97.3,421.8 99.6,422.4 101.8,423.3 106.5,425.5 109.4,426.5 110.9,426.8 112.2,426.8 113.5,426.7 114.7,426.5 117,425.8 122.6,423.4 127.1,422.2 128.3,421.5 129.3,420.5 130.2,419 131.2,416.9 133.1,412.1 133.7,410.9 134.3,410.1 134.7,410 135,409.9 135.6,410.4 136.6,412.2 138.8,418.9 139.7,421.3 140.7,422.8 141,423.1 141.6,423.2 141.9,423.1 142.6,422.5 143.5,420.9 144.5,418.6 147,411.4 148.2,408.6 149.2,407.3 149.8,407 150.1,407 150.8,407.4 151.4,408.2 152,409.5 152.7,411.2 153.6,414.2 156.8,425.6 158,429.3 159,431.6 159.9,433.3 161.2,434.9 162.5,435.9 163.7,436.5 165,436.9 166.9,437.1 173.5,437.4 179.2,437.2 183.3,436.7 186.2,435.9 189,434.7 191.2,433.6 196.3,430.6 198.2,429.6 200.1,428.9 202,428.6 203.9,428.7 205.8,429.1 207.7,429.9 213.4,432.7 215.3,433.3 216.9,433.5 218.4,433.6 220,433.3 225.7,431.8 229.5,431.1 230.4,430.8 231.4,430.2 232.3,429.3 233,428.4 233.6,427.3 234.6,425.3 237.4,418.1 238.4,416.7 239,416.3 239.3,416.3 239.6,416.5 240.2,417.3 240.9,418.7 241.5,420.6 244.7,433.4 246.3,438.7 247.5,441.7 248.2,442.7 249.1,443.9 250,444.7 251,445.2 252.3,445.6 253.8,445.9 259.5,446.5 268.7,447.1"/>
<path stroke="#f42222" stroke-width="1.4" d="M101.8,488.7 104.9,488.7 107.5,488.4 110,487.9 116.3,486.3 118.2,486.1 119.8,486.1 121.4,486.4 123.3,486.8 129.3,489.1 131.8,489.9 134.3,490.5 137.2,491"/>
<path stroke="#f42222" stroke-width="1.4" d="M202.9,496.3 206.7,496.2 209.9,495.8 212.7,495.1 219.4,492.7 221.3,492.4 223.2,492.4 225.1,492.7 227.3,493.5 233.9,497.1 237.1,498.6 240.2,499.6 243.7,500.3"/>
<path stroke="#2f7be0" stroke-width="1.4" d="M31.3,486.1 32.5,485.9 33.5,485.5 34.4,485 35.4,484.3 36.3,483.3 37.3,482 39.8,477.7 40.8,476.4 41.7,475.4 42.7,475 43.6,475.3 44.2,475.8 44.9,476.5 45.8,478 48.3,482.4 49.3,483.7 50.2,484.8 51.2,485.6 52.1,486.2 53.1,486.5 54.4,486.8"/>
<path stroke="#2f7be0" stroke-width="1.4" d="M67.6,487.3 71.7,487.2 75.2,486.8 79,486 87.2,484 89.8,483.6 92,483.6 94.5,483.9 97,484.5 105.6,487.6 109,488.6 112.5,489.3 116.3,489.8"/>
<path stroke="#2f7be0" stroke-width="1.4" d="M120.7,490 122,489.8 123,489.5 124.5,488.6 126.1,486.9 128.6,483.2 129.6,482.1 130.5,481.3 131.5,481.1 132.4,481.5 133.4,482.5 136.6,487.5 138.1,489.4 139.7,490.6 140.7,491.1 141.9,491.5"/>
<path stroke="#2f7be0" stroke-width="1.4" d="M132.1,490.6 134,490.4 135.3,490 136.6,489.2 137.5,488.3 138.4,487.2 139.4,485.7 142.6,479.7 143.5,478.1 144.1,477.3 144.8,476.8 145.4,476.5 145.7,476.5 146,476.6 146.7,476.9 147.3,477.6 147.9,478.5 149.2,481 152.4,488 153.3,489.8 154.3,491.2 155.2,492.3 156.5,493.3 157.7,494 159.3,494.4"/>
<path stroke="#2f7be0" stroke-width="1.4" d="M177.7,494.8 181.8,494.4 184.9,493.7 187.8,492.4 192.8,489.5 194.4,488.8 196.3,488.2 198.2,488 200.1,488.5 202,489.4 203.6,490.4 208.3,493.9 211.5,495.7 214.6,496.9 218.7,497.8"/>
<path stroke="#2f7be0" stroke-width="1.4" d="M223.8,498.3 225.1,498.1 226.3,497.7 227.3,497.1 228.2,496.2 228.9,495.3 229.8,493.7 232.3,488.4 233.3,486.6 234.2,485.5 234.9,485.1 235.2,485.1 235.5,485.2 236.1,485.7 237.1,487 238,488.9 240.6,494.8 242.1,497.6 243.1,498.7 244,499.5 245.3,500.2 246.6,500.6"/>
<path stroke="#eaa93a" stroke-width="1.5" d="M16.1,485.8 47.7,486.8 87.5,488.2 101.1,488.9 115.1,489.9 130.5,490.6 137.8,491.2 145.4,492.1 148.2,492.5 155.5,494.1 159,494.5 180.8,495 192.8,495.6 209.3,497 232,499.2 247.8,500.8 258.9,501.6 268.7,502"/>
<path stroke="#262626" stroke-width="1.7" d="M16.1,478 27.5,478.2 29.7,478 31.6,477.6 33.5,476.6 35.1,475.2 36.3,473.8 39.2,470.1 40.4,468.7 41.7,467.8 42.7,467.6 43.3,467.7 43.9,467.9 45.2,468.9 46.4,470.4 49.9,475 51.8,476.9 52.8,477.6 54,478.3 55.3,478.7 56.6,479 59.1,479.3 62.6,479.4 66.7,479.3 70.5,479.1 75.9,478.4 86,476.5 88.5,476.2 90.7,476.1 93.2,476.2 96.1,476.6 98.6,477.2 104,478.6 106.2,479.1 108.4,479.3 110.6,479.3 112.5,479 120.1,477.6 122.3,477 123.6,476.3 124.9,475.4 129,471.6 129.9,470.9 130.9,470.6 131.8,470.6 132.8,470.8 135.6,472.4 136.6,472.7 137.5,472.9 138.4,472.7 139.1,472.4 140,471.8 143.5,468.5 144.5,467.9 145.4,467.7 146,467.9 147,468.4 147.6,469 148.6,470.3 149.8,472.4 153.6,479.7 154.9,481.7 156.2,483.4 157.1,484.4 158.4,485.4 159.6,486 161.2,486.5 164.4,486.8 169.7,487 175.1,486.8 179.2,486.4 182.1,485.9 184.6,485.1 191.6,482.3 193.8,481.6 195.7,481.1 197.6,480.9 199.5,481 201.4,481.3 208.3,483.5 211.8,484.2 213.7,484.4 216.2,484.4 220.3,484.1 222.5,483.9 224.8,483.3 225.7,482.8 226.7,482.1 228.2,480.6 231.4,476.6 232.3,475.6 233.6,474.7 234.6,474.6 235.2,474.8 235.8,475.2 237.1,476.6 238.4,478.7 241.5,485.1 243.1,487.9 244,489.2 245,490.3 245.9,491.1 246.9,491.7 247.8,492.2 249.1,492.7 250.7,493 252.6,493.3 259.5,493.8 268.7,494.2"/>
<path stroke="#f42222" stroke-width="1.4" d="M104,544.2 107.8,544.1 110.9,543.6 114.1,542.8 119.5,540.8 121.4,540.2 123.6,539.8 125.5,539.8 127.4,540.1 129.6,540.9 136.9,544.6 140,546 143.2,546.9 147.3,547.8"/>
<path stroke="#f42222" stroke-width="1.4" d="M206.7,554.1 209.3,554.1 211.2,553.9 213.1,553.6 214.6,553.1 216.2,552.5 217.8,551.6 222.9,548.4 224.8,547.3 226.7,546.7 227.6,546.6 228.5,546.6 229.5,546.8 230.4,547.2 232.3,548.3 234.2,549.8 239.3,554.3 241.2,555.8 242.8,556.8 244.4,557.6 246.3,558.3 248.2,558.8 250.4,559.3"/>
<path stroke="#2f7be0" stroke-width="1.4" d="M31.3,541.7 32.5,541.5 33.8,541.1 34.8,540.4 35.7,539.5 36.6,538.3 37.6,536.6 40.4,530.4 41.4,528.6 42.3,527.5 43,527.1 43.3,527.1 43.6,527.1 44.2,527.5 45.2,528.8 46.1,530.6 49,537 49.9,538.8 50.9,540.1 51.8,541.1 52.8,541.8 54,542.4 55.3,542.7"/>
<path stroke="#2f7be0" stroke-width="1.4" d="M68.3,543.1 73,542.9 76.8,542.3 80.6,541.4 87.2,539.2 89.4,538.5 92,538.1 94.5,538 97,538.3 99.6,539 108.1,542.4 111.9,543.6 115.7,544.5 120.4,545.3"/>
<path stroke="#2f7be0" stroke-width="1.4" d="M123,545.5 124.5,545.2 125.5,544.7 126.1,544.2 127.4,542.6 129.6,538.7 130.5,537.3 131.5,536.6 132.1,536.5 132.8,536.8 133.7,538 136.6,543.3 137.8,545.1 138.4,545.8 139.4,546.5 141,547.1"/>
<path stroke="#2f7be0" stroke-width="1.4" d="M131.8,546.4 133.7,546.2 135.3,545.7 136.6,544.9 137.8,543.6 138.8,542.3 140,540.1 143.2,533.2 144.5,530.8 145.1,529.8 145.7,529.1 146.4,528.6 147,528.5 147.6,528.7 148.2,529.2 148.9,529.9 149.8,531.6 151.1,534.4 154.6,543.1 155.8,545.6 156.8,547.1 158,548.7 159.3,549.7 160.6,550.4 162.5,550.9"/>
<path stroke="#2f7be0" stroke-width="1.4" d="M175.1,551.7 178,551.7 180.5,551.5 182.4,551.2 184.3,550.8 186.2,550.2 188.1,549.4 194.1,546.2 196.3,545.2 197.6,544.8 198.8,544.5 201,544.4 203.3,544.9 205.5,545.9 207.7,547.3 213.7,551.4 215.6,552.6 217.5,553.5 219.4,554.3 221.6,554.9 223.8,555.5 226.7,556"/>
<path stroke="#2f7be0" stroke-width="1.4" d="M227.3,556 228.2,555.9 229.2,555.5 230.1,554.7 230.8,553.9 232,551.6 234.2,545.9 235.2,543.8 235.8,542.9 236.1,542.6 236.5,542.4 236.8,542.5 237.4,542.9 238.4,544.6 241.2,552.6 242.1,554.8 242.8,555.9 243.4,556.9 244.4,557.8 245.3,558.4 246.3,558.8"/>
<path stroke="#eaa93a" stroke-width="1.5" d="M16.1,541.2 56.3,542.9 99.6,544.2 108.4,544.6 116.6,545.1 130.9,546.5 142.9,547.5 148.6,548.1 151.7,548.6 158.4,550.5 161.5,551 190.9,553 216.5,555.1 231.7,556.7 244.7,558.7 249.4,559.3 259.8,560.3 268.7,560.9"/>
<path stroke="#262626" stroke-width="1.7" d="M16.1,533.4 24.3,533.8 27.5,533.8 30,533.5 31.9,532.8 32.9,532.2 33.8,531.4 35.4,529.5 36.6,527.6 39.5,522.8 40.8,521 42,519.8 42.7,519.5 43.3,519.4 43.9,519.5 44.6,519.9 45.8,521.2 47.1,523.1 50.6,529.2 51.8,531 52.8,532.1 53.7,533 55,533.9 56.3,534.5 57.5,534.8 60.7,535.2 66.7,535.5 71.7,535.4 75.9,535.1 78.4,534.7 80.9,534.1 88.2,531.5 90.1,530.9 92,530.6 93.9,530.4 96.1,530.6 98.3,531.2 100.5,532 105.3,533.9 107.8,534.7 110.3,535.2 112.8,535.1 115.1,534.7 117.9,533.9 122,532.3 123.9,531.3 125.2,530.2 126.1,529.2 129.9,523.7 130.9,522.8 131.5,522.6 131.8,522.6 132.4,522.8 133.4,523.5 135.9,527 136.9,528 137.5,528.4 138.1,528.6 139.1,528.4 139.7,527.9 140.7,526.9 143.5,522.7 144.8,521.1 145.4,520.5 146,520.1 147,520 147.6,520.2 148.6,520.8 149.2,521.6 150.1,523 151.7,526.1 155.5,534.8 156.8,537.2 158,539.1 159.3,540.6 160.6,541.7 162.2,542.5 163.7,543.1 165.3,543.4 167.5,543.7 174.8,544.1 180.2,544.1 183.7,543.8 186.2,543.2 188.7,542.1 190.9,540.9 195,538.4 196.9,537.5 198.8,536.8 200.4,536.6 202,536.8 203.9,537.4 205.5,538.1 209.6,540.4 211.8,541.3 213.1,541.6 214,541.7 215,541.7 216.2,541.5 218.7,540.6 224.1,537.9 225.7,537.3 228.5,536.4 229.8,535.8 230.8,534.9 231.7,533.7 233.9,529.8 234.9,528.4 235.5,527.8 236.1,527.7 236.8,528.1 237.1,528.5 238,530.4 239,533.2 241.5,541.7 242.8,545 243.4,546.2 244.4,547.7 245,548.4 245.9,549.3 247.2,550.1 248.8,550.7 250.7,551.3 253.2,551.8 259.5,552.6 268.7,553.2"/>
</g>
<g stroke="#6a6a6a" stroke-width="1" fill="none">
<path d="M16.1,566.1H268.7"/>
<path d="M30.3,566.1v3M58.5,566.1v3M86.6,566.1v3M114.8,566.1v3M142.9,566.1v3M171.1,566.1v3M199.2,566.1v3M227.3,566.1v3M255.5,566.1v3M16.2,566.1v1.6M44.4,566.1v1.6M72.5,566.1v1.6M100.7,566.1v1.6M128.8,566.1v1.6M157,566.1v1.6M185.1,566.1v1.6M213.3,566.1v1.6M241.4,566.1v1.6"/></g>
<path stroke="#2f7be0" stroke-width="1.6" d="M275.9,386.4H295.7"/><path stroke="#f42222" stroke-width="1.6" d="M275.9,398.1H295.7"/>
<g style="font-family:'Liberation Sans',Arial,sans-serif">
<text x="30.3" y="577.1" font-size="7" font-weight="bold" text-anchor="middle" fill="#222" stroke="#222" stroke-width="0.18">920</text>
<text x="58.5" y="577.1" font-size="7" font-weight="bold" text-anchor="middle" fill="#222" stroke="#222" stroke-width="0.18">915</text>
<text x="86.6" y="577.1" font-size="7" font-weight="bold" text-anchor="middle" fill="#222" stroke="#222" stroke-width="0.18">910</text>
<text x="114.8" y="577.1" font-size="7" font-weight="bold" text-anchor="middle" fill="#222" stroke="#222" stroke-width="0.18">905</text>
<text x="142.9" y="577.1" font-size="7" font-weight="bold" text-anchor="middle" fill="#222" stroke="#222" stroke-width="0.18">900</text>
<text x="171.1" y="577.1" font-size="7" font-weight="bold" text-anchor="middle" fill="#222" stroke="#222" stroke-width="0.18">895</text>
<text x="199.2" y="577.1" font-size="7" font-weight="bold" text-anchor="middle" fill="#222" stroke="#222" stroke-width="0.18">890</text>
<text x="227.3" y="577.1" font-size="7" font-weight="bold" text-anchor="middle" fill="#222" stroke="#222" stroke-width="0.18">885</text>
<text x="255.5" y="577.1" font-size="7" font-weight="bold" text-anchor="middle" fill="#222" stroke="#222" stroke-width="0.18">880</text>
<text x="138.7" y="589.2" font-size="8.6" font-weight="bold" text-anchor="middle" fill="#1a1a1a" textLength="81.3" lengthAdjust="spacingAndGlyphs" stroke="#1a1a1a" stroke-width="0.18">Binding Energy (eV)</text>
<text x="10.2" y="476.6" font-size="8.6" font-weight="bold" text-anchor="middle" fill="#1a1a1a" transform="rotate(-90 10.2 476.6)" textLength="57.7" lengthAdjust="spacingAndGlyphs" stroke="#1a1a1a" stroke-width="0.18">Intensity (a.u.)</text>
<text x="297.9" y="389.8" font-size="8.8" fill="#1e1e1e">Ce<tspan font-size="5.6" dy="-3.8">4+</tspan></text>
<text x="297.9" y="401.2" font-size="8.8" fill="#1e1e1e">Ce<tspan font-size="5.6" dy="-3.8">3+</tspan></text>
<text x="35.9" y="403.1" font-size="8.4" fill="#222">Ce3d<tspan font-size="5.8" dy="2">3/2</tspan></text>
<text x="130.7" y="401" font-size="8.4" fill="#222">Ce3d<tspan font-size="5.8" dy="2">3/2</tspan></text>
<text x="215.6" y="410.5" font-size="8.4" fill="#222">Ce3d<tspan font-size="5.8" dy="2">5/2</tspan></text>
<text x="271.6" y="442.9" font-size="8.4" font-weight="bold" fill="#1a1a1a" textLength="31" lengthAdjust="spacingAndGlyphs" stroke="#1a1a1a" stroke-width="0.18">T = 65°C</text>
<text x="271.6" y="454.2" font-size="8.4" font-weight="bold" fill="#1a1a1a" textLength="44.2" lengthAdjust="spacingAndGlyphs" stroke="#1a1a1a" stroke-width="0.18">pH 5.5 - 6.0</text>
<text x="271.6" y="490" font-size="8.4" font-weight="bold" fill="#1a1a1a" textLength="31" lengthAdjust="spacingAndGlyphs" stroke="#1a1a1a" stroke-width="0.18">T = 55°C</text>
<text x="271.6" y="500.7" font-size="8.4" font-weight="bold" fill="#1a1a1a" textLength="44.2" lengthAdjust="spacingAndGlyphs" stroke="#1a1a1a" stroke-width="0.18">pH 5.5 - 6.0</text>
<text x="271.6" y="548.7" font-size="8.4" font-weight="bold" fill="#1a1a1a" textLength="31" lengthAdjust="spacingAndGlyphs" stroke="#1a1a1a" stroke-width="0.18">T = 45°C</text>
<text x="271.6" y="559.3" font-size="8.4" font-weight="bold" fill="#1a1a1a" textLength="44.2" lengthAdjust="spacingAndGlyphs" stroke="#1a1a1a" stroke-width="0.18">pH 5.5 - 6.0</text>
<text x="5.6" y="407" font-size="23.4" fill="#111" textLength="25" lengthAdjust="spacingAndGlyphs" stroke="#111" stroke-width="0.25">(f)</text>
</g>
<g fill="none" stroke-linejoin="round">
<path stroke="#2aa82a" stroke-width="1.4" d="M386.7,447.9 394,447.7 400,447.3 405.7,446.8 410.9,446 415.3,445.1 420.2,443.9 435.1,439.3 440.3,437.9 443.2,437.4 446,436.9 448.8,436.7 451.2,436.6 454.1,436.7 456.9,437 459.7,437.5 462.5,438.1 467.8,439.6 482.3,444.2 487.1,445.5 491.9,446.5 497.2,447.3 502.8,447.9 508.9,448.4 516.1,448.6"/>
<path stroke="#f42222" stroke-width="1.4" d="M433.1,448.2 441.6,448 448.8,447.7 455.7,447.2 461.7,446.6 467.4,445.8 473.4,444.7 491.1,440.9 497.6,439.7 501.2,439.2 504.8,438.8 508.1,438.6 511.3,438.6 514.5,438.6 517.8,438.9 521.4,439.3 525,439.9 531.5,441.1 549.2,445.1 554.8,446.2 560.5,447.1 566.5,447.8 572.6,448.3 579.4,448.7 587.5,449"/>
<path stroke="#2f7be0" stroke-width="1.4" d="M499.6,448.5 504.8,448.1 506.9,447.8 508.9,447.3 510.5,446.8 512.1,446.1 513.7,445.3 515.3,444.2 518.2,441.9 521,438.9 523.4,435.8 529.4,427.5 532.3,424.2 533.9,422.7 535.5,421.7 537.1,421.1 538.3,421 539.5,421.2 541.1,421.9 542.7,423 544.4,424.5 547.2,427.9 552.8,435.7 555.2,438.8 558.1,441.9 560.9,444.4 562.5,445.5 564.1,446.4 565.7,447.1 567.3,447.6 569.4,448.1 571.4,448.5 576.6,449"/>
<path stroke="#eaa93a" stroke-width="1.4" stroke-opacity="1" d="M346,447.8 587.5,449.2"/>
<path stroke="#1e1e1e" stroke-width="1.7" d="M346,441.8 373.8,441.9 386.7,441.9 396.8,441.6 404.9,440.9 411.7,439.9 418.6,438.3 424.6,436.6 436.7,432.7 442,431.2 446.8,430.3 451.6,429.7 455.7,429.6 460.1,429.9 464.5,430.4 477,432 481.1,432.4 485.1,432.6 490.3,432.6 496,432.4 501.6,432 505.7,431.5 508.9,430.8 511.7,429.8 514.1,428.7 516.5,427.2 519,425.2 521.4,422.8 528.6,414.2 531.5,411.3 533.1,410 534.3,409.3 535.9,408.7 537.1,408.6 538.7,408.9 540.3,409.7 541.9,411 543.6,412.7 546.4,416.4 552.8,426.6 556.1,431.2 557.7,433.2 559.3,435 560.9,436.5 562.9,438.1 564.9,439.3 566.9,440.3 569.4,441.1 571.8,441.7 574.6,442.2 577.8,442.5 587.5,443"/>
<path stroke="#2aa82a" stroke-width="1.4" d="M375,498.5 382.7,498.3 388.7,497.9 394.4,497.3 399.6,496.4 404.5,495.2 409.3,493.8 413.7,492.2 423.8,488.5 429.1,486.8 431.9,486.1 434.7,485.6 437.5,485.3 439.9,485.2 442.4,485.3 445.2,485.6 448,486.2 450.8,486.9 456.1,488.7 466.1,492.6 470.6,494.1 475.4,495.6 480.3,496.8 485.5,497.8 491.1,498.5 497.2,498.9 504.8,499.2"/>
<path stroke="#f42222" stroke-width="1.4" d="M435.1,498.8 443.6,498.6 450.8,498.2 458.5,497.6 475.8,495.8 481.1,495.4 485.9,495.4 490.7,495.5 496,495.9 513.7,497.9 521,498.6 528.2,499.1 536.7,499.4"/>
<path stroke="#2f7be0" stroke-width="1.4" d="M477.8,499 483.9,498.7 488.3,498 490.3,497.5 492.4,496.9 494.4,496.1 496.4,495.1 499.6,493 503.2,490 506.5,486.8 512.9,480 514.9,478.1 516.5,476.7 518.6,475.3 520.2,474.5 522.2,473.9 523.8,473.8 525.4,473.9 527.4,474.6 529,475.5 531.1,476.9 534.3,479.9 541.1,487.2 544.4,490.4 548,493.4 551.2,495.5 552.8,496.3 554.8,497.1 556.9,497.8 558.9,498.3 563.7,499.1 569.8,499.6"/>
<path stroke="#eaa93a" stroke-width="1.4" stroke-opacity="1" d="M346,498.5 587.5,499.8"/>
<path stroke="#777777" stroke-width="1.7" d="M346,489 367.4,489.1 378.7,488.9 387.5,488.5 394.8,487.7 401.2,486.5 407.3,484.9 412.9,483 424.6,478.6 429.9,477 434.7,475.9 437.1,475.6 439.5,475.4 442,475.4 444.4,475.6 446.8,475.9 449.6,476.3 454.5,477.5 467.8,481.1 472.2,482 476.2,482.8 480.3,483.3 483.9,483.6 487.1,483.6 490.3,483.3 492.8,482.9 495.2,482.2 497.6,481.2 500,479.8 502.4,478.2 504.8,476.3 512.9,468.9 516.1,466.2 518.2,465 519.8,464.2 521.4,463.7 523,463.6 524.6,463.7 526.6,464.3 528.2,465.1 530.2,466.5 531.9,467.8 533.9,469.8 541.5,478 545.6,481.9 547.6,483.6 549.6,485 551.6,486.2 554,487.3 556.5,488.2 558.9,488.8 561.7,489.4 564.9,489.7 572.6,490.1 587.5,490.3"/>
<path stroke="#2aa82a" stroke-width="1.4" d="M346,558.1 371.4,558.2 382.7,558.1 387.5,557.9 391.6,557.6 395.2,557.1 398.4,556.6 401.6,555.8 404.5,555 407.3,554 410.5,552.7 415.7,550.1 426.2,544.1 428.7,542.9 431.1,541.8 433.5,541 435.5,540.4 437.9,540.1 439.9,540 442.4,540.1 444.8,540.6 447.2,541.3 449.6,542.2 454.5,544.6 466.1,551.3 469.8,553.1 473,554.5 476.2,555.6 479.4,556.5 482.7,557.2 486.3,557.8 489.9,558.2 494.4,558.5 505.3,558.8 587.5,559.3"/>
<path stroke="#f42222" stroke-width="1.4" d="M435.5,558.4 444,558.2 451.6,557.7 459.3,557.1 477,555 482.3,554.7 487.1,554.6 491.9,554.8 497.2,555.2 514.5,557.3 522.2,558.1 529.8,558.6 538.3,558.9"/>
<path stroke="#2f7be0" stroke-width="1.4" d="M476.6,558.6 483.1,558.2 485.9,557.9 488.3,557.4 490.7,556.8 492.8,556.2 494.8,555.3 496.8,554.3 498.8,553 500.4,551.8 504,548.7 507.3,545.4 514.5,537.4 516.5,535.4 518.2,533.9 520.2,532.4 522.2,531.4 524.2,530.7 525.8,530.6 527.4,530.8 529.4,531.4 531.5,532.5 533.5,534 535.1,535.5 537.1,537.5 544.4,545.6 547.6,548.9 551.2,552.1 552.8,553.3 554.8,554.6 556.9,555.6 558.9,556.5 560.9,557.2 563.3,557.8 565.7,558.3 568.6,558.7 575,559.1"/>
<path stroke="#eaa93a" stroke-width="1.4" stroke-opacity="0.6" d="M346,558.1 587.5,559.3"/>
<path stroke="#1e1e1e" stroke-width="1.7" d="M346,549 371.4,549.1 382.7,549 387.5,548.8 391.6,548.5 395.2,548 398.4,547.5 401.6,546.7 404.5,545.9 407.3,544.9 410.5,543.6 415.7,541 426.6,534.8 431.1,532.6 433.5,531.8 435.5,531.2 437.5,530.8 439.5,530.6 441.6,530.6 444,530.9 446.4,531.4 448.8,532.1 453.2,533.9 461.7,537.9 465.3,539.5 469.4,541 473.4,542.1 477.4,542.9 481.9,543.4 485.9,543.5 489.9,543.2 492.8,542.6 495.2,541.8 498,540.6 500.4,539.2 502.8,537.6 505.7,535.2 514.5,526.6 516.5,524.8 518.2,523.6 520.2,522.3 521.8,521.5 523.8,521 525.4,520.8 527,521 529,521.7 530.7,522.5 532.7,524 534.3,525.4 536.3,527.4 544.8,536.9 548.4,540.6 550.4,542.3 552.4,543.9 554.4,545.2 556.9,546.5 559.3,547.5 561.7,548.3 564.5,549 567.7,549.5 571,549.8 575,550 587.5,550.2"/>
</g>
<g stroke="#6a6a6a" stroke-width="1" fill="none">
<path d="M346,564.2H588.1"/>
<path d="M372.9,564.2v3M426.7,564.2v3M480.5,564.2v3M534.3,564.2v3M588.1,564.2v3M346,564.2v1.6M399.8,564.2v1.6M453.6,564.2v1.6M507.4,564.2v1.6M561.2,564.2v1.6"/></g>
<path stroke="#2f7be0" stroke-width="1.6" d="M564.6,388.7H583.6"/>
<path stroke="#f42222" stroke-width="1.6" d="M564.6,400H583.6"/>
<path stroke="#2aa82a" stroke-width="1.6" d="M564.6,410.6H583.6"/>
<g style="font-family:'Liberation Sans',Arial,sans-serif">
<text x="372.9" y="575.2" font-size="7" font-weight="bold" text-anchor="middle" fill="#222" stroke="#222" stroke-width="0.18">536</text>
<text x="426.7" y="575.2" font-size="7" font-weight="bold" text-anchor="middle" fill="#222" stroke="#222" stroke-width="0.18">534</text>
<text x="480.5" y="575.2" font-size="7" font-weight="bold" text-anchor="middle" fill="#222" stroke="#222" stroke-width="0.18">532</text>
<text x="534.3" y="575.2" font-size="7" font-weight="bold" text-anchor="middle" fill="#222" stroke="#222" stroke-width="0.18">530</text>
<text x="588.1" y="575.2" font-size="7" font-weight="bold" text-anchor="middle" fill="#222" stroke="#222" stroke-width="0.18">528</text>
<text x="462.9" y="587.2" font-size="8.3" font-weight="bold" text-anchor="middle" fill="#1a1a1a" textLength="77.6" lengthAdjust="spacingAndGlyphs" stroke="#1a1a1a" stroke-width="0.18">Binding Energy (eV)</text>
<text x="338.8" y="477.8" font-size="8.6" font-weight="bold" text-anchor="middle" fill="#1a1a1a" transform="rotate(-90 338.8 477.8)" textLength="57.9" lengthAdjust="spacingAndGlyphs" stroke="#1a1a1a" stroke-width="0.18">Intensity (a.u.)</text>
<text x="585.6" y="392.3" font-size="8.5" fill="#1e1e1e">O - Ce<tspan font-size="5.4" dy="-3.6">4+</tspan></text>
<text x="585.6" y="403.4" font-size="8.5" fill="#1e1e1e">O - Ce<tspan font-size="5.4" dy="-3.6">3+</tspan></text>
<text x="585.6" y="413.8" font-size="8.5" fill="#1e1e1e" textLength="46" lengthAdjust="spacingAndGlyphs">O - H<tspan font-size="5.4" dy="2">2</tspan><tspan dy="-2">O/-OH</tspan></text>
<text x="589.3" y="437.6" font-size="8.4" font-weight="bold" fill="#1a1a1a" textLength="31.6" lengthAdjust="spacingAndGlyphs" stroke="#1a1a1a" stroke-width="0.18">T = 65°C</text>
<text x="589.3" y="447.8" font-size="8.4" font-weight="bold" fill="#1a1a1a" textLength="44.2" lengthAdjust="spacingAndGlyphs" stroke="#1a1a1a" stroke-width="0.18">pH 5.5 - 6.0</text>
<text x="589.3" y="489.3" font-size="8.4" font-weight="bold" fill="#1a1a1a" textLength="31.6" lengthAdjust="spacingAndGlyphs" stroke="#1a1a1a" stroke-width="0.18">T = 55°C</text>
<text x="589.3" y="500.4" font-size="8.4" font-weight="bold" fill="#1a1a1a" textLength="44.2" lengthAdjust="spacingAndGlyphs" stroke="#1a1a1a" stroke-width="0.18">pH 5.5 - 6.0</text>
<text x="589.3" y="548.8" font-size="8.4" font-weight="bold" fill="#1a1a1a" textLength="31.6" lengthAdjust="spacingAndGlyphs" stroke="#1a1a1a" stroke-width="0.18">T = 45°C</text>
<text x="589.3" y="559.9" font-size="8.4" font-weight="bold" fill="#1a1a1a" textLength="44.2" lengthAdjust="spacingAndGlyphs" stroke="#1a1a1a" stroke-width="0.18">pH 5.5 - 6.0</text>
<text x="351.4" y="407.4" font-size="23.4" fill="#111" textLength="28" lengthAdjust="spacingAndGlyphs" stroke="#111" stroke-width="0.25">(g)</text>
</g>
</svg>
</body></html>
